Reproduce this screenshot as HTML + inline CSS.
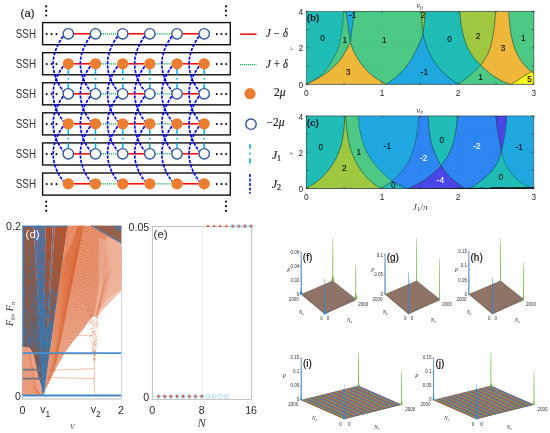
<!DOCTYPE html>
<html lang="en"><head><meta charset="utf-8"><title>Figure</title>
<style>
html,body{margin:0;padding:0;background:#fff;}
body{width:550px;height:433px;overflow:hidden;font-family:"Liberation Sans", sans-serif;}
svg{display:block;font-family:"Liberation Sans", sans-serif;}
</style></head><body>
<svg width="550" height="433" viewBox="0 0 550 433">
<rect width="550" height="433" fill="#fff"/>
<g id="pa">
<text x="20.6" y="16.6" font-size="11.4" fill="#151515" stroke="#151515" stroke-width="0.15">(a)</text>
<rect x="42.6" y="22.60" width="187.7" height="22.1" fill="#fff" stroke="#111" stroke-width="1.4"/>
<rect x="42.6" y="52.68" width="187.7" height="22.1" fill="#fff" stroke="#111" stroke-width="1.4"/>
<rect x="42.6" y="82.76" width="187.7" height="22.1" fill="#fff" stroke="#111" stroke-width="1.4"/>
<rect x="42.6" y="112.84" width="187.7" height="22.1" fill="#fff" stroke="#111" stroke-width="1.4"/>
<rect x="42.6" y="142.92" width="187.7" height="22.1" fill="#fff" stroke="#111" stroke-width="1.4"/>
<rect x="42.6" y="173.00" width="187.7" height="22.1" fill="#fff" stroke="#111" stroke-width="1.4"/>
<text x="15.8" y="37.8" font-size="13.2" fill="#333" textLength="20.2" lengthAdjust="spacingAndGlyphs">SSH</text>
<circle cx="46.7" cy="34.1" r="1.05" fill="#111"/>
<circle cx="51.6" cy="34.1" r="1.05" fill="#111"/>
<circle cx="56.5" cy="34.1" r="1.05" fill="#111"/>
<circle cx="216.8" cy="34.1" r="1.05" fill="#111"/>
<circle cx="221.5" cy="34.1" r="1.05" fill="#111"/>
<circle cx="226.2" cy="34.1" r="1.05" fill="#111"/>
<text x="15.8" y="67.8" font-size="13.2" fill="#333" textLength="20.2" lengthAdjust="spacingAndGlyphs">SSH</text>
<circle cx="46.7" cy="64.1" r="1.05" fill="#111"/>
<circle cx="51.6" cy="64.1" r="1.05" fill="#111"/>
<circle cx="56.5" cy="64.1" r="1.05" fill="#111"/>
<circle cx="216.8" cy="64.1" r="1.05" fill="#111"/>
<circle cx="221.5" cy="64.1" r="1.05" fill="#111"/>
<circle cx="226.2" cy="64.1" r="1.05" fill="#111"/>
<text x="15.8" y="97.8" font-size="13.2" fill="#333" textLength="20.2" lengthAdjust="spacingAndGlyphs">SSH</text>
<circle cx="46.7" cy="94.1" r="1.05" fill="#111"/>
<circle cx="51.6" cy="94.1" r="1.05" fill="#111"/>
<circle cx="56.5" cy="94.1" r="1.05" fill="#111"/>
<circle cx="216.8" cy="94.1" r="1.05" fill="#111"/>
<circle cx="221.5" cy="94.1" r="1.05" fill="#111"/>
<circle cx="226.2" cy="94.1" r="1.05" fill="#111"/>
<text x="15.8" y="127.8" font-size="13.2" fill="#333" textLength="20.2" lengthAdjust="spacingAndGlyphs">SSH</text>
<circle cx="46.7" cy="124.1" r="1.05" fill="#111"/>
<circle cx="51.6" cy="124.1" r="1.05" fill="#111"/>
<circle cx="56.5" cy="124.1" r="1.05" fill="#111"/>
<circle cx="216.8" cy="124.1" r="1.05" fill="#111"/>
<circle cx="221.5" cy="124.1" r="1.05" fill="#111"/>
<circle cx="226.2" cy="124.1" r="1.05" fill="#111"/>
<text x="15.8" y="157.8" font-size="13.2" fill="#333" textLength="20.2" lengthAdjust="spacingAndGlyphs">SSH</text>
<circle cx="46.7" cy="154.1" r="1.05" fill="#111"/>
<circle cx="51.6" cy="154.1" r="1.05" fill="#111"/>
<circle cx="56.5" cy="154.1" r="1.05" fill="#111"/>
<circle cx="216.8" cy="154.1" r="1.05" fill="#111"/>
<circle cx="221.5" cy="154.1" r="1.05" fill="#111"/>
<circle cx="226.2" cy="154.1" r="1.05" fill="#111"/>
<text x="15.8" y="187.8" font-size="13.2" fill="#333" textLength="20.2" lengthAdjust="spacingAndGlyphs">SSH</text>
<circle cx="46.7" cy="184.1" r="1.05" fill="#111"/>
<circle cx="51.6" cy="184.1" r="1.05" fill="#111"/>
<circle cx="56.5" cy="184.1" r="1.05" fill="#111"/>
<circle cx="216.8" cy="184.1" r="1.05" fill="#111"/>
<circle cx="221.5" cy="184.1" r="1.05" fill="#111"/>
<circle cx="226.2" cy="184.1" r="1.05" fill="#111"/>
<circle cx="46.2" cy="6.4" r="1.1" fill="#111"/>
<circle cx="46.2" cy="10.9" r="1.1" fill="#111"/>
<circle cx="46.2" cy="15.5" r="1.1" fill="#111"/>
<circle cx="46.2" cy="201.6" r="1.1" fill="#111"/>
<circle cx="46.2" cy="206.2" r="1.1" fill="#111"/>
<circle cx="46.2" cy="210.9" r="1.1" fill="#111"/>
<circle cx="226" cy="6.4" r="1.1" fill="#111"/>
<circle cx="226" cy="10.9" r="1.1" fill="#111"/>
<circle cx="226" cy="15.5" r="1.1" fill="#111"/>
<circle cx="226" cy="201.6" r="1.1" fill="#111"/>
<circle cx="226" cy="206.2" r="1.1" fill="#111"/>
<circle cx="226" cy="210.9" r="1.1" fill="#111"/>
<line x1="73.8" y1="33.8" x2="90.0" y2="33.8" stroke="#ff0000" stroke-width="1.5"/>
<line x1="101.0" y1="33.8" x2="117.2" y2="33.8" stroke="#00b050" stroke-width="1.3" stroke-dasharray="1.1 0.9"/>
<line x1="128.2" y1="33.8" x2="144.3" y2="33.8" stroke="#ff0000" stroke-width="1.5"/>
<line x1="155.3" y1="33.8" x2="171.5" y2="33.8" stroke="#00b050" stroke-width="1.3" stroke-dasharray="1.1 0.9"/>
<line x1="182.5" y1="33.8" x2="198.7" y2="33.8" stroke="#ff0000" stroke-width="1.5"/>
<line x1="73.8" y1="63.8" x2="90.0" y2="63.8" stroke="#ff0000" stroke-width="1.5"/>
<line x1="101.0" y1="63.8" x2="117.2" y2="63.8" stroke="#00b050" stroke-width="1.3" stroke-dasharray="1.1 0.9"/>
<line x1="128.2" y1="63.8" x2="144.3" y2="63.8" stroke="#ff0000" stroke-width="1.5"/>
<line x1="155.3" y1="63.8" x2="171.5" y2="63.8" stroke="#00b050" stroke-width="1.3" stroke-dasharray="1.1 0.9"/>
<line x1="182.5" y1="63.8" x2="198.7" y2="63.8" stroke="#ff0000" stroke-width="1.5"/>
<line x1="73.8" y1="93.8" x2="90.0" y2="93.8" stroke="#ff0000" stroke-width="1.5"/>
<line x1="101.0" y1="93.8" x2="117.2" y2="93.8" stroke="#00b050" stroke-width="1.3" stroke-dasharray="1.1 0.9"/>
<line x1="128.2" y1="93.8" x2="144.3" y2="93.8" stroke="#ff0000" stroke-width="1.5"/>
<line x1="155.3" y1="93.8" x2="171.5" y2="93.8" stroke="#00b050" stroke-width="1.3" stroke-dasharray="1.1 0.9"/>
<line x1="182.5" y1="93.8" x2="198.7" y2="93.8" stroke="#ff0000" stroke-width="1.5"/>
<line x1="73.8" y1="123.8" x2="90.0" y2="123.8" stroke="#ff0000" stroke-width="1.5"/>
<line x1="101.0" y1="123.8" x2="117.2" y2="123.8" stroke="#00b050" stroke-width="1.3" stroke-dasharray="1.1 0.9"/>
<line x1="128.2" y1="123.8" x2="144.3" y2="123.8" stroke="#ff0000" stroke-width="1.5"/>
<line x1="155.3" y1="123.8" x2="171.5" y2="123.8" stroke="#00b050" stroke-width="1.3" stroke-dasharray="1.1 0.9"/>
<line x1="182.5" y1="123.8" x2="198.7" y2="123.8" stroke="#ff0000" stroke-width="1.5"/>
<line x1="73.8" y1="153.8" x2="90.0" y2="153.8" stroke="#ff0000" stroke-width="1.5"/>
<line x1="101.0" y1="153.8" x2="117.2" y2="153.8" stroke="#00b050" stroke-width="1.3" stroke-dasharray="1.1 0.9"/>
<line x1="128.2" y1="153.8" x2="144.3" y2="153.8" stroke="#ff0000" stroke-width="1.5"/>
<line x1="155.3" y1="153.8" x2="171.5" y2="153.8" stroke="#00b050" stroke-width="1.3" stroke-dasharray="1.1 0.9"/>
<line x1="182.5" y1="153.8" x2="198.7" y2="153.8" stroke="#ff0000" stroke-width="1.5"/>
<line x1="73.8" y1="183.8" x2="90.0" y2="183.8" stroke="#ff0000" stroke-width="1.5"/>
<line x1="101.0" y1="183.8" x2="117.2" y2="183.8" stroke="#00b050" stroke-width="1.3" stroke-dasharray="1.1 0.9"/>
<line x1="128.2" y1="183.8" x2="144.3" y2="183.8" stroke="#ff0000" stroke-width="1.5"/>
<line x1="155.3" y1="183.8" x2="171.5" y2="183.8" stroke="#00b050" stroke-width="1.3" stroke-dasharray="1.1 0.9"/>
<line x1="182.5" y1="183.8" x2="198.7" y2="183.8" stroke="#ff0000" stroke-width="1.5"/>
<path d="M68.3 68.8V74.6M68.3 78.0v1.6M68.3 83.4V88.8" stroke="#00b0f0" stroke-width="1.5" fill="none"/>
<path d="M95.5 68.8V74.6M95.5 78.0v1.6M95.5 83.4V88.8" stroke="#00b0f0" stroke-width="1.5" fill="none"/>
<path d="M122.7 68.8V74.6M122.7 78.0v1.6M122.7 83.4V88.8" stroke="#00b0f0" stroke-width="1.5" fill="none"/>
<path d="M149.8 68.8V74.6M149.8 78.0v1.6M149.8 83.4V88.8" stroke="#00b0f0" stroke-width="1.5" fill="none"/>
<path d="M177.0 68.8V74.6M177.0 78.0v1.6M177.0 83.4V88.8" stroke="#00b0f0" stroke-width="1.5" fill="none"/>
<path d="M204.2 68.8V74.6M204.2 78.0v1.6M204.2 83.4V88.8" stroke="#00b0f0" stroke-width="1.5" fill="none"/>
<path d="M68.3 128.8V134.6M68.3 138.0v1.6M68.3 143.4V148.8" stroke="#00b0f0" stroke-width="1.5" fill="none"/>
<path d="M95.5 128.8V134.6M95.5 138.0v1.6M95.5 143.4V148.8" stroke="#00b0f0" stroke-width="1.5" fill="none"/>
<path d="M122.7 128.8V134.6M122.7 138.0v1.6M122.7 143.4V148.8" stroke="#00b0f0" stroke-width="1.5" fill="none"/>
<path d="M149.8 128.8V134.6M149.8 138.0v1.6M149.8 143.4V148.8" stroke="#00b0f0" stroke-width="1.5" fill="none"/>
<path d="M177.0 128.8V134.6M177.0 138.0v1.6M177.0 143.4V148.8" stroke="#00b0f0" stroke-width="1.5" fill="none"/>
<path d="M204.2 128.8V134.6M204.2 138.0v1.6M204.2 143.4V148.8" stroke="#00b0f0" stroke-width="1.5" fill="none"/>
<path d="M63.3 36.3C49.8 54.3 49.8 73.3 63.3 91.3" stroke="#0000ff" stroke-width="1.65" fill="none" stroke-dasharray="3.2 1.3"/>
<path d="M63.3 66.3C49.8 84.3 49.8 103.3 63.3 121.3" stroke="#0000ff" stroke-width="1.65" fill="none" stroke-dasharray="3.2 1.3"/>
<path d="M63.3 96.3C49.8 114.3 49.8 133.3 63.3 151.3" stroke="#0000ff" stroke-width="1.65" fill="none" stroke-dasharray="3.2 1.3"/>
<path d="M63.3 126.3C49.8 144.3 49.8 163.3 63.3 181.3" stroke="#0000ff" stroke-width="1.65" fill="none" stroke-dasharray="3.2 1.3"/>
<path d="M90.5 36.3C77.0 54.3 77.0 73.3 90.5 91.3" stroke="#0000ff" stroke-width="1.65" fill="none" stroke-dasharray="3.2 1.3"/>
<path d="M90.5 66.3C77.0 84.3 77.0 103.3 90.5 121.3" stroke="#0000ff" stroke-width="1.65" fill="none" stroke-dasharray="3.2 1.3"/>
<path d="M90.5 96.3C77.0 114.3 77.0 133.3 90.5 151.3" stroke="#0000ff" stroke-width="1.65" fill="none" stroke-dasharray="3.2 1.3"/>
<path d="M90.5 126.3C77.0 144.3 77.0 163.3 90.5 181.3" stroke="#0000ff" stroke-width="1.65" fill="none" stroke-dasharray="3.2 1.3"/>
<path d="M117.7 36.3C104.2 54.3 104.2 73.3 117.7 91.3" stroke="#0000ff" stroke-width="1.65" fill="none" stroke-dasharray="3.2 1.3"/>
<path d="M117.7 66.3C104.2 84.3 104.2 103.3 117.7 121.3" stroke="#0000ff" stroke-width="1.65" fill="none" stroke-dasharray="3.2 1.3"/>
<path d="M117.7 96.3C104.2 114.3 104.2 133.3 117.7 151.3" stroke="#0000ff" stroke-width="1.65" fill="none" stroke-dasharray="3.2 1.3"/>
<path d="M117.7 126.3C104.2 144.3 104.2 163.3 117.7 181.3" stroke="#0000ff" stroke-width="1.65" fill="none" stroke-dasharray="3.2 1.3"/>
<path d="M144.8 36.3C131.3 54.3 131.3 73.3 144.8 91.3" stroke="#0000ff" stroke-width="1.65" fill="none" stroke-dasharray="3.2 1.3"/>
<path d="M144.8 66.3C131.3 84.3 131.3 103.3 144.8 121.3" stroke="#0000ff" stroke-width="1.65" fill="none" stroke-dasharray="3.2 1.3"/>
<path d="M144.8 96.3C131.3 114.3 131.3 133.3 144.8 151.3" stroke="#0000ff" stroke-width="1.65" fill="none" stroke-dasharray="3.2 1.3"/>
<path d="M144.8 126.3C131.3 144.3 131.3 163.3 144.8 181.3" stroke="#0000ff" stroke-width="1.65" fill="none" stroke-dasharray="3.2 1.3"/>
<path d="M172.0 36.3C158.5 54.3 158.5 73.3 172.0 91.3" stroke="#0000ff" stroke-width="1.65" fill="none" stroke-dasharray="3.2 1.3"/>
<path d="M172.0 66.3C158.5 84.3 158.5 103.3 172.0 121.3" stroke="#0000ff" stroke-width="1.65" fill="none" stroke-dasharray="3.2 1.3"/>
<path d="M172.0 96.3C158.5 114.3 158.5 133.3 172.0 151.3" stroke="#0000ff" stroke-width="1.65" fill="none" stroke-dasharray="3.2 1.3"/>
<path d="M172.0 126.3C158.5 144.3 158.5 163.3 172.0 181.3" stroke="#0000ff" stroke-width="1.65" fill="none" stroke-dasharray="3.2 1.3"/>
<path d="M199.2 36.3C185.7 54.3 185.7 73.3 199.2 91.3" stroke="#0000ff" stroke-width="1.65" fill="none" stroke-dasharray="3.2 1.3"/>
<path d="M199.2 66.3C185.7 84.3 185.7 103.3 199.2 121.3" stroke="#0000ff" stroke-width="1.65" fill="none" stroke-dasharray="3.2 1.3"/>
<path d="M199.2 96.3C185.7 114.3 185.7 133.3 199.2 151.3" stroke="#0000ff" stroke-width="1.65" fill="none" stroke-dasharray="3.2 1.3"/>
<path d="M199.2 126.3C185.7 144.3 185.7 163.3 199.2 181.3" stroke="#0000ff" stroke-width="1.65" fill="none" stroke-dasharray="3.2 1.3"/>
<circle cx="68.3" cy="33.8" r="5.2" fill="#fff" stroke="#2f5597" stroke-width="1.4"/>
<circle cx="95.5" cy="33.8" r="5.2" fill="#fff" stroke="#2f5597" stroke-width="1.4"/>
<circle cx="122.7" cy="33.8" r="5.2" fill="#fff" stroke="#2f5597" stroke-width="1.4"/>
<circle cx="149.8" cy="33.8" r="5.2" fill="#fff" stroke="#2f5597" stroke-width="1.4"/>
<circle cx="177.0" cy="33.8" r="5.2" fill="#fff" stroke="#2f5597" stroke-width="1.4"/>
<circle cx="204.2" cy="33.8" r="5.2" fill="#fff" stroke="#2f5597" stroke-width="1.4"/>
<circle cx="68.3" cy="63.8" r="5.6" fill="#ed7d31"/>
<circle cx="95.5" cy="63.8" r="5.6" fill="#ed7d31"/>
<circle cx="122.7" cy="63.8" r="5.6" fill="#ed7d31"/>
<circle cx="149.8" cy="63.8" r="5.6" fill="#ed7d31"/>
<circle cx="177.0" cy="63.8" r="5.6" fill="#ed7d31"/>
<circle cx="204.2" cy="63.8" r="5.6" fill="#ed7d31"/>
<circle cx="68.3" cy="93.8" r="5.2" fill="#fff" stroke="#2f5597" stroke-width="1.4"/>
<circle cx="95.5" cy="93.8" r="5.2" fill="#fff" stroke="#2f5597" stroke-width="1.4"/>
<circle cx="122.7" cy="93.8" r="5.2" fill="#fff" stroke="#2f5597" stroke-width="1.4"/>
<circle cx="149.8" cy="93.8" r="5.2" fill="#fff" stroke="#2f5597" stroke-width="1.4"/>
<circle cx="177.0" cy="93.8" r="5.2" fill="#fff" stroke="#2f5597" stroke-width="1.4"/>
<circle cx="204.2" cy="93.8" r="5.2" fill="#fff" stroke="#2f5597" stroke-width="1.4"/>
<circle cx="68.3" cy="123.8" r="5.6" fill="#ed7d31"/>
<circle cx="95.5" cy="123.8" r="5.6" fill="#ed7d31"/>
<circle cx="122.7" cy="123.8" r="5.6" fill="#ed7d31"/>
<circle cx="149.8" cy="123.8" r="5.6" fill="#ed7d31"/>
<circle cx="177.0" cy="123.8" r="5.6" fill="#ed7d31"/>
<circle cx="204.2" cy="123.8" r="5.6" fill="#ed7d31"/>
<circle cx="68.3" cy="153.8" r="5.2" fill="#fff" stroke="#2f5597" stroke-width="1.4"/>
<circle cx="95.5" cy="153.8" r="5.2" fill="#fff" stroke="#2f5597" stroke-width="1.4"/>
<circle cx="122.7" cy="153.8" r="5.2" fill="#fff" stroke="#2f5597" stroke-width="1.4"/>
<circle cx="149.8" cy="153.8" r="5.2" fill="#fff" stroke="#2f5597" stroke-width="1.4"/>
<circle cx="177.0" cy="153.8" r="5.2" fill="#fff" stroke="#2f5597" stroke-width="1.4"/>
<circle cx="204.2" cy="153.8" r="5.2" fill="#fff" stroke="#2f5597" stroke-width="1.4"/>
<circle cx="68.3" cy="183.8" r="5.6" fill="#ed7d31"/>
<circle cx="95.5" cy="183.8" r="5.6" fill="#ed7d31"/>
<circle cx="122.7" cy="183.8" r="5.6" fill="#ed7d31"/>
<circle cx="149.8" cy="183.8" r="5.6" fill="#ed7d31"/>
<circle cx="177.0" cy="183.8" r="5.6" fill="#ed7d31"/>
<circle cx="204.2" cy="183.8" r="5.6" fill="#ed7d31"/>
<line x1="240" y1="34.2" x2="256.5" y2="34.2" stroke="#ff0000" stroke-width="1.5"/>
<line x1="240" y1="64.7" x2="256.5" y2="64.7" stroke="#00b050" stroke-width="1.3" stroke-dasharray="1.1 0.9"/>
<circle cx="250" cy="93.7" r="5.6" fill="#ed7d31"/>
<circle cx="251" cy="124.2" r="5.2" fill="#fff" stroke="#2f5597" stroke-width="1.4"/>
<path d="M250 144.3v4.4M250 152.8v1.6M250 158.2v5.2" stroke="#00b0f0" stroke-width="1.6" fill="none"/>
<line x1="250" y1="173.9" x2="250" y2="193.7" stroke="#0000ff" stroke-width="1.5" stroke-dasharray="3.2 1.3"/>
<text x="266" y="37.2" style='font-family:"Liberation Serif", serif;font-style:italic;font-size:11.5px;fill:#262626;stroke:#262626;stroke-width:0.2px' textLength="22" lengthAdjust="spacingAndGlyphs">J − δ</text>
<text x="266" y="67.8" style='font-family:"Liberation Serif", serif;font-style:italic;font-size:11.5px;fill:#262626;stroke:#262626;stroke-width:0.2px' textLength="22" lengthAdjust="spacingAndGlyphs">J + δ</text>
<text x="274" y="96" style='font-family:"Liberation Serif", serif;font-style:italic;font-size:11.5px;fill:#262626;stroke:#262626;stroke-width:0.2px'><tspan font-style="normal">2</tspan>μ</text>
<text x="266.5" y="126.4" style='font-family:"Liberation Serif", serif;font-style:italic;font-size:11.5px;fill:#262626;stroke:#262626;stroke-width:0.2px'><tspan font-style="normal">−2</tspan>μ</text>
<text x="272" y="158.5" style='font-family:"Liberation Serif", serif;font-style:italic;font-size:11.5px;fill:#262626;stroke:#262626;stroke-width:0.2px'>J<tspan font-style="normal" font-size="8" dy="2">1</tspan></text>
<text x="272" y="188.3" style='font-family:"Liberation Serif", serif;font-style:italic;font-size:11.5px;fill:#262626;stroke:#262626;stroke-width:0.2px'>J<tspan font-style="normal" font-size="8" dy="2">2</tspan></text>
</g>
<g id="pb">
<clipPath id="cb"><rect x="306.2" y="11.2" width="227.7" height="73.2"/></clipPath><g clip-path="url(#cb)">
<rect x="306.2" y="11.2" width="227.7" height="73.2" fill="#1fbdb6"/>
<path d="M306.2 84.4C308.0 83.3 313.9 80.1 316.9 78.0C319.9 75.9 322.1 74.1 324.2 72.0C326.2 69.9 327.8 67.5 329.2 65.5C330.6 63.5 331.2 62.1 332.4 60.0C333.6 57.9 335.1 55.9 336.3 53.0C337.6 50.1 338.9 46.2 339.9 42.4C340.8 38.5 341.4 34.0 342.0 29.9C342.6 25.8 342.9 20.6 343.2 17.5C343.5 14.4 343.6 12.2 343.7 11.2L346.1 11.2C346.5 14.2 347.9 23.8 348.6 29.0C349.3 34.2 350.2 40.2 350.5 42.4L350.5 42.4C349.7 43.8 347.6 48.0 345.9 50.9C344.2 53.8 342.1 57.5 340.2 60.0C338.3 62.5 336.6 64.0 334.5 66.0C332.4 68.0 330.4 70.0 327.8 72.0C325.2 74.0 322.3 75.9 318.7 78.0C315.1 80.1 308.3 83.3 306.2 84.4Z" fill="#4bc985" stroke="#1b3b33" stroke-width="0.45" stroke-opacity="0.85" stroke-linejoin="round"/>
<path d="M346.1 11.2C346.5 14.2 347.9 23.8 348.6 29.0C349.3 34.2 350.2 40.2 350.5 42.4L350.5 42.4C350.8 40.3 351.3 35.2 352.0 30.0C352.7 24.8 354.1 14.3 354.5 11.2Z" fill="#1fa8e0" stroke="#1b3b33" stroke-width="0.45" stroke-opacity="0.85" stroke-linejoin="round"/>
<path d="M306.2 84.4C308.3 83.3 315.1 80.1 318.7 78.0C322.3 75.9 325.2 74.0 327.8 72.0C330.4 70.0 332.4 68.0 334.5 66.0C336.6 64.0 338.3 62.5 340.2 60.0C342.1 57.5 344.2 53.8 345.9 50.9C347.6 48.0 349.7 43.8 350.5 42.4L350.5 42.4C351.2 44.1 352.5 49.0 354.5 52.8C356.5 56.6 359.4 61.5 362.4 65.3C365.4 69.1 368.7 72.5 372.7 75.7C376.7 78.9 384.0 83.0 386.3 84.4Z" fill="#efb83a" stroke="#1b3b33" stroke-width="0.45" stroke-opacity="0.85" stroke-linejoin="round"/>
<path d="M354.5 11.2C354.1 14.3 352.7 24.8 352.0 30.0C351.3 35.2 350.8 40.3 350.5 42.4L350.5 42.4C351.2 44.1 352.5 49.0 354.5 52.8C356.5 56.6 359.4 61.5 362.4 65.3C365.4 69.1 368.7 72.5 372.7 75.7C376.7 78.9 384.0 83.0 386.3 84.4L386.3 84.4C388.0 83.1 393.5 79.4 396.6 76.7C399.7 74.0 402.3 71.5 404.9 68.4C407.5 65.3 410.1 61.5 412.2 58.0C414.3 54.5 415.8 50.9 417.4 47.6C419.0 44.3 420.7 40.5 421.6 38.3C422.5 36.0 422.8 34.8 423.0 34.1L423.0 34.1C422.9 32.7 422.7 29.6 422.4 25.8C422.1 22.0 421.5 13.6 421.3 11.2Z" fill="#4bc985" stroke="#1b3b33" stroke-width="0.45" stroke-opacity="0.85" stroke-linejoin="round"/>
<path d="M421.3 11.2C421.5 13.6 422.1 22.0 422.4 25.8C422.7 29.6 422.9 32.7 423.0 34.1L423.0 34.1C423.2 32.7 423.6 29.6 424.0 25.8C424.4 22.0 425.4 13.6 425.7 11.2Z" fill="#9fc840" stroke="#1b3b33" stroke-width="0.45" stroke-opacity="0.85" stroke-linejoin="round"/>
<path d="M386.3 84.4C388.0 83.1 393.5 79.4 396.6 76.7C399.7 74.0 402.3 71.5 404.9 68.4C407.5 65.3 410.1 61.5 412.2 58.0C414.3 54.5 415.8 50.9 417.4 47.6C419.0 44.3 420.7 40.5 421.6 38.3C422.5 36.0 422.8 34.8 423.0 34.1L423.0 34.1C423.6 36.2 425.0 42.1 426.8 46.6C428.6 51.1 431.1 56.6 434.0 61.1C436.9 65.6 440.4 69.7 444.4 73.6C448.4 77.5 455.9 82.6 458.2 84.4Z" fill="#1fa8e0" stroke="#1b3b33" stroke-width="0.45" stroke-opacity="0.85" stroke-linejoin="round"/>
<path d="M425.7 11.2C425.4 13.6 424.4 22.0 424.0 25.8C423.6 29.6 423.2 32.7 423.0 34.1L423.0 34.1C423.6 36.2 425.0 42.1 426.8 46.6C428.6 51.1 431.1 56.6 434.0 61.1C436.9 65.6 440.4 69.7 444.4 73.6C448.4 77.5 455.9 82.6 458.2 84.4L458.2 84.4C460.1 83.0 465.9 78.9 469.7 75.7C473.5 72.5 478.9 67.0 480.8 65.3L480.8 65.3C479.3 63.6 474.3 58.7 471.8 54.9C469.3 51.1 467.3 47.2 465.6 42.4C463.9 37.5 462.3 31.0 461.4 25.8C460.5 20.6 460.2 13.6 460.0 11.2Z" fill="#1fbdb6" stroke="#1b3b33" stroke-width="0.45" stroke-opacity="0.85" stroke-linejoin="round"/>
<path d="M460.0 11.2C460.2 13.6 460.5 20.6 461.4 25.8C462.3 31.0 463.9 37.5 465.6 42.4C467.3 47.2 469.3 51.1 471.8 54.9C474.3 58.7 479.3 63.6 480.8 65.3L480.8 65.3C482.1 63.2 486.5 57.3 488.5 52.8C490.5 48.3 491.6 43.1 492.6 38.3C493.6 33.4 494.2 28.2 494.7 23.7C495.2 19.2 495.5 13.3 495.7 11.2Z" fill="#9fc840" stroke="#1b3b33" stroke-width="0.45" stroke-opacity="0.85" stroke-linejoin="round"/>
<path d="M458.2 84.4C460.1 83.0 465.9 78.9 469.7 75.7C473.5 72.5 478.9 67.0 480.8 65.3L480.8 65.3C482.6 66.8 488.1 72.0 491.6 74.6C495.1 77.2 498.7 79.3 502.0 80.9C505.3 82.5 509.8 83.8 511.3 84.4Z" fill="#4bc985" stroke="#1b3b33" stroke-width="0.45" stroke-opacity="0.85" stroke-linejoin="round"/>
<path d="M480.8 65.3C482.1 63.2 486.5 57.3 488.5 52.8C490.5 48.3 491.6 43.1 492.6 38.3C493.6 33.4 494.2 28.2 494.7 23.7C495.2 19.2 495.5 13.3 495.7 11.2L508.8 11.2C509.0 13.6 509.3 21.0 509.9 25.8C510.5 30.6 511.1 35.4 512.4 40.3C513.7 45.1 515.5 50.7 517.6 54.9C519.7 59.1 522.5 62.5 524.8 65.3C527.1 68.1 530.4 70.6 531.5 71.7L531.5 71.7C530.4 72.4 526.9 74.4 524.8 75.7C522.6 77.0 520.9 78.3 518.6 79.8C516.4 81.2 512.5 83.6 511.3 84.4L511.3 84.4C509.8 83.8 505.3 82.5 502.0 80.9C498.7 79.3 495.1 77.2 491.6 74.6C488.1 72.0 482.6 66.8 480.8 65.3Z" fill="#efb83a" stroke="#1b3b33" stroke-width="0.45" stroke-opacity="0.85" stroke-linejoin="round"/>
<path d="M508.8 11.2C509.0 13.6 509.3 21.0 509.9 25.8C510.5 30.6 511.1 35.4 512.4 40.3C513.7 45.1 515.5 50.7 517.6 54.9C519.7 59.1 522.5 62.5 524.8 65.3C527.1 68.1 529.9 70.4 531.5 71.7C533.1 73.0 533.8 73.0 534.2 73.2L534.2 73.2L534.2 11.2Z" fill="#4bc985" stroke="#1b3b33" stroke-width="0.45" stroke-opacity="0.85" stroke-linejoin="round"/>
<path d="M511.3 84.4C512.5 83.6 516.4 81.2 518.6 79.8C520.9 78.3 522.6 77.0 524.8 75.7C526.9 74.4 530.4 72.4 531.5 71.7L531.5 71.7L534.2 73.2L534.2 73.2L534.2 84.4Z" fill="#f7f71a" stroke="#1b3b33" stroke-width="0.45" stroke-opacity="0.85" stroke-linejoin="round"/>
<path d="M531.5 71.7L534.2 70.0L534.2 70.0L534.2 73.2Z" fill="#efb83a" stroke="#1b3b33" stroke-width="0.45" stroke-opacity="0.85" stroke-linejoin="round"/>
</g>
<text transform="translate(322.6 40.9) scale(0.9 1)" font-size="9.2" text-anchor="middle" fill="#111" stroke="#111" stroke-width="0.12">0</text>
<text transform="translate(344.9 43.3) scale(0.9 1)" font-size="9.2" text-anchor="middle" fill="#111" stroke="#111" stroke-width="0.12">1</text>
<text transform="translate(352.6 18.1) scale(0.9 1)" font-size="9.2" text-anchor="middle" fill="#111" stroke="#111" stroke-width="0.12">-1</text>
<text transform="translate(384.4 42.6) scale(0.9 1)" font-size="9.2" text-anchor="middle" fill="#111" stroke="#111" stroke-width="0.12">1</text>
<text transform="translate(348.2 74.7) scale(0.9 1)" font-size="9.2" text-anchor="middle" fill="#111" stroke="#111" stroke-width="0.12">3</text>
<text transform="translate(423.0 17.9) scale(0.9 1)" font-size="9.2" text-anchor="middle" fill="#111" stroke="#111" stroke-width="0.12">2</text>
<text transform="translate(449.6 41.6) scale(0.9 1)" font-size="9.2" text-anchor="middle" fill="#111" stroke="#111" stroke-width="0.12">0</text>
<text transform="translate(424.3 74.7) scale(0.9 1)" font-size="9.2" text-anchor="middle" fill="#111" stroke="#111" stroke-width="0.12">-1</text>
<text transform="translate(478.0 39.1) scale(0.9 1)" font-size="9.2" text-anchor="middle" fill="#111" stroke="#111" stroke-width="0.12">2</text>
<text transform="translate(503.0 50.9) scale(0.9 1)" font-size="9.2" text-anchor="middle" fill="#111" stroke="#111" stroke-width="0.12">3</text>
<text transform="translate(523.2 40.7) scale(0.9 1)" font-size="9.2" text-anchor="middle" fill="#111" stroke="#111" stroke-width="0.12">1</text>
<text transform="translate(480.6 79.6) scale(0.9 1)" font-size="9.2" text-anchor="middle" fill="#111" stroke="#111" stroke-width="0.12">1</text>
<text transform="translate(529.6 81.7) scale(0.9 1)" font-size="9.2" text-anchor="middle" fill="#111" stroke="#111" stroke-width="0.12">5</text>
<line x1="344.1" y1="11.2" x2="344.1" y2="84.4" stroke="#000" stroke-opacity="0.05" stroke-width="0.5"/>
<line x1="382.1" y1="11.2" x2="382.1" y2="84.4" stroke="#000" stroke-opacity="0.05" stroke-width="0.5"/>
<line x1="420.0" y1="11.2" x2="420.0" y2="84.4" stroke="#000" stroke-opacity="0.05" stroke-width="0.5"/>
<line x1="458.0" y1="11.2" x2="458.0" y2="84.4" stroke="#000" stroke-opacity="0.05" stroke-width="0.5"/>
<line x1="495.9" y1="11.2" x2="495.9" y2="84.4" stroke="#000" stroke-opacity="0.05" stroke-width="0.5"/>
<line x1="306.2" y1="66.1" x2="533.9" y2="66.1" stroke="#000" stroke-opacity="0.05" stroke-width="0.5"/>
<line x1="306.2" y1="47.8" x2="533.9" y2="47.8" stroke="#000" stroke-opacity="0.05" stroke-width="0.5"/>
<line x1="306.2" y1="29.5" x2="533.9" y2="29.5" stroke="#000" stroke-opacity="0.05" stroke-width="0.5"/>
<rect x="306.2" y="11.2" width="227.7" height="73.2" fill="none" stroke="#333" stroke-width="0.5"/>
<path d="M306.2 84.4v-2M306.2 11.2v2" stroke="#222" stroke-width="0.5"/>
<path d="M344.1 84.4v-2M344.1 11.2v2" stroke="#222" stroke-width="0.5"/>
<path d="M382.1 84.4v-2M382.1 11.2v2" stroke="#222" stroke-width="0.5"/>
<path d="M420.0 84.4v-2M420.0 11.2v2" stroke="#222" stroke-width="0.5"/>
<path d="M458.0 84.4v-2M458.0 11.2v2" stroke="#222" stroke-width="0.5"/>
<path d="M495.9 84.4v-2M495.9 11.2v2" stroke="#222" stroke-width="0.5"/>
<path d="M533.9 84.4v-2M533.9 11.2v2" stroke="#222" stroke-width="0.5"/>
<path d="M306.2 84.4h2M533.9 84.4h-2" stroke="#222" stroke-width="0.5"/>
<path d="M306.2 66.1h2M533.9 66.1h-2" stroke="#222" stroke-width="0.5"/>
<path d="M306.2 47.8h2M533.9 47.8h-2" stroke="#222" stroke-width="0.5"/>
<path d="M306.2 29.5h2M533.9 29.5h-2" stroke="#222" stroke-width="0.5"/>
<path d="M306.2 11.2h2M533.9 11.2h-2" stroke="#222" stroke-width="0.5"/>
<text x="306.2" y="96.2" font-size="8.3" text-anchor="middle" fill="#262626">0</text>
<text x="382.1" y="96.2" font-size="8.3" text-anchor="middle" fill="#262626">1</text>
<text x="458.0" y="96.2" font-size="8.3" text-anchor="middle" fill="#262626">2</text>
<text x="533.9" y="96.2" font-size="8.3" text-anchor="middle" fill="#262626">3</text>
<text x="303.2" y="88.0" font-size="8.3" text-anchor="end" fill="#262626">0</text>
<text x="303.2" y="51.4" font-size="8.3" text-anchor="end" fill="#262626">2</text>
<text x="303.2" y="14.8" font-size="8.3" text-anchor="end" fill="#262626">4</text>
<text x="306.8" y="20.8" font-size="9.9" font-weight="bold" fill="#0e1d24">(b)</text>
<text x="419.6" y="8.2" font-family='"Liberation Serif", serif' font-style="italic" font-size="8" fill="#333" text-anchor="middle">ν<tspan font-size="5.5" dy="1.5" font-style="normal">0</tspan></text>
<text transform="translate(293.4 48.8) rotate(-90)" font-family='"Liberation Serif", serif' font-style="italic" font-size="6.5" fill="#555" text-anchor="middle">v</text>
</g>
<g id="pc">
<clipPath id="cc"><rect x="306.2" y="115.9" width="227.7" height="73.29999999999998"/></clipPath><g clip-path="url(#cc)">
<rect x="306.2" y="115.9" width="227.7" height="72.69999999999999" fill="#1fa8e0"/>
<path d="M306.2 188.6C307.9 187.5 313.5 184.2 316.6 181.8C319.7 179.5 322.3 177.3 324.9 174.5C327.5 171.7 330.1 168.3 332.2 165.2C334.3 162.1 335.9 159.1 337.4 155.8C338.9 152.5 340.2 148.9 341.2 145.4C342.2 141.9 342.6 138.5 343.2 135.0C343.8 131.5 344.2 127.8 344.5 124.6C344.8 121.4 344.8 117.4 344.9 115.9L344.9 115.9L306.2 115.9L306.2 115.9L306.2 188.6Z" fill="#1fbdb6" stroke="#1b3b33" stroke-width="0.45" stroke-opacity="0.85" stroke-linejoin="round"/>
<path d="M306.2 188.6C307.9 187.5 313.5 184.2 316.6 181.8C319.7 179.5 322.3 177.3 324.9 174.5C327.5 171.7 330.1 168.3 332.2 165.2C334.3 162.1 335.9 159.1 337.4 155.8C338.9 152.5 340.2 148.9 341.2 145.4C342.2 141.9 342.6 138.5 343.2 135.0C343.8 131.5 344.2 127.8 344.5 124.6C344.8 121.4 344.8 117.4 344.9 115.9L344.9 115.9L345.7 115.9L345.7 115.9C345.9 117.7 346.2 122.8 346.6 126.7C347.0 130.6 347.4 135.0 348.2 139.2C349.0 143.4 350.0 147.5 351.5 151.7C353.0 155.8 355.1 160.3 357.2 164.1C359.3 167.9 361.8 171.4 364.4 174.5C367.0 177.6 369.9 180.5 372.7 182.8C375.5 185.2 379.7 187.6 381.1 188.6Z" fill="#9fc840" stroke="#1b3b33" stroke-width="0.45" stroke-opacity="0.85" stroke-linejoin="round"/>
<path d="M345.7 115.9C345.9 117.7 346.2 122.8 346.6 126.7C347.0 130.6 347.4 135.0 348.2 139.2C349.0 143.4 350.0 147.5 351.5 151.7C353.0 155.8 355.1 160.3 357.2 164.1C359.3 167.9 361.8 171.4 364.4 174.5C367.0 177.6 369.9 180.5 372.7 182.8C375.5 185.2 379.7 187.6 381.1 188.6L381.1 188.6C382.1 187.9 385.5 185.8 387.3 184.5C389.1 183.2 391.3 181.6 392.1 181.0L392.1 181.0C390.6 179.8 386.2 176.5 383.1 173.5C380.1 170.5 376.6 166.7 373.8 163.1C371.0 159.5 368.5 155.7 366.5 151.7C364.5 147.7 363.1 143.4 361.9 139.2C360.7 135.0 359.8 130.6 359.2 126.7C358.6 122.8 358.4 117.7 358.2 115.9Z" fill="#4bc985" stroke="#1b3b33" stroke-width="0.45" stroke-opacity="0.85" stroke-linejoin="round"/>
<path d="M381.1 188.6C382.1 187.9 385.5 185.8 387.3 184.5C389.1 183.2 391.3 181.6 392.1 181.0L392.1 181.0C393.6 181.8 398.1 184.7 400.8 186.0C403.5 187.3 406.9 188.2 408.1 188.6Z" fill="#1fbdb6" stroke="#1b3b33" stroke-width="0.45" stroke-opacity="0.85" stroke-linejoin="round"/>
<path d="M392.1 181.0C393.6 179.6 398.1 175.6 400.8 172.4C403.5 169.2 406.0 165.8 408.1 162.0C410.2 158.2 411.9 153.8 413.3 149.6C414.7 145.4 415.6 141.3 416.4 137.1C417.2 132.9 417.6 128.1 418.0 124.6C418.4 121.1 418.6 117.4 418.7 115.9L428.2 115.9C428.4 118.1 428.6 124.2 429.1 128.8C429.7 133.4 430.3 138.8 431.5 143.3C432.7 147.8 434.5 152.1 436.1 155.8C437.7 159.6 440.4 164.1 441.3 165.8L441.3 165.8C439.8 167.2 435.3 171.8 432.0 174.5C428.7 177.2 425.6 179.5 421.6 181.8C417.6 184.2 410.4 187.5 408.1 188.6L408.1 188.6C406.9 188.2 403.5 187.3 400.8 186.0C398.1 184.7 393.6 181.8 392.1 181.0Z" fill="#2e86f2" stroke="#1b3b33" stroke-width="0.45" stroke-opacity="0.85" stroke-linejoin="round"/>
<path d="M428.2 115.9C428.4 118.1 428.6 124.2 429.1 128.8C429.7 133.4 430.3 138.8 431.5 143.3C432.7 147.8 434.5 152.1 436.1 155.8C437.7 159.6 440.4 164.1 441.3 165.8L441.3 165.8C442.5 164.0 446.5 158.9 448.6 154.8C450.7 150.7 452.5 146.0 453.8 141.3C455.1 136.6 455.9 130.9 456.5 126.7C457.1 122.5 457.2 117.7 457.3 115.9Z" fill="#1fbdb6" stroke="#1b3b33" stroke-width="0.45" stroke-opacity="0.85" stroke-linejoin="round"/>
<path d="M441.3 165.8C439.8 167.2 435.3 171.8 432.0 174.5C428.7 177.2 425.6 179.5 421.6 181.8C417.6 184.2 410.4 187.5 408.1 188.6L465.2 188.6C463.8 187.6 459.7 185.0 456.9 182.8C454.1 180.6 451.2 178.4 448.6 175.6C446.0 172.8 442.5 167.4 441.3 165.8Z" fill="#4a45e6" stroke="#1b3b33" stroke-width="0.45" stroke-opacity="0.85" stroke-linejoin="round"/>
<path d="M457.3 115.9C457.2 117.7 457.1 122.5 456.5 126.7C455.9 130.9 455.1 136.6 453.8 141.3C452.5 146.0 450.7 150.7 448.6 154.8C446.5 158.9 442.5 164.0 441.3 165.8L441.3 165.8C442.5 167.4 446.0 172.8 448.6 175.6C451.2 178.4 454.1 180.6 456.9 182.8C459.7 185.0 463.8 187.6 465.2 188.6L469.7 188.6C471.6 187.3 477.7 183.5 481.2 180.8C484.7 178.1 487.7 175.5 490.5 172.4C493.3 169.3 496.0 165.4 497.8 162.0C499.6 158.6 500.9 153.4 501.5 151.7L501.5 151.7C501.2 150.0 500.2 145.1 499.5 141.3C498.8 137.5 498.0 133.0 497.4 128.8C496.8 124.6 496.3 118.1 496.1 115.9Z" fill="#2e86f2" stroke="#1b3b33" stroke-width="0.45" stroke-opacity="0.85" stroke-linejoin="round"/>
<path d="M496.1 115.9C496.3 118.1 496.8 124.6 497.4 128.8C498.0 133.0 498.8 137.5 499.5 141.3C500.2 145.1 501.2 150.0 501.5 151.7L501.5 151.7C501.9 150.0 502.9 145.1 503.6 141.3C504.3 137.5 505.2 133.0 505.7 128.8C506.2 124.6 506.5 118.1 506.7 115.9Z" fill="#4a45e6" stroke="#1b3b33" stroke-width="0.45" stroke-opacity="0.85" stroke-linejoin="round"/>
<path d="M501.5 151.7C500.9 153.4 499.6 158.6 497.8 162.0C496.0 165.4 493.3 169.3 490.5 172.4C487.7 175.5 484.7 178.1 481.2 180.8C477.7 183.5 471.6 187.3 469.7 188.6L534.2 188.6C533.2 188.3 530.5 187.9 527.9 186.6C525.3 185.3 521.5 183.2 518.6 180.8C515.7 178.4 512.6 175.5 510.3 172.4C507.9 169.3 506.0 165.4 504.5 162.0C503.0 158.6 502.0 153.4 501.5 151.7Z" fill="#1fbdb6" stroke="#1b3b33" stroke-width="0.45" stroke-opacity="0.85" stroke-linejoin="round"/>
<path d="M408 189.0L408.0 188.60L408.9 188.59L409.8 188.59L410.7 188.57L411.6 188.56L412.5 188.58L413.4 188.58L414.3 188.52L415.2 188.55L416.1 188.55L417.0 188.47L417.9 188.51L418.8 188.46L419.7 188.50L420.6 188.47L421.5 188.53L422.4 188.45L423.3 188.40L424.2 188.45L425.1 188.40L426.0 188.40L426.9 188.51L427.8 188.37L428.7 188.39L429.6 188.45L430.5 188.50L431.4 188.30L432.3 188.39L433.2 188.31L434.1 188.26L435.0 188.29L435.9 188.22L436.8 188.37L437.7 188.24L438.6 188.34L439.5 188.17L440.4 188.18L441.3 188.43L442.2 188.42L443.1 188.38L444.0 188.10L444.9 188.29L445.8 188.21L446.7 188.33L447.6 188.24L448.5 188.28L449.4 188.29L450.3 188.18L451.2 188.17L452.1 188.01L453.0 188.11L453.9 187.98L454.8 188.00L455.7 187.92L456.6 188.07L457.5 188.32L458.4 187.95L459.3 187.89L460.2 187.91L461.1 188.08L462.0 187.99L462.9 188.26L463.8 187.90L464.7 188.04L465.6 188.20L466.5 188.33L467.4 187.84L468.3 187.75L469.2 188.30L470.1 187.84L471.0 188.08L471.9 188.25L472.8 188.15L473.7 187.82L474.6 187.74L475.5 188.30L476.4 187.90L477.3 188.29L478.2 187.80L479.1 188.08L480.0 187.66L480.9 187.57L481.8 187.92L482.7 187.54L483.6 188.06L484.5 188.24L485.4 187.82L486.3 188.26L487.2 188.13L488.1 187.95L489.0 187.77L489.9 188.14L490.8 188.24L491.7 187.52L492.6 187.99L493.5 187.42L494.4 187.46L495.3 187.91L496.2 187.83L497.1 187.77L498.0 187.65L498.9 187.68L499.8 187.71L500.7 187.64L501.6 187.32L502.5 187.73L503.4 187.80L504.3 187.50L505.2 187.98L506.1 187.91L507.0 187.21L507.9 187.67L508.8 187.63L509.7 188.19L510.6 187.75L511.5 187.57L512.4 188.16L513.3 187.51L514.2 187.49L515.1 188.11L516.0 187.47L516.9 187.65L517.8 187.40L518.7 187.76L519.6 187.35L520.5 187.30L521.4 188.12L522.3 188.08L523.2 187.34L524.1 186.99L525.0 187.83L525.9 187.58L526.8 187.40L527.7 187.73L528.6 187.67L529.5 187.73L530.4 187.65L531.3 187.35L532.2 187.72L533.1 187.62L534.0 187.10L534.2 189.0Z" fill="#000"/>
<line x1="462" y1="188.45" x2="533.9" y2="188.45" stroke="#000" stroke-width="1.0"/>
<line x1="490" y1="188.2" x2="533.9" y2="188.2" stroke="#000" stroke-width="1.5"/>
</g>
<text transform="translate(320.8 150.0) scale(0.9 1)" font-size="9.2" text-anchor="middle" fill="#111" stroke="#111" stroke-width="0.12">0</text>
<text transform="translate(344.3 170.8) scale(0.9 1)" font-size="9.2" text-anchor="middle" fill="#111" stroke="#111" stroke-width="0.12">2</text>
<text transform="translate(358.8 155.0) scale(0.9 1)" font-size="9.2" text-anchor="middle" fill="#111" stroke="#111" stroke-width="0.12">1</text>
<text transform="translate(387.3 149.4) scale(0.9 1)" font-size="9.2" text-anchor="middle" fill="#111" stroke="#111" stroke-width="0.12">-1</text>
<text transform="translate(393.3 187.9) scale(0.9 1)" font-size="9.2" text-anchor="middle" fill="#111" stroke="#111" stroke-width="0.12">0</text>
<text transform="translate(423.6 161.4) scale(0.9 1)" font-size="9.2" text-anchor="middle" fill="#fff" stroke="#fff" stroke-width="0.12">-2</text>
<text transform="translate(441.9 142.7) scale(0.9 1)" font-size="9.2" text-anchor="middle" fill="#111" stroke="#111" stroke-width="0.12">0</text>
<text transform="translate(440.3 182.6) scale(0.9 1)" font-size="9.2" text-anchor="middle" fill="#fff" stroke="#fff" stroke-width="0.12">-4</text>
<text transform="translate(477.0 149.4) scale(0.9 1)" font-size="9.2" text-anchor="middle" fill="#fff" stroke="#fff" stroke-width="0.12">-2</text>
<text transform="translate(519.2 149.8) scale(0.9 1)" font-size="9.2" text-anchor="middle" fill="#111" stroke="#111" stroke-width="0.12">-1</text>
<text transform="translate(500.9 179.5) scale(0.9 1)" font-size="9.2" text-anchor="middle" fill="#111" stroke="#111" stroke-width="0.12">0</text>
<line x1="344.1" y1="115.9" x2="344.1" y2="188.6" stroke="#000" stroke-opacity="0.05" stroke-width="0.5"/>
<line x1="382.1" y1="115.9" x2="382.1" y2="188.6" stroke="#000" stroke-opacity="0.05" stroke-width="0.5"/>
<line x1="420.0" y1="115.9" x2="420.0" y2="188.6" stroke="#000" stroke-opacity="0.05" stroke-width="0.5"/>
<line x1="458.0" y1="115.9" x2="458.0" y2="188.6" stroke="#000" stroke-opacity="0.05" stroke-width="0.5"/>
<line x1="495.9" y1="115.9" x2="495.9" y2="188.6" stroke="#000" stroke-opacity="0.05" stroke-width="0.5"/>
<line x1="306.2" y1="170.4" x2="533.9" y2="170.4" stroke="#000" stroke-opacity="0.05" stroke-width="0.5"/>
<line x1="306.2" y1="152.2" x2="533.9" y2="152.2" stroke="#000" stroke-opacity="0.05" stroke-width="0.5"/>
<line x1="306.2" y1="134.1" x2="533.9" y2="134.1" stroke="#000" stroke-opacity="0.05" stroke-width="0.5"/>
<rect x="306.2" y="115.9" width="227.7" height="72.69999999999999" fill="none" stroke="#333" stroke-width="0.5"/>
<path d="M306.2 188.6v-2M306.2 115.9v2" stroke="#222" stroke-width="0.5"/>
<path d="M344.1 188.6v-2M344.1 115.9v2" stroke="#222" stroke-width="0.5"/>
<path d="M382.1 188.6v-2M382.1 115.9v2" stroke="#222" stroke-width="0.5"/>
<path d="M420.0 188.6v-2M420.0 115.9v2" stroke="#222" stroke-width="0.5"/>
<path d="M458.0 188.6v-2M458.0 115.9v2" stroke="#222" stroke-width="0.5"/>
<path d="M495.9 188.6v-2M495.9 115.9v2" stroke="#222" stroke-width="0.5"/>
<path d="M533.9 188.6v-2M533.9 115.9v2" stroke="#222" stroke-width="0.5"/>
<path d="M306.2 188.6h2M533.9 188.6h-2" stroke="#222" stroke-width="0.5"/>
<path d="M306.2 170.4h2M533.9 170.4h-2" stroke="#222" stroke-width="0.5"/>
<path d="M306.2 152.2h2M533.9 152.2h-2" stroke="#222" stroke-width="0.5"/>
<path d="M306.2 134.1h2M533.9 134.1h-2" stroke="#222" stroke-width="0.5"/>
<path d="M306.2 115.9h2M533.9 115.9h-2" stroke="#222" stroke-width="0.5"/>
<text x="306.2" y="200.4" font-size="8.3" text-anchor="middle" fill="#262626">0</text>
<text x="382.1" y="200.4" font-size="8.3" text-anchor="middle" fill="#262626">1</text>
<text x="458.0" y="200.4" font-size="8.3" text-anchor="middle" fill="#262626">2</text>
<text x="533.9" y="200.4" font-size="8.3" text-anchor="middle" fill="#262626">3</text>
<text x="303.2" y="192.2" font-size="8.3" text-anchor="end" fill="#262626">0</text>
<text x="303.2" y="155.8" font-size="8.3" text-anchor="end" fill="#262626">2</text>
<text x="303.2" y="119.5" font-size="8.3" text-anchor="end" fill="#262626">4</text>
<text x="306.8" y="125.5" font-size="9.9" font-weight="bold" fill="#0e1d24">(c)</text>
<text x="419.6" y="112.8" font-family='"Liberation Serif", serif' font-style="italic" font-size="8" fill="#333" text-anchor="middle">ν<tspan font-size="5.5" dy="1.5">π</tspan></text>
<text transform="translate(293.4 153.2) rotate(-90)" font-family='"Liberation Serif", serif' font-style="italic" font-size="6.5" fill="#555" text-anchor="middle">v</text>
<text x="420.2" y="209.7" font-family='"Liberation Serif", serif' font-style="italic" font-size="9" fill="#444" text-anchor="middle" textLength="15.6" lengthAdjust="spacingAndGlyphs">J<tspan font-size="6" dy="1.5" font-style="normal">1</tspan><tspan dy="-1.5" font-style="normal">/</tspan>π</text>
</g>
<g id="pd">
<clipPath id="cd"><rect x="22.4" y="225.5" width="99.1" height="173.5"/></clipPath>
<g clip-path="url(#cd)">
<path d="M44.1 392.5L55.0 370.0L64.5 353.0L73.3 341.0L82.5 330.0L88.4 321.6L92.0 316.5L97.3 317.0L101.0 311.4L121.5 290.0L121.5 225.5L67.6 225.5Z" fill="#e98e67"/>
<path d="M106 236L121.5 243L121.5 290L101 311.4L97.3 317L96 320L103.5 282Z" fill="#f3bfa8"/>
<path d="M99 238L105.5 240L102.5 284L96 318L94 318L98.5 284Z" fill="#fff" fill-opacity="0.33"/>
<linearGradient id="gw" gradientUnits="userSpaceOnUse" x1="0" y1="270" x2="0" y2="360"><stop offset="0" stop-color="#fff" stop-opacity="0"/><stop offset="1" stop-color="#fff" stop-opacity="0.32"/></linearGradient>
<path d="M44.1 392.5L55.0 370.0L64.5 353.0L73.3 341.0L82.5 330.0L88.4 321.6L92.0 316.5L97.3 317.0L101.0 311.4L121.5 290.0L121.5 225.5L67.6 225.5Z" fill="url(#gw)"/>
<path d="M44.7 391.2Q64.8 341.5 68.4 225.5M46.0 388.6Q65.6 339.7 69.1 225.5M47.2 386.0Q66.4 337.9 69.8 225.5M48.5 383.4Q67.2 336.0 70.6 225.5M49.8 380.8Q68.1 334.2 71.3 225.5M51.0 378.2Q68.9 332.4 72.0 225.5M52.3 375.6Q69.7 330.6 72.8 225.5M53.5 373.0Q70.5 328.8 73.5 225.5M54.8 370.4Q71.3 327.0 74.2 225.5M55.9 368.4Q72.1 325.5 74.9 225.5M57.0 366.4Q72.9 324.1 75.7 225.5M58.1 364.4Q73.7 322.8 76.4 225.5M59.2 362.5Q74.4 321.4 77.1 225.5M60.3 360.5Q75.2 320.0 77.9 225.5M61.4 358.6Q76.0 318.6 78.6 225.5M62.5 356.6Q76.8 317.3 79.3 225.5M63.6 354.6Q77.6 315.9 80.1 225.5M64.7 352.8Q78.4 314.6 80.8 225.5M65.7 351.4Q79.1 313.6 81.5 225.5M66.7 350.0Q79.9 312.6 82.2 225.5M67.7 348.6Q80.7 311.7 83.0 225.5M68.7 347.2Q81.5 310.7 83.7 225.5M69.7 345.8Q82.2 309.7 84.4 225.5M70.8 344.5Q83.0 308.8 85.2 225.5M71.8 343.1Q83.8 307.8 85.9 225.5M72.8 341.7Q84.6 306.8 86.6 225.5M73.8 340.4Q85.3 305.9 87.4 225.5M74.9 339.1Q86.1 305.0 88.1 225.5M76.0 337.8Q86.9 304.1 88.8 225.5M77.0 336.6Q87.7 303.2 89.6 225.5M78.1 335.3Q88.5 302.4 90.3 225.5M79.1 334.0Q89.2 301.5 91.0 225.5M80.2 332.8Q90.0 300.6 91.8 225.5M81.3 331.5Q90.8 299.7 92.5 225.5M82.3 330.2Q91.6 298.8 93.2 225.5M83.1 329.2Q92.3 298.1 93.9 225.5M83.7 328.2Q93.0 297.4 94.7 225.5M84.4 327.3Q93.8 296.7 95.4 225.5M85.1 326.3Q94.5 296.0 96.1 225.5M85.8 325.3Q95.2 295.4 96.9 225.5M86.5 324.3Q95.9 294.7 97.6 225.5M87.2 323.4Q96.7 294.0 98.3 225.5M87.8 322.4Q97.4 293.3 99.1 225.5M88.5 321.5Q98.1 292.7 99.8 225.5M89.0 320.9Q98.8 292.3 100.5 225.5M89.6 320.3Q99.5 291.9 101.2 225.5M90.1 319.7Q100.2 291.5 102.0 225.5M90.6 319.1Q100.9 291.1 102.7 225.5M91.1 318.6Q101.6 290.6 103.4 225.5M91.7 318.0Q102.3 290.2 104.2 225.5M92.2 317.4Q103.0 289.8 104.9 225.5M92.7 316.8Q103.7 289.4 105.6 225.5" stroke="#d95319" stroke-width="0.4" fill="none" stroke-opacity="0.8" stroke-dasharray="0.7 0.55"/>
<path d="M45.4 389.9Q65.2 340.6 68.7 225.5M46.6 387.3Q66.0 338.8 69.5 225.5M47.9 384.7Q66.8 336.9 70.2 225.5M49.1 382.1Q67.7 335.1 70.9 225.5M50.4 379.5Q68.5 333.3 71.7 225.5M51.6 376.9Q69.3 331.5 72.4 225.5M52.9 374.3Q70.1 329.7 73.1 225.5M54.2 371.7Q70.9 327.9 73.8 225.5M55.4 369.3Q71.7 326.2 74.6 225.5M56.5 367.4Q72.5 324.8 75.3 225.5M57.6 365.4Q73.3 323.4 76.0 225.5M58.7 363.5Q74.1 322.1 76.8 225.5M59.8 361.5Q74.8 320.7 77.5 225.5M60.8 359.5Q75.6 319.3 78.2 225.5M61.9 357.6Q76.4 318.0 79.0 225.5M63.0 355.6Q77.2 316.6 79.7 225.5M64.1 353.7Q78.0 315.2 80.4 225.5M65.2 352.1Q78.8 314.1 81.2 225.5M66.2 350.7Q79.5 313.1 81.9 225.5M67.2 349.3Q80.3 312.2 82.6 225.5M68.2 347.9Q81.1 311.2 83.3 225.5M69.2 346.5Q81.9 310.2 84.1 225.5M70.3 345.2Q82.6 309.3 84.8 225.5M71.3 343.8Q83.4 308.3 85.5 225.5M72.3 342.4Q84.2 307.3 86.3 225.5M73.3 341.0Q84.9 306.4 87.0 225.5M74.4 339.7Q85.7 305.5 87.7 225.5M75.4 338.5Q86.5 304.6 88.5 225.5M76.5 337.2Q87.3 303.7 89.2 225.5M77.5 335.9Q88.1 302.8 89.9 225.5M78.6 334.7Q88.8 301.9 90.7 225.5M79.7 333.4Q89.6 301.0 91.4 225.5M80.7 332.1Q90.4 300.1 92.1 225.5M81.8 330.8Q91.2 299.2 92.8 225.5M82.7 329.7Q91.9 298.4 93.6 225.5M83.4 328.7Q92.7 297.7 94.3 225.5M84.1 327.7Q93.4 297.1 95.0 225.5M84.8 326.8Q94.1 296.4 95.8 225.5M85.5 325.8Q94.8 295.7 96.5 225.5M86.1 324.8Q95.6 295.0 97.2 225.5M86.8 323.9Q96.3 294.4 98.0 225.5M87.5 322.9Q97.0 293.7 98.7 225.5M88.2 321.9Q97.7 293.0 99.4 225.5M88.8 321.2Q98.4 292.5 100.2 225.5M89.3 320.6Q99.1 292.1 100.9 225.5M89.8 320.0Q99.8 291.7 101.6 225.5M90.3 319.4Q100.5 291.3 102.3 225.5M90.9 318.9Q101.2 290.8 103.1 225.5M91.4 318.3Q101.9 290.4 103.8 225.5M91.9 317.7Q102.6 290.0 104.5 225.5M92.5 317.1Q103.3 289.6 105.3 225.5M93.0 316.5Q104.0 289.2 106.0 225.5" stroke="#fff" stroke-width="0.45" fill="none" stroke-opacity="0.55" stroke-dasharray="0.7 0.8"/>
<path d="M62.4 262.0Q72.3 245.6 77.7 225.5M62.1 263.9Q72.6 246.6 78.2 225.5M61.8 265.8Q72.8 247.7 78.7 225.5M61.5 267.7Q73.1 248.7 79.3 225.5M61.3 269.6Q73.3 249.8 79.8 225.5M61.0 271.5Q73.5 250.8 80.3 225.5M60.7 273.4Q73.8 251.8 80.8 225.5M60.4 275.3Q74.0 252.9 81.4 225.5M60.2 277.2Q74.3 253.9 81.9 225.5M59.9 279.1Q74.5 255.0 82.4 225.5M59.6 281.0Q74.8 256.0 82.9 225.5M59.4 282.9Q74.9 257.2 83.3 225.9M59.1 284.8Q74.5 259.4 82.8 228.2M58.8 286.7Q74.1 261.5 82.4 230.6M58.5 288.6Q73.7 263.6 81.9 233.0M58.3 290.5Q73.3 265.7 81.4 235.4M58.0 292.4Q72.9 267.8 80.9 237.7M57.7 294.3Q72.5 269.9 80.5 240.1M57.4 296.2Q72.1 272.0 80.0 242.5M57.2 298.1Q71.7 274.1 79.5 244.9M56.9 300.0Q71.3 276.3 79.0 247.2M56.6 301.9Q70.9 278.4 78.6 249.6M56.3 303.8Q70.5 280.5 78.1 252.0M56.1 305.7Q70.1 282.6 77.6 254.4M55.8 307.6Q69.7 284.7 77.2 256.7M55.5 309.5Q69.3 286.8 76.7 259.1M55.3 311.4Q68.9 288.9 76.2 261.5M55.0 313.3Q68.5 291.1 75.7 263.9M54.7 315.2Q68.1 293.2 75.3 266.2M54.4 317.1Q67.7 295.3 74.8 268.6M54.2 319.0Q67.3 297.4 74.3 271.0M53.9 320.9Q66.9 299.5 73.9 273.4M53.6 322.8Q66.5 301.6 73.4 275.7M53.3 324.7Q66.1 303.7 72.9 278.1M53.1 326.6Q65.7 305.9 72.4 280.5M52.8 328.5Q65.3 308.0 72.0 282.9M52.5 330.4Q64.9 310.1 71.5 285.2M52.3 332.3Q64.4 312.2 71.0 287.6M52.0 334.2Q64.0 314.3 70.5 290.0M51.7 336.1Q63.6 316.4 70.1 292.4M51.4 338.0Q63.2 318.5 69.6 294.7M51.2 339.9Q62.8 320.7 69.1 297.1M50.9 341.8Q62.4 322.8 68.7 299.5M50.6 343.7Q62.0 324.9 68.2 301.9M50.3 345.6Q61.6 327.0 67.7 304.2M50.1 347.5Q61.2 329.1 67.2 306.6M49.8 349.4Q60.8 331.2 66.8 309.0M49.5 351.3Q60.4 333.3 66.3 311.4M49.2 353.2Q60.0 335.4 65.8 313.7M49.0 355.1Q59.6 337.6 65.3 316.1M48.7 357.0Q59.2 339.7 64.9 318.5M48.4 358.9Q58.8 341.8 64.4 320.9M48.2 360.8Q58.4 343.9 63.9 323.2M47.9 362.7Q58.0 346.0 63.5 325.6M47.6 364.6Q57.6 348.1 63.0 328.0M47.3 366.5Q57.2 350.2 62.5 330.4M47.1 368.4Q56.8 352.4 62.0 332.7M46.8 370.3Q56.4 354.5 61.6 335.1M46.5 372.2Q56.0 356.6 61.1 337.5M46.2 374.1Q55.6 358.7 60.6 339.9M46.0 376.0Q55.2 360.8 60.1 342.2M45.7 377.9Q54.8 362.9 59.7 344.6M45.4 379.8Q54.4 365.0 59.2 347.0M45.2 381.7Q54.0 367.2 58.7 349.4M44.9 383.6Q53.6 369.3 58.3 351.7M44.6 385.5Q53.2 371.4 57.8 354.1M44.3 387.4Q52.8 373.5 57.3 356.5M44.1 389.3Q52.4 375.6 56.8 358.9" stroke="#d95319" stroke-width="0.45" fill="none" stroke-opacity="0.85" stroke-dasharray="0.8 0.45"/>
<path d="M106.0 238.0Q110.7 230.0 121.5 228.0M105.9 240.2Q110.6 231.6 121.5 229.5M105.8 242.4Q110.5 233.3 121.5 231.0M105.7 244.6Q110.4 234.9 121.5 232.5M105.6 246.8Q110.4 236.6 121.5 234.0M105.5 249.0Q110.3 238.2 121.5 235.6M105.4 251.2Q110.2 239.9 121.5 237.1M105.3 253.4Q110.2 241.5 121.5 238.6M105.2 255.6Q110.1 243.2 121.5 240.1M105.1 257.8Q110.0 244.8 121.5 241.6M105.0 260.0Q110.0 246.5 121.5 243.1M104.9 262.1Q109.9 248.1 121.5 244.6M104.8 264.3Q109.8 249.8 121.5 246.1M104.7 266.5Q109.8 251.4 121.5 247.7M104.6 268.7Q109.7 253.1 121.5 249.2M104.5 270.9Q109.6 254.7 121.5 250.7M104.4 273.1Q109.6 256.4 121.5 252.2M104.3 275.3Q109.5 258.0 121.5 253.7M104.2 277.5Q109.4 259.7 121.5 255.2M104.1 279.7Q109.4 261.3 121.5 256.7M104.0 281.9Q109.3 263.0 121.5 258.2M103.8 283.9Q109.1 264.6 121.5 259.8M103.4 285.6Q108.8 266.1 121.5 261.3M103.0 287.3Q108.6 267.7 121.5 262.8M102.6 289.0Q108.3 269.2 121.5 264.3M102.2 290.7Q108.0 270.8 121.5 265.8M101.9 292.4Q107.7 272.3 121.5 267.3M101.5 294.1Q107.5 273.9 121.5 268.8M101.1 295.8Q107.2 275.4 121.5 270.3M100.7 297.5Q106.9 277.0 121.5 271.9M100.3 299.2Q106.7 278.5 121.5 273.4M99.9 300.9Q106.4 280.1 121.5 274.9M99.5 302.6Q106.1 281.6 121.5 276.4M99.1 304.3Q105.8 283.2 121.5 277.9M98.7 306.0Q105.6 284.7 121.5 279.4M98.3 307.8Q105.3 286.3 121.5 280.9M98.0 309.5Q105.0 287.8 121.5 282.4M97.6 311.2Q104.7 289.4 121.5 284.0M97.2 312.9Q104.5 290.9 121.5 285.5M96.8 314.6Q104.2 292.5 121.5 287.0M96.4 316.3Q103.9 294.0 121.5 288.5M96.0 318.0Q103.7 295.6 121.5 290.0" stroke="#d95319" stroke-width="0.4" fill="none" stroke-opacity="0.8" stroke-dasharray="0.7 0.55"/>
<path d="M94.9 301.7h0.01M93.2 345.6h0.01M97.7 313.8h0.01M90.2 314.8h0.01M95.9 327.0h0.01M91.5 306.3h0.01M97.6 320.7h0.01M97.3 327.2h0.01M91.8 310.5h0.01M96.5 340.3h0.01M91.6 328.0h0.01M94.3 307.5h0.01M97.9 311.8h0.01M93.1 352.0h0.01M97.5 317.3h0.01M96.0 339.8h0.01M90.1 321.4h0.01M97.3 318.1h0.01M92.2 316.8h0.01M93.3 325.8h0.01M98.1 325.4h0.01M87.4 309.7h0.01M95.0 358.5h0.01M94.2 361.2h0.01M95.0 358.9h0.01M97.0 313.8h0.01M94.8 351.9h0.01M92.4 332.2h0.01M91.2 321.1h0.01M95.2 304.2h0.01M97.5 317.8h0.01M99.9 302.8h0.01M96.5 343.0h0.01M95.3 355.6h0.01M90.6 335.8h0.01M92.6 346.2h0.01M95.8 318.6h0.01M93.4 332.5h0.01M94.5 358.2h0.01M91.4 321.2h0.01M94.1 353.4h0.01M93.6 348.5h0.01M94.4 312.2h0.01M93.0 350.6h0.01M95.9 349.1h0.01M95.5 350.0h0.01M95.9 300.5h0.01M92.8 353.5h0.01M91.3 316.8h0.01M93.5 332.7h0.01M96.5 329.3h0.01M87.1 300.1h0.01M88.8 307.9h0.01M100.8 304.2h0.01M92.9 353.0h0.01M92.6 331.1h0.01M92.4 319.5h0.01M94.7 340.1h0.01M90.9 322.4h0.01M90.0 320.4h0.01M95.7 334.4h0.01M89.8 323.6h0.01M92.3 311.1h0.01M96.0 337.5h0.01M97.0 323.6h0.01M93.7 338.6h0.01M94.0 323.1h0.01M93.7 343.6h0.01M93.9 343.0h0.01M94.4 315.2h0.01M91.8 343.1h0.01M93.4 326.3h0.01M95.5 354.5h0.01M98.0 323.2h0.01M93.2 349.0h0.01M90.8 328.8h0.01M94.8 350.4h0.01M95.0 355.0h0.01M95.5 341.4h0.01M91.2 335.0h0.01M90.6 336.4h0.01M97.6 308.9h0.01M87.9 302.7h0.01M99.2 306.2h0.01M87.8 311.1h0.01M92.9 352.2h0.01M94.8 352.3h0.01M95.8 351.8h0.01M96.2 335.9h0.01M97.9 302.2h0.01M95.8 331.7h0.01M97.4 306.6h0.01M93.3 357.9h0.01M94.7 320.1h0.01M93.3 351.3h0.01M90.8 311.1h0.01M95.8 338.2h0.01M92.7 324.4h0.01M92.6 324.6h0.01M90.1 325.9h0.01M98.0 331.0h0.01M96.4 325.6h0.01M96.5 310.0h0.01M95.0 346.9h0.01M94.0 332.1h0.01M96.6 339.9h0.01M88.6 309.3h0.01M96.1 346.4h0.01M93.6 332.1h0.01M92.5 344.6h0.01M90.5 316.6h0.01M92.8 336.3h0.01M96.3 314.4h0.01M93.9 359.1h0.01M93.7 343.7h0.01M94.5 352.9h0.01M90.7 316.6h0.01M93.6 301.4h0.01M90.8 323.7h0.01M92.2 322.3h0.01M92.6 348.0h0.01M94.2 361.5h0.01M93.9 337.1h0.01M95.3 351.7h0.01M94.0 334.5h0.01M96.0 344.7h0.01M96.3 324.8h0.01M94.2 359.5h0.01M90.8 314.2h0.01M95.1 344.5h0.01M94.9 359.4h0.01M90.3 315.0h0.01M90.3 316.0h0.01M96.1 343.7h0.01M93.6 355.8h0.01M93.6 353.6h0.01M96.2 326.2h0.01M88.2 305.3h0.01M93.5 351.7h0.01M94.9 322.1h0.01M91.3 341.9h0.01M93.3 320.8h0.01M91.6 330.1h0.01M97.3 336.3h0.01M94.5 324.2h0.01M90.9 307.4h0.01M91.9 341.3h0.01M95.4 355.0h0.01M100.1 306.0h0.01M96.8 323.2h0.01M93.2 347.0h0.01M95.0 341.9h0.01M93.3 350.0h0.01M96.3 346.8h0.01M94.4 341.7h0.01M93.9 307.0h0.01M96.3 321.8h0.01M94.5 342.1h0.01M95.8 311.3h0.01M92.1 339.1h0.01M94.6 355.2h0.01M99.8 307.6h0.01M91.7 308.8h0.01M94.7 344.7h0.01M95.2 334.4h0.01M92.4 328.4h0.01M88.4 310.9h0.01M95.5 344.4h0.01M95.9 333.7h0.01M91.6 322.3h0.01" stroke="#d95319" stroke-width="0.6" stroke-linecap="round" fill="none" stroke-opacity="0.75"/>
<path d="M22.4 346.7L29.8 347.6L33.5 354.0L36.2 365.0L38.0 375.0L43.6 392.6L43.6 396.0L22.4 396.0Z" fill="#eda283"/>
<path d="M22.4 349.0Q32 350.0 30.0 359.0M22.4 352.0Q32 353.0 30.9 363.0M22.4 355.0Q32 356.0 31.8 367.0M22.4 358.0Q32 359.0 32.7 371.0M22.4 361.0Q32 362.0 33.6 375.0M22.4 364.0Q32 365.0 34.5 379.0M22.4 367.0Q32 368.0 35.4 383.0M22.4 370.0Q32 371.0 36.3 387.0M22.4 373.0Q32 374.0 37.2 391.0M22.4 376.0Q32 377.0 38.1 395.0M22.4 379.0Q32 380.0 39.0 395.0M22.4 382.0Q32 383.0 39.9 395.0M22.4 385.0Q32 386.0 40.8 395.0M22.4 388.0Q32 389.0 41.7 395.0M22.4 391.0Q32 392.0 42.6 395.0M22.4 394.0Q32 395.0 43.0 395.0" stroke="#d95319" stroke-width="0.4" fill="none" stroke-opacity="0.8" stroke-dasharray="0.8 0.5"/>
<path d="M22.4 225.5L33.5 225.5L43.6 392.6L38 375L36.2 365L33.5 354L29.8 347.6L22.4 346.7Z" fill="#8f5b49"/>
<path d="M43.6 392.6L33.5 225.5L45.5 225.5Z" fill="#6f6a82" />
<path d="M43.6 392.6L45.5 225.5L52.8 225.5Z" fill="#aa5230" />
<path d="M43.6 392.6L52.8 225.5L54.9 225.5Z" fill="#7b6a7c" />
<path d="M43.6 392.6L54.9 225.5L67.6 225.5Z" fill="#b05530" />
<linearGradient id="gb" gradientUnits="userSpaceOnUse" x1="0" y1="240" x2="0" y2="350"><stop offset="0" stop-color="#7a5448" stop-opacity="0"/><stop offset="1" stop-color="#7a5448" stop-opacity="0.75"/></linearGradient>
<path d="M22.4 225.5L67.6 225.5L43.6 392.6L38 375L36.2 365L33.5 354L29.8 347.6L22.4 346.7Z" fill="url(#gb)"/>
<path d="M37.6 288.0h0.01M50.5 307.8h0.01M40.2 283.3h0.01M40.8 313.8h0.01M56.2 241.8h0.01M39.9 344.1h0.01M43.4 293.5h0.01M41.4 347.6h0.01M45.2 290.5h0.01M39.2 318.2h0.01M48.1 353.0h0.01M43.3 380.3h0.01M44.3 320.6h0.01M43.7 337.5h0.01M42.9 304.5h0.01M41.4 225.9h0.01M41.2 305.7h0.01M35.8 257.0h0.01M41.2 307.1h0.01M43.9 317.8h0.01M41.3 247.6h0.01M36.7 233.8h0.01M44.6 238.2h0.01M42.4 278.2h0.01M41.1 247.4h0.01M43.5 376.7h0.01M44.3 281.5h0.01M43.4 366.0h0.01M33.5 304.6h0.01M30.7 238.2h0.01M41.7 306.6h0.01M39.8 294.3h0.01M40.7 301.2h0.01M42.4 255.0h0.01M41.2 285.3h0.01M34.8 322.8h0.01M36.9 259.6h0.01M37.1 300.5h0.01M36.9 253.4h0.01M30.4 230.0h0.01M33.1 305.5h0.01M42.7 298.6h0.01M38.5 233.8h0.01M36.3 229.8h0.01M36.2 240.9h0.01M40.2 327.0h0.01M37.1 234.0h0.01M43.9 354.0h0.01M37.1 274.5h0.01M42.4 358.4h0.01M45.0 240.8h0.01M35.2 322.1h0.01M25.8 240.3h0.01M44.3 234.3h0.01M40.1 258.2h0.01M43.9 356.6h0.01M40.9 231.1h0.01M44.3 280.0h0.01M42.5 254.0h0.01M43.8 361.8h0.01M38.9 284.7h0.01M42.0 352.6h0.01M41.2 253.2h0.01M42.3 341.4h0.01M35.3 250.6h0.01M42.5 301.7h0.01M58.9 241.3h0.01M43.7 330.3h0.01M42.9 298.9h0.01M37.4 279.9h0.01M38.2 290.6h0.01M35.8 318.3h0.01M36.6 331.4h0.01M41.0 250.4h0.01M65.9 227.4h0.01M39.6 261.4h0.01M43.4 352.9h0.01M37.3 312.8h0.01M35.5 238.4h0.01M36.1 229.4h0.01M41.5 261.8h0.01M43.7 330.2h0.01M40.5 281.9h0.01M41.0 243.6h0.01M38.6 301.2h0.01M37.5 282.0h0.01M41.3 315.6h0.01M40.8 331.3h0.01M39.6 282.7h0.01M37.0 295.8h0.01M42.4 252.5h0.01M43.2 368.2h0.01M43.1 377.4h0.01M43.7 380.1h0.01M40.8 304.5h0.01M43.4 388.2h0.01M42.5 343.3h0.01M48.3 329.8h0.01M39.2 270.5h0.01M41.8 346.5h0.01M39.0 242.4h0.01M55.9 238.1h0.01M44.1 339.7h0.01M42.4 368.4h0.01M41.0 276.4h0.01M43.7 313.9h0.01M44.0 272.0h0.01M42.1 357.1h0.01M39.7 312.1h0.01M56.5 233.7h0.01M43.2 301.5h0.01M37.6 227.7h0.01M35.1 233.9h0.01M54.1 276.3h0.01M37.9 293.7h0.01M42.4 295.6h0.01M42.8 374.3h0.01M43.1 247.6h0.01M41.8 308.5h0.01M28.7 271.1h0.01M43.9 330.4h0.01M44.2 301.7h0.01M42.5 358.3h0.01M37.2 310.1h0.01M42.4 337.0h0.01M40.8 292.1h0.01M43.9 356.5h0.01M40.3 250.8h0.01M43.5 292.7h0.01M42.7 377.4h0.01M41.7 319.2h0.01M44.2 271.1h0.01M38.5 242.2h0.01M44.3 309.5h0.01M51.2 330.5h0.01M43.5 255.0h0.01M44.5 277.1h0.01M43.2 379.4h0.01M36.4 271.5h0.01M45.7 258.1h0.01M42.9 346.7h0.01M41.7 304.3h0.01M64.7 233.2h0.01M36.8 249.0h0.01M43.5 387.4h0.01M54.9 248.7h0.01M56.8 254.2h0.01M44.0 368.2h0.01M41.4 287.9h0.01M43.3 386.6h0.01M39.1 249.2h0.01M43.7 378.7h0.01M44.6 265.6h0.01M40.3 304.6h0.01M42.5 229.0h0.01M42.5 353.0h0.01M41.8 313.3h0.01M42.9 377.6h0.01M43.1 382.6h0.01M29.7 268.9h0.01M43.6 385.1h0.01M59.7 244.2h0.01M43.2 355.0h0.01M39.2 311.2h0.01M39.7 313.6h0.01M41.9 323.4h0.01M39.9 286.4h0.01M44.1 323.5h0.01M42.5 366.1h0.01M43.2 384.8h0.01M40.5 307.2h0.01M44.2 330.7h0.01M41.5 299.4h0.01M43.1 368.2h0.01M38.3 297.5h0.01M43.1 294.9h0.01M38.4 235.2h0.01M43.3 385.5h0.01M41.3 315.0h0.01M42.7 367.0h0.01M39.8 274.5h0.01M43.9 286.3h0.01M38.8 320.8h0.01M38.2 286.0h0.01M37.4 238.8h0.01M44.5 230.3h0.01M43.5 312.7h0.01M42.7 362.1h0.01M49.8 336.8h0.01M44.0 287.2h0.01M55.1 272.3h0.01M35.3 323.2h0.01M54.4 282.8h0.01M39.1 255.5h0.01M42.3 309.0h0.01M40.4 333.1h0.01M43.2 385.2h0.01M44.6 297.5h0.01M44.1 236.3h0.01M43.5 294.3h0.01M41.5 279.6h0.01M34.7 239.9h0.01M43.3 378.0h0.01M43.6 239.4h0.01M42.5 365.3h0.01M43.4 385.7h0.01M44.2 258.5h0.01M41.3 247.2h0.01M44.1 283.4h0.01M42.4 365.4h0.01M37.6 235.3h0.01M37.5 257.1h0.01M41.9 359.7h0.01M42.8 374.5h0.01M44.7 255.9h0.01M43.5 288.2h0.01M38.5 234.8h0.01M37.9 254.5h0.01M40.8 338.7h0.01M41.0 261.4h0.01M37.9 265.5h0.01M40.8 334.9h0.01M42.6 348.0h0.01M41.6 323.0h0.01M43.8 234.6h0.01M40.0 305.4h0.01M42.7 372.1h0.01M42.4 358.8h0.01M43.4 387.9h0.01M43.2 342.4h0.01M44.7 320.7h0.01M43.0 364.3h0.01M42.9 366.3h0.01M40.3 320.6h0.01M40.4 240.8h0.01M44.0 274.9h0.01M43.6 313.8h0.01M40.9 347.5h0.01M41.6 336.2h0.01M39.8 303.6h0.01M41.9 339.3h0.01M38.0 243.4h0.01M42.6 343.7h0.01M41.0 257.5h0.01M44.1 242.9h0.01M37.1 258.4h0.01M44.5 241.9h0.01M42.8 367.2h0.01M37.7 236.3h0.01M43.6 379.1h0.01M44.4 296.3h0.01M40.4 255.9h0.01M62.4 258.0h0.01M43.8 354.5h0.01M42.6 241.6h0.01M44.8 262.3h0.01M38.1 278.8h0.01M42.2 334.3h0.01M42.9 286.2h0.01M41.1 307.7h0.01M42.8 356.7h0.01M39.5 321.0h0.01M37.3 253.2h0.01M43.9 349.2h0.01M42.6 363.8h0.01M42.5 232.6h0.01M43.4 385.4h0.01M44.5 345.9h0.01M40.8 334.6h0.01M44.0 247.8h0.01M28.5 248.0h0.01M42.5 353.6h0.01M43.4 387.6h0.01M40.9 339.8h0.01M37.3 339.4h0.01M44.4 310.0h0.01M38.7 242.1h0.01M43.2 356.9h0.01M43.1 278.8h0.01M42.0 356.0h0.01M39.5 293.3h0.01M42.3 318.9h0.01M29.3 272.8h0.01M46.6 280.8h0.01M41.5 268.8h0.01M42.2 333.5h0.01M38.1 295.1h0.01M41.6 355.1h0.01M43.3 376.6h0.01M57.3 297.0h0.01M45.2 252.9h0.01M39.8 245.4h0.01M39.7 265.9h0.01M33.7 227.4h0.01M43.8 341.1h0.01M37.5 233.3h0.01M40.1 302.6h0.01M35.7 247.1h0.01M42.9 382.8h0.01M40.2 239.1h0.01M43.0 350.9h0.01M40.0 239.0h0.01M41.9 335.8h0.01M41.9 341.5h0.01M38.3 301.4h0.01M38.7 275.3h0.01M40.5 302.7h0.01M44.1 331.6h0.01M40.4 303.3h0.01M48.5 235.0h0.01M38.4 325.2h0.01M44.9 241.5h0.01M41.1 267.1h0.01M37.2 281.0h0.01M42.0 345.0h0.01M41.4 343.8h0.01M48.4 262.7h0.01M40.3 330.2h0.01M42.2 350.5h0.01M39.7 307.6h0.01M42.7 289.9h0.01M45.2 374.7h0.01M41.0 341.8h0.01M41.5 352.2h0.01M40.8 322.5h0.01M42.8 365.0h0.01M57.6 249.2h0.01M40.8 294.4h0.01M42.7 376.9h0.01M43.2 380.3h0.01M43.2 384.7h0.01M43.1 378.4h0.01M45.9 275.0h0.01M41.8 316.9h0.01M44.4 274.1h0.01M41.1 348.3h0.01M32.9 266.3h0.01M43.6 383.5h0.01M42.7 316.5h0.01M37.1 234.7h0.01M38.1 272.5h0.01M43.4 376.0h0.01M38.8 242.9h0.01M41.6 281.8h0.01M47.2 266.4h0.01M37.8 229.5h0.01M36.3 253.2h0.01M40.0 277.1h0.01M40.7 280.0h0.01M43.4 352.5h0.01M36.5 304.2h0.01M42.6 363.8h0.01M40.8 309.6h0.01M37.1 284.5h0.01M41.7 314.4h0.01M42.8 299.2h0.01M36.5 255.9h0.01M46.0 268.0h0.01M43.7 362.3h0.01M39.4 242.9h0.01M44.1 346.9h0.01M42.4 335.9h0.01M35.3 238.7h0.01M37.4 239.5h0.01M39.5 333.5h0.01M44.2 342.2h0.01M43.4 346.8h0.01M39.6 339.4h0.01M40.0 313.0h0.01M50.9 321.2h0.01M42.4 298.1h0.01M43.2 247.8h0.01M42.4 365.7h0.01M39.5 252.4h0.01M42.5 289.1h0.01M43.0 277.4h0.01M41.4 352.2h0.01M43.3 376.9h0.01M40.6 291.5h0.01M39.4 260.8h0.01M44.1 323.5h0.01M42.8 331.5h0.01M41.9 323.6h0.01M43.5 310.8h0.01M38.3 256.8h0.01M39.2 297.7h0.01M46.7 268.3h0.01M37.8 319.5h0.01M39.9 258.1h0.01M42.6 317.7h0.01M41.5 358.1h0.01M38.1 297.2h0.01M42.1 354.3h0.01M42.0 327.5h0.01M42.6 365.7h0.01M38.2 236.0h0.01M38.8 313.0h0.01M27.3 231.7h0.01M42.4 364.4h0.01M40.7 341.4h0.01M39.7 348.0h0.01M56.4 272.1h0.01M41.9 359.0h0.01M38.1 295.4h0.01M43.7 375.7h0.01M44.1 339.4h0.01M37.2 269.0h0.01M36.2 254.9h0.01M43.7 346.9h0.01M43.6 349.4h0.01M38.2 232.4h0.01M43.9 295.5h0.01M43.1 346.2h0.01M42.9 283.6h0.01M42.4 358.4h0.01M51.1 325.7h0.01M39.3 225.5h0.01M40.0 257.3h0.01M43.4 382.4h0.01M42.4 367.6h0.01M43.9 360.4h0.01M41.6 349.4h0.01M48.3 332.0h0.01M41.0 319.2h0.01M42.1 274.9h0.01M40.5 287.2h0.01M41.1 330.4h0.01M43.6 385.3h0.01M52.2 270.9h0.01M42.1 359.6h0.01M41.9 343.0h0.01M42.6 321.6h0.01M41.3 348.1h0.01M42.6 318.6h0.01M39.4 320.0h0.01M42.9 354.8h0.01M37.6 276.2h0.01M44.1 311.2h0.01M43.4 356.7h0.01M38.5 288.3h0.01M43.4 365.4h0.01M34.5 239.1h0.01M39.4 317.7h0.01M42.1 294.3h0.01M39.6 276.8h0.01M42.5 371.8h0.01M42.6 365.6h0.01M42.8 349.1h0.01M41.6 327.7h0.01M43.3 387.3h0.01M55.4 257.5h0.01M54.4 258.2h0.01M39.7 253.0h0.01M42.7 372.1h0.01M41.9 353.6h0.01M40.4 233.0h0.01M38.2 274.9h0.01M40.6 298.0h0.01M42.5 369.8h0.01M38.4 264.1h0.01M44.5 370.2h0.01M41.8 359.6h0.01M35.5 253.6h0.01M44.0 243.5h0.01M43.0 365.1h0.01M43.1 368.3h0.01M33.6 294.9h0.01M37.1 266.2h0.01M43.5 383.8h0.01M46.4 371.1h0.01M54.7 269.1h0.01M42.9 370.6h0.01M39.2 323.7h0.01M38.3 293.8h0.01M42.6 376.9h0.01M43.9 359.1h0.01M40.0 302.2h0.01M44.6 361.3h0.01M37.7 235.6h0.01M34.5 236.6h0.01M44.9 271.4h0.01M43.5 328.5h0.01M41.5 342.1h0.01M37.1 250.9h0.01M42.7 346.2h0.01M39.8 314.6h0.01M37.9 267.3h0.01M41.7 335.0h0.01M43.7 382.3h0.01M42.7 311.3h0.01M41.1 257.3h0.01M44.0 301.1h0.01M41.7 355.2h0.01M44.0 340.2h0.01M66.4 225.9h0.01M41.7 286.2h0.01M41.5 290.4h0.01M43.6 386.2h0.01M41.6 275.0h0.01M41.1 346.8h0.01M43.2 383.2h0.01M37.7 301.2h0.01M43.7 362.1h0.01M40.2 252.0h0.01M40.2 306.4h0.01M41.7 345.8h0.01M43.9 256.1h0.01M40.8 310.3h0.01M42.8 377.1h0.01M38.5 226.3h0.01M53.0 242.6h0.01M42.0 254.3h0.01M44.4 283.0h0.01M43.0 354.8h0.01M42.0 276.0h0.01M43.1 321.2h0.01M44.9 258.8h0.01M45.3 231.4h0.01M40.7 238.9h0.01M34.3 236.8h0.01M43.8 364.0h0.01M36.0 250.4h0.01M59.9 237.5h0.01M40.0 265.8h0.01M44.2 315.5h0.01M43.8 281.1h0.01M56.3 265.2h0.01M43.4 277.0h0.01M37.9 286.3h0.01M42.7 368.0h0.01M58.7 254.3h0.01M41.3 246.8h0.01M41.0 310.4h0.01M44.1 256.8h0.01M44.0 317.5h0.01M49.3 258.4h0.01M41.9 361.1h0.01M43.6 386.7h0.01M38.7 237.9h0.01M44.7 227.2h0.01M44.3 233.3h0.01M43.1 279.7h0.01M43.7 297.5h0.01M42.3 365.5h0.01M42.2 337.6h0.01M40.1 317.9h0.01M42.6 374.3h0.01M43.5 384.8h0.01M39.5 280.8h0.01M43.8 361.4h0.01M38.0 275.1h0.01M35.4 297.9h0.01M41.8 310.7h0.01M38.7 260.8h0.01M42.4 364.9h0.01M43.8 228.3h0.01M43.2 271.6h0.01M51.7 238.1h0.01M36.0 239.9h0.01M41.7 323.6h0.01M42.4 270.1h0.01M39.7 234.8h0.01M42.5 308.0h0.01M39.2 267.2h0.01M31.5 261.6h0.01M39.6 260.7h0.01M44.5 297.8h0.01M40.6 307.9h0.01M53.6 260.2h0.01M41.8 323.9h0.01M39.7 325.5h0.01M42.5 363.1h0.01M43.2 381.8h0.01M38.9 229.5h0.01M46.7 286.6h0.01M40.8 267.0h0.01M40.2 273.3h0.01M34.9 239.3h0.01M44.3 295.6h0.01M39.8 331.8h0.01M41.6 258.7h0.01M38.7 229.1h0.01M41.7 333.4h0.01M41.7 323.8h0.01M44.4 329.1h0.01M38.5 307.4h0.01M42.1 359.9h0.01M39.8 271.9h0.01M38.7 282.8h0.01M39.0 307.8h0.01M44.3 321.8h0.01M55.8 281.8h0.01M43.3 373.6h0.01M43.5 385.0h0.01M43.7 332.0h0.01M46.0 275.1h0.01M43.7 321.7h0.01M43.0 363.9h0.01M48.5 338.9h0.01M41.3 246.3h0.01M47.9 270.7h0.01M38.7 301.2h0.01M42.9 368.3h0.01M42.3 346.0h0.01M36.7 273.2h0.01M37.1 267.2h0.01M38.5 239.5h0.01M42.9 311.9h0.01M36.6 277.5h0.01M43.2 363.7h0.01M39.7 275.0h0.01M43.6 323.7h0.01M42.8 377.4h0.01M41.9 352.0h0.01M43.4 352.8h0.01M39.3 308.4h0.01M41.2 331.9h0.01M34.5 232.8h0.01M43.6 388.1h0.01M43.7 380.4h0.01M43.4 359.2h0.01M42.6 374.7h0.01M37.4 276.5h0.01M40.6 321.7h0.01M40.1 240.9h0.01M39.7 321.9h0.01M59.3 267.1h0.01M43.5 328.6h0.01M37.5 225.9h0.01M43.2 328.0h0.01M38.6 274.7h0.01M41.2 343.7h0.01M39.9 283.5h0.01M42.6 322.1h0.01M43.7 356.2h0.01M42.8 378.9h0.01M43.9 239.5h0.01M42.5 343.6h0.01M45.3 244.4h0.01M43.7 259.0h0.01M41.0 331.5h0.01M43.7 345.0h0.01M43.4 290.9h0.01M40.1 286.7h0.01M52.9 258.2h0.01M51.8 277.5h0.01M40.8 256.5h0.01M40.4 282.4h0.01M41.0 309.0h0.01M42.7 255.8h0.01M42.3 314.5h0.01M46.0 273.6h0.01M43.1 372.3h0.01M43.4 388.3h0.01M44.9 260.2h0.01M42.8 356.8h0.01M43.6 353.1h0.01M44.6 272.5h0.01M38.0 319.2h0.01M43.9 331.7h0.01M40.5 330.2h0.01M44.0 311.1h0.01M43.1 372.6h0.01M38.5 255.1h0.01M43.5 340.9h0.01M43.1 232.0h0.01M43.5 340.1h0.01M42.2 325.6h0.01M44.6 243.1h0.01M43.9 280.4h0.01M42.1 337.3h0.01M37.5 308.3h0.01M40.4 251.3h0.01M35.3 237.3h0.01M43.8 288.4h0.01M38.7 249.1h0.01M42.4 360.7h0.01M42.9 362.5h0.01M43.0 329.8h0.01M44.9 233.9h0.01M42.2 364.9h0.01M37.8 269.4h0.01M43.4 371.0h0.01M44.3 338.7h0.01M42.2 328.0h0.01M41.0 327.8h0.01M41.2 253.8h0.01M39.6 305.0h0.01M39.7 308.4h0.01M40.5 299.7h0.01M44.0 351.6h0.01M44.6 261.1h0.01M26.8 239.0h0.01M43.3 382.1h0.01M45.2 241.5h0.01M42.5 337.7h0.01M38.4 276.2h0.01M35.5 250.0h0.01M43.7 232.1h0.01M42.6 358.4h0.01M40.6 314.1h0.01M43.6 309.1h0.01M41.7 282.5h0.01M41.3 247.1h0.01M40.8 242.2h0.01M43.6 288.8h0.01M42.8 271.0h0.01M42.2 322.7h0.01M41.7 346.2h0.01M41.9 331.5h0.01M43.2 371.6h0.01M40.1 318.2h0.01M44.6 334.5h0.01M43.7 299.1h0.01M43.6 386.1h0.01M52.6 307.8h0.01M38.6 262.8h0.01M38.5 263.7h0.01M43.1 312.4h0.01M43.1 377.6h0.01M43.1 336.9h0.01M51.6 290.6h0.01M42.8 332.5h0.01M44.2 236.5h0.01M27.4 256.4h0.01M41.4 271.3h0.01M41.8 355.5h0.01M43.2 363.7h0.01M42.7 279.9h0.01M42.3 286.2h0.01M40.5 329.1h0.01M42.5 306.9h0.01M43.2 330.0h0.01M42.4 297.6h0.01M40.8 281.1h0.01M41.7 342.6h0.01M46.3 313.8h0.01M43.7 298.7h0.01M36.0 234.1h0.01M43.2 382.7h0.01M57.9 273.1h0.01M43.5 348.9h0.01M39.8 284.2h0.01M42.4 279.2h0.01M41.3 277.1h0.01M42.5 355.1h0.01M43.0 316.1h0.01M26.2 243.0h0.01M41.9 292.9h0.01M43.5 329.3h0.01M45.8 273.3h0.01M36.5 262.9h0.01M39.2 289.2h0.01M37.0 249.8h0.01M43.7 372.5h0.01M40.2 312.3h0.01M36.6 235.0h0.01M40.2 238.7h0.01M43.0 320.3h0.01M41.9 267.8h0.01M40.3 336.5h0.01M51.2 308.5h0.01M45.4 332.8h0.01M42.9 322.1h0.01M43.3 354.7h0.01M42.0 263.6h0.01M41.3 316.6h0.01M35.6 225.8h0.01M37.2 265.4h0.01M37.5 271.7h0.01M42.9 316.9h0.01M40.4 264.8h0.01M41.1 343.3h0.01M43.4 241.9h0.01M32.0 296.3h0.01M42.4 356.1h0.01M40.2 336.0h0.01M43.7 347.1h0.01M43.2 369.7h0.01M41.7 244.1h0.01M35.7 291.6h0.01M40.9 291.0h0.01M43.2 264.1h0.01M42.4 285.6h0.01M42.6 298.3h0.01M42.6 361.2h0.01M44.3 299.3h0.01M39.5 318.0h0.01M42.8 365.4h0.01M42.3 252.8h0.01M40.7 269.3h0.01M34.1 306.4h0.01M40.1 286.5h0.01M31.4 228.1h0.01M41.5 350.2h0.01M44.4 254.9h0.01M42.6 309.6h0.01M53.3 314.0h0.01M33.5 265.9h0.01M40.9 321.4h0.01M47.8 267.4h0.01M40.5 341.6h0.01M41.3 348.1h0.01M43.5 386.6h0.01M40.3 277.9h0.01M43.6 329.4h0.01M33.9 254.2h0.01M40.4 245.0h0.01M41.4 303.2h0.01M40.7 296.8h0.01M43.6 366.9h0.01M43.0 362.6h0.01M38.8 260.0h0.01M37.8 284.5h0.01M38.9 226.6h0.01M42.8 243.9h0.01M43.5 369.6h0.01M39.2 237.6h0.01M37.0 230.1h0.01M42.0 352.7h0.01M38.4 281.3h0.01M36.3 227.4h0.01M42.7 267.0h0.01M51.6 292.5h0.01M53.1 268.4h0.01M43.2 373.2h0.01M42.8 370.3h0.01M59.8 251.0h0.01M39.1 256.9h0.01M40.7 339.0h0.01M39.4 318.3h0.01M42.2 231.5h0.01M43.6 384.9h0.01M42.1 341.4h0.01M42.9 363.4h0.01M43.5 343.2h0.01M42.7 310.3h0.01M40.2 269.7h0.01M44.9 242.4h0.01M41.0 316.8h0.01M39.8 299.4h0.01M43.0 380.2h0.01M41.7 333.0h0.01M40.7 317.0h0.01M34.1 234.0h0.01M44.6 293.7h0.01M38.2 283.6h0.01M55.9 286.7h0.01M40.2 309.2h0.01M41.0 334.2h0.01M43.5 381.4h0.01M43.7 379.1h0.01M44.2 290.0h0.01M37.7 323.7h0.01M39.1 312.8h0.01M43.8 358.3h0.01M42.3 285.2h0.01M43.0 360.3h0.01M38.4 266.6h0.01M30.4 284.4h0.01M43.0 377.6h0.01M50.1 325.9h0.01M41.6 325.5h0.01M40.0 296.4h0.01M62.3 238.1h0.01M46.8 270.8h0.01M42.9 246.6h0.01M44.4 263.6h0.01M42.1 367.3h0.01M43.2 384.2h0.01M42.9 386.3h0.01M41.0 238.3h0.01M39.8 321.0h0.01M44.0 343.8h0.01M40.3 327.6h0.01M42.8 374.6h0.01M39.9 294.1h0.01M39.7 302.3h0.01M42.2 244.8h0.01M46.5 336.1h0.01M42.1 361.9h0.01M42.1 232.4h0.01M41.3 270.1h0.01M42.8 328.3h0.01M39.7 287.9h0.01M41.7 345.6h0.01M42.6 237.7h0.01M54.6 283.6h0.01M50.8 296.3h0.01M43.6 308.3h0.01M42.5 359.8h0.01M43.1 357.4h0.01M36.3 260.9h0.01M43.6 362.9h0.01M57.2 294.9h0.01M40.0 275.3h0.01M41.6 297.4h0.01M41.7 352.7h0.01M52.0 312.3h0.01M41.1 254.2h0.01M43.2 281.3h0.01M42.8 279.8h0.01M40.6 308.8h0.01M43.9 318.3h0.01M38.7 282.8h0.01M58.5 272.9h0.01M39.5 241.1h0.01M40.9 341.3h0.01M38.4 289.2h0.01M34.7 245.4h0.01M58.9 238.5h0.01M41.2 282.3h0.01M38.4 291.1h0.01M38.2 296.5h0.01M57.1 279.6h0.01M50.1 227.3h0.01M38.9 263.0h0.01M43.4 387.0h0.01M42.9 254.9h0.01M42.4 342.3h0.01M43.3 377.9h0.01M43.3 381.3h0.01M42.1 355.2h0.01M40.2 290.7h0.01M37.6 282.7h0.01M38.3 268.1h0.01M44.2 309.6h0.01M43.1 381.7h0.01M43.2 375.6h0.01M53.0 235.1h0.01M41.6 337.2h0.01M39.9 270.5h0.01M41.2 325.4h0.01M44.5 262.2h0.01M41.7 255.5h0.01M56.4 263.3h0.01M29.0 249.7h0.01M41.5 358.3h0.01M40.4 271.3h0.01M42.1 249.5h0.01M38.4 270.1h0.01M36.9 229.0h0.01M41.4 333.3h0.01M40.4 272.1h0.01M37.5 233.1h0.01M42.0 243.6h0.01M49.7 305.1h0.01M42.1 287.4h0.01M41.3 264.6h0.01M39.6 283.3h0.01M49.2 248.9h0.01M29.6 270.1h0.01M43.7 351.6h0.01M42.7 371.2h0.01M43.6 379.3h0.01M32.6 339.2h0.01M31.9 338.4h0.01M24.2 342.1h0.01M41.9 323.8h0.01M40.7 335.7h0.01M30.9 307.9h0.01M37.9 306.8h0.01M35.3 303.1h0.01M50.9 329.3h0.01M33.8 341.4h0.01M57.4 288.4h0.01M38.8 249.0h0.01M31.6 300.6h0.01M34.4 337.6h0.01M26.0 342.0h0.01M24.2 330.4h0.01M45.5 337.3h0.01M40.8 319.2h0.01M41.4 271.5h0.01M55.9 295.8h0.01M28.0 335.3h0.01M36.9 299.4h0.01M32.4 261.4h0.01M45.2 316.8h0.01M55.5 303.8h0.01M40.0 297.9h0.01M53.7 252.1h0.01M28.5 341.4h0.01M28.4 254.3h0.01M43.6 327.1h0.01M50.2 340.7h0.01M43.9 328.9h0.01M24.9 329.7h0.01M41.7 339.0h0.01M36.3 319.3h0.01M50.7 337.1h0.01M48.8 338.2h0.01M26.9 309.4h0.01M47.2 299.4h0.01M40.8 286.5h0.01M30.6 259.8h0.01M42.8 327.3h0.01M25.7 331.2h0.01M42.1 333.5h0.01M40.6 329.9h0.01M41.9 336.6h0.01M36.8 325.8h0.01M28.6 330.7h0.01M44.0 281.7h0.01M41.8 316.0h0.01M41.7 339.2h0.01M24.7 274.8h0.01M30.8 312.2h0.01M24.5 236.1h0.01M29.3 288.2h0.01M27.8 316.4h0.01M32.0 328.7h0.01M48.7 282.2h0.01M30.3 317.4h0.01M39.2 297.6h0.01M37.4 307.7h0.01M49.7 327.6h0.01M43.6 306.1h0.01M40.9 324.8h0.01M36.4 315.7h0.01M33.0 254.9h0.01M44.8 310.9h0.01M39.8 322.5h0.01M36.4 329.4h0.01M38.6 336.3h0.01M37.4 341.2h0.01M41.7 329.4h0.01M41.5 277.1h0.01M25.2 316.9h0.01M35.6 340.6h0.01M34.2 248.0h0.01M34.5 335.5h0.01M34.1 337.9h0.01M24.4 293.5h0.01M31.5 345.8h0.01M43.2 312.8h0.01M50.8 303.5h0.01M39.7 321.3h0.01M40.1 304.7h0.01M45.8 334.7h0.01M39.3 274.8h0.01M41.1 307.1h0.01M47.7 342.6h0.01M55.5 295.2h0.01M43.7 285.9h0.01M27.6 311.3h0.01M42.0 237.2h0.01M31.2 332.1h0.01M32.0 345.8h0.01M39.3 248.1h0.01M40.9 297.0h0.01M38.9 294.6h0.01M49.9 327.0h0.01M24.0 317.0h0.01M37.5 332.2h0.01M43.3 335.3h0.01M23.9 303.8h0.01M41.2 343.0h0.01M45.9 327.1h0.01M28.5 345.2h0.01M38.3 323.8h0.01M44.5 302.8h0.01M51.3 337.2h0.01M32.1 340.2h0.01M25.8 289.5h0.01M38.6 338.5h0.01M46.3 334.2h0.01M26.2 339.4h0.01M39.1 252.7h0.01M52.1 331.9h0.01M29.2 306.9h0.01M33.2 339.1h0.01M27.0 343.3h0.01M47.9 295.6h0.01M34.0 287.2h0.01M34.2 314.9h0.01M52.0 287.6h0.01M49.9 328.7h0.01M53.8 317.5h0.01M43.9 254.8h0.01M39.3 308.4h0.01M52.7 301.1h0.01M39.4 317.2h0.01M40.6 302.3h0.01M27.3 273.3h0.01M40.3 297.0h0.01M33.2 275.2h0.01M40.6 265.8h0.01M29.9 322.0h0.01M28.9 313.9h0.01M43.8 294.1h0.01M28.0 274.1h0.01M34.3 333.0h0.01M40.2 308.1h0.01M26.1 326.9h0.01M45.6 297.4h0.01M39.6 259.7h0.01M26.0 345.0h0.01M31.1 324.8h0.01M34.5 299.2h0.01M33.7 272.1h0.01M36.0 257.6h0.01M41.3 333.8h0.01M26.4 341.5h0.01M42.4 287.8h0.01M28.2 328.6h0.01M25.3 233.8h0.01M38.8 289.3h0.01M34.9 345.7h0.01M54.2 290.6h0.01M29.1 341.0h0.01M43.9 297.8h0.01M30.2 332.3h0.01M28.8 331.0h0.01M37.9 341.7h0.01M45.0 339.5h0.01M35.4 339.8h0.01M40.4 293.3h0.01M37.8 325.3h0.01M28.5 307.2h0.01M28.2 325.4h0.01M36.0 323.4h0.01M49.7 260.2h0.01M24.6 334.9h0.01M47.5 328.3h0.01M41.8 257.2h0.01M34.6 330.7h0.01M51.2 338.0h0.01M40.6 273.4h0.01M48.2 344.9h0.01M53.3 325.0h0.01M36.7 338.1h0.01M48.5 331.6h0.01M35.4 246.2h0.01M41.0 279.4h0.01M34.7 285.8h0.01M34.1 333.6h0.01M35.7 263.6h0.01M29.7 275.2h0.01M42.6 332.0h0.01M34.6 285.8h0.01M25.3 297.4h0.01M30.3 298.1h0.01M53.9 320.3h0.01M25.1 278.8h0.01M39.3 276.7h0.01M43.4 342.2h0.01M47.2 311.3h0.01M41.4 330.7h0.01M49.5 331.1h0.01M24.2 266.5h0.01M31.5 268.7h0.01M42.1 245.4h0.01M43.7 273.3h0.01M54.3 308.0h0.01M31.5 322.8h0.01M43.8 266.7h0.01M57.8 287.6h0.01M40.7 330.3h0.01M38.2 297.3h0.01M30.6 336.0h0.01M36.8 337.9h0.01M33.1 326.1h0.01M44.1 328.1h0.01M33.7 316.5h0.01M38.4 284.6h0.01M40.9 331.4h0.01M34.7 336.0h0.01M25.5 341.6h0.01M45.0 256.1h0.01M44.4 241.6h0.01M38.2 247.8h0.01M27.1 331.5h0.01M26.1 283.7h0.01M42.6 317.4h0.01M33.4 327.3h0.01M24.6 336.0h0.01M32.2 333.9h0.01M40.5 247.7h0.01M56.6 296.4h0.01M54.6 279.6h0.01M45.2 340.5h0.01M34.8 312.0h0.01M36.1 342.2h0.01M39.7 337.8h0.01M29.8 319.0h0.01M42.9 298.3h0.01M45.8 238.4h0.01M43.2 308.7h0.01M30.8 343.5h0.01M48.9 327.9h0.01M45.3 312.9h0.01M53.5 296.3h0.01M24.1 311.1h0.01M34.5 343.9h0.01M37.0 287.1h0.01M32.9 337.1h0.01M42.3 309.4h0.01M33.4 277.8h0.01M39.3 294.7h0.01M52.2 309.2h0.01M27.1 329.7h0.01M47.1 344.2h0.01M38.6 283.5h0.01M42.3 299.6h0.01M43.3 287.3h0.01M25.6 299.6h0.01M42.1 315.6h0.01M30.4 295.3h0.01M31.8 322.9h0.01M28.5 330.6h0.01M31.5 264.1h0.01M46.1 318.1h0.01M37.5 318.0h0.01M32.3 330.6h0.01M48.6 345.9h0.01M25.4 333.4h0.01M33.1 313.6h0.01M31.5 338.4h0.01M55.5 275.0h0.01M36.2 262.5h0.01M49.8 341.4h0.01M28.0 294.6h0.01M51.9 299.9h0.01M36.8 330.8h0.01M41.8 341.8h0.01M27.8 331.0h0.01M39.4 284.8h0.01M38.4 231.4h0.01M41.9 275.1h0.01M45.4 319.6h0.01M49.1 317.1h0.01M46.3 245.5h0.01M31.7 267.4h0.01M47.3 312.2h0.01M25.9 342.5h0.01M42.7 286.6h0.01M39.1 281.2h0.01M41.5 239.6h0.01M41.3 336.3h0.01M36.8 293.0h0.01M30.6 288.1h0.01M38.8 302.2h0.01M50.7 318.3h0.01M48.2 314.7h0.01M32.8 325.0h0.01M27.9 272.6h0.01M36.2 309.4h0.01M42.6 343.4h0.01M44.1 324.4h0.01M27.6 322.4h0.01M43.4 294.6h0.01M45.5 316.6h0.01M34.5 316.3h0.01M38.0 289.2h0.01M37.1 308.7h0.01M33.4 295.9h0.01M29.9 300.6h0.01M37.3 267.6h0.01M32.8 306.1h0.01M59.5 277.2h0.01M29.4 266.5h0.01M28.6 303.8h0.01M38.5 254.1h0.01M53.0 324.9h0.01M44.1 301.7h0.01M31.0 275.6h0.01M48.4 331.8h0.01M26.2 313.4h0.01M40.6 321.2h0.01M39.0 298.6h0.01M57.1 282.2h0.01M29.4 313.3h0.01M41.2 240.7h0.01M27.1 311.6h0.01M48.3 313.5h0.01M43.0 344.4h0.01M50.5 322.4h0.01M48.3 343.7h0.01M41.4 331.5h0.01M50.1 318.7h0.01M46.5 340.4h0.01M36.5 262.0h0.01M40.2 285.8h0.01M34.9 323.7h0.01M40.9 309.5h0.01M38.2 331.0h0.01M52.3 300.4h0.01M35.1 333.4h0.01M53.2 288.6h0.01M32.7 343.8h0.01M28.2 288.1h0.01M42.0 305.2h0.01M27.7 345.9h0.01M28.0 288.6h0.01M40.0 345.5h0.01M40.2 284.3h0.01M50.0 334.6h0.01M51.1 330.3h0.01M33.7 256.4h0.01M44.2 336.5h0.01M37.7 237.9h0.01M24.5 298.1h0.01M36.9 289.3h0.01M44.4 281.1h0.01M39.2 313.3h0.01M31.6 342.8h0.01M45.7 324.4h0.01M39.8 300.4h0.01M33.3 329.6h0.01M41.4 332.1h0.01M33.0 345.7h0.01M30.2 339.2h0.01M38.8 287.4h0.01M64.8 240.9h0.01M31.1 342.5h0.01M44.5 343.4h0.01M42.8 303.4h0.01M51.1 294.6h0.01M44.9 271.1h0.01M25.9 321.8h0.01M39.3 307.9h0.01M39.4 281.9h0.01M35.5 307.9h0.01M49.5 345.9h0.01M40.8 296.6h0.01M40.5 248.8h0.01M24.7 310.9h0.01M37.0 261.3h0.01M37.5 275.9h0.01M32.3 272.3h0.01M30.2 315.4h0.01M34.8 248.3h0.01M33.1 313.6h0.01M32.0 329.7h0.01M50.8 327.6h0.01M43.3 317.5h0.01M29.1 338.2h0.01M43.6 260.2h0.01M41.2 343.4h0.01M29.2 333.5h0.01M30.9 318.5h0.01M36.3 281.7h0.01M25.0 342.4h0.01M39.5 315.3h0.01M39.1 305.6h0.01M30.8 336.1h0.01M31.9 343.9h0.01M24.0 309.8h0.01M51.8 322.5h0.01M43.6 291.1h0.01M38.2 260.2h0.01M38.2 304.3h0.01M46.0 305.0h0.01M50.5 329.7h0.01M46.1 333.8h0.01M37.9 328.1h0.01M41.4 298.1h0.01M47.0 344.3h0.01M43.1 283.1h0.01M55.0 307.4h0.01M29.7 339.8h0.01M43.3 262.6h0.01M39.1 284.4h0.01M40.8 286.7h0.01M32.7 264.3h0.01M53.6 304.8h0.01M33.9 299.2h0.01M45.7 309.7h0.01M49.8 340.7h0.01M48.5 314.8h0.01M37.7 316.0h0.01M41.0 335.4h0.01M39.3 331.4h0.01M44.2 310.2h0.01M31.7 305.9h0.01M38.6 326.9h0.01M39.2 316.9h0.01M28.7 297.1h0.01M42.7 236.2h0.01M32.2 308.4h0.01M43.3 336.4h0.01M41.6 316.4h0.01M49.7 301.3h0.01M28.6 287.1h0.01M45.6 342.6h0.01M56.5 246.1h0.01M36.3 326.9h0.01M52.8 300.1h0.01M38.9 286.9h0.01M37.6 345.2h0.01M28.4 317.4h0.01M33.5 332.2h0.01M41.0 315.6h0.01M37.7 335.8h0.01M45.3 343.2h0.01M41.1 272.6h0.01M47.5 251.3h0.01M39.0 290.9h0.01M42.0 266.8h0.01M45.4 342.5h0.01M36.1 297.7h0.01M46.1 301.5h0.01M42.0 341.1h0.01M48.2 344.6h0.01M38.7 315.2h0.01M24.5 297.6h0.01M44.0 316.8h0.01M35.2 293.8h0.01M31.3 284.7h0.01M38.1 275.3h0.01M41.7 287.7h0.01M26.4 308.1h0.01M43.0 336.7h0.01M37.6 340.7h0.01M26.4 337.9h0.01M37.0 318.0h0.01M43.4 337.2h0.01M56.0 295.9h0.01M37.1 268.2h0.01M26.0 294.9h0.01M43.9 340.6h0.01M36.2 313.0h0.01M35.4 272.1h0.01M34.8 290.1h0.01M39.4 338.4h0.01M46.4 300.0h0.01M48.8 321.8h0.01M36.0 310.5h0.01M38.7 255.5h0.01M30.1 345.6h0.01M36.1 237.1h0.01M42.4 241.6h0.01M49.7 297.4h0.01M37.6 333.3h0.01M28.5 344.4h0.01M37.5 339.8h0.01M37.1 329.0h0.01M27.8 338.9h0.01M41.0 267.7h0.01M44.3 280.7h0.01M25.3 316.7h0.01M42.7 275.1h0.01M50.2 341.2h0.01M35.9 332.4h0.01M35.7 300.2h0.01M33.7 312.9h0.01M30.9 316.2h0.01M39.2 319.7h0.01M26.3 313.0h0.01M51.6 309.9h0.01M34.4 305.6h0.01M41.2 300.1h0.01M41.1 318.0h0.01M41.5 299.5h0.01M41.8 317.1h0.01M43.2 329.7h0.01M39.0 340.4h0.01M42.7 333.0h0.01M27.6 319.4h0.01M40.5 340.9h0.01M43.3 326.4h0.01M46.2 333.8h0.01M27.2 310.1h0.01M40.7 292.0h0.01M44.3 341.8h0.01M43.1 293.0h0.01M46.8 319.5h0.01M45.8 304.5h0.01M27.2 316.8h0.01M40.3 299.4h0.01M31.5 336.4h0.01M30.0 325.0h0.01M40.7 324.2h0.01M28.2 335.7h0.01M32.1 345.3h0.01M32.4 327.3h0.01M31.9 328.4h0.01M27.5 329.6h0.01M34.6 341.0h0.01M37.2 331.0h0.01M37.2 306.9h0.01M35.1 341.4h0.01M51.0 290.7h0.01M48.8 331.8h0.01M53.3 315.8h0.01M52.4 296.3h0.01M37.0 345.1h0.01M40.9 249.0h0.01M30.5 343.4h0.01M57.4 280.2h0.01M35.2 279.3h0.01M38.7 329.6h0.01M50.8 302.8h0.01M35.5 314.5h0.01M41.6 341.7h0.01M47.2 338.1h0.01M47.9 339.2h0.01M39.2 275.9h0.01M26.2 343.0h0.01M34.9 339.0h0.01M44.9 252.7h0.01M42.0 332.8h0.01M31.9 302.2h0.01M25.6 307.2h0.01M28.4 252.6h0.01M47.2 313.6h0.01M43.6 283.9h0.01M31.2 325.4h0.01M26.4 259.9h0.01M50.1 332.9h0.01M39.6 282.1h0.01M38.0 322.2h0.01M43.8 281.3h0.01M31.0 267.8h0.01M25.2 341.2h0.01M28.1 249.6h0.01M40.5 313.6h0.01M31.8 273.3h0.01M32.8 343.5h0.01M32.1 279.5h0.01M54.7 308.4h0.01M33.4 339.5h0.01M36.0 300.7h0.01M39.2 294.9h0.01M42.5 316.5h0.01M46.1 313.2h0.01M30.1 269.0h0.01M36.3 342.7h0.01M41.9 259.9h0.01M40.0 285.2h0.01M27.9 327.5h0.01M54.1 270.4h0.01M31.9 337.3h0.01M35.9 323.3h0.01M37.0 277.6h0.01M27.5 344.1h0.01M41.7 272.6h0.01M53.9 311.2h0.01M34.5 228.4h0.01M38.4 267.3h0.01M34.2 258.5h0.01M36.2 340.6h0.01M39.8 333.4h0.01M39.5 324.6h0.01M26.5 327.9h0.01M43.2 265.9h0.01M48.8 235.5h0.01M39.6 339.2h0.01M25.6 291.0h0.01M42.2 278.9h0.01M33.7 266.5h0.01M35.6 246.2h0.01M39.2 245.6h0.01M43.2 228.8h0.01M49.8 344.3h0.01M25.1 323.7h0.01M47.8 338.5h0.01M51.2 328.1h0.01M29.6 337.8h0.01M43.7 318.8h0.01M41.0 301.9h0.01M34.5 298.3h0.01M33.7 334.4h0.01M44.3 243.1h0.01M46.7 334.9h0.01M25.5 304.7h0.01M35.1 330.8h0.01M36.0 322.4h0.01M43.8 326.6h0.01M40.8 295.3h0.01M30.4 313.7h0.01M32.0 326.5h0.01M42.8 328.5h0.01M50.1 301.1h0.01M40.2 338.3h0.01M39.5 322.1h0.01M24.7 345.4h0.01M48.7 334.4h0.01M26.5 342.8h0.01M28.0 330.4h0.01M40.9 295.5h0.01M40.4 278.4h0.01M27.4 318.3h0.01M42.1 328.7h0.01M25.7 318.0h0.01M38.0 340.0h0.01M30.9 322.6h0.01M32.8 306.0h0.01M43.6 266.1h0.01M33.1 339.8h0.01M45.4 335.1h0.01M41.9 337.2h0.01M30.2 320.6h0.01M44.1 326.4h0.01M40.5 337.5h0.01M42.1 239.4h0.01M57.4 295.2h0.01M45.2 325.7h0.01M34.4 271.3h0.01M38.0 311.0h0.01M43.4 285.1h0.01M38.0 304.7h0.01M43.0 311.3h0.01M37.5 290.2h0.01M43.1 278.5h0.01M40.7 284.4h0.01M46.4 333.2h0.01M25.4 306.1h0.01M42.0 286.2h0.01M30.7 328.8h0.01M36.1 248.8h0.01M46.1 305.0h0.01M36.0 333.9h0.01M26.1 341.1h0.01M35.6 258.9h0.01M37.9 337.3h0.01M39.2 246.6h0.01M42.4 279.9h0.01M43.6 266.3h0.01M40.3 333.7h0.01M27.9 324.2h0.01M41.9 304.4h0.01M36.9 312.4h0.01M29.6 335.8h0.01M24.0 291.7h0.01M25.4 277.5h0.01M32.1 342.3h0.01M26.7 315.8h0.01M42.4 335.1h0.01M40.4 344.4h0.01M50.2 334.7h0.01M38.1 344.8h0.01M42.4 339.4h0.01M41.5 345.4h0.01M26.2 338.1h0.01M29.4 297.5h0.01M28.3 324.6h0.01M41.9 306.7h0.01M43.8 282.9h0.01M25.1 342.2h0.01M26.5 325.7h0.01M51.6 322.9h0.01M36.4 247.2h0.01M57.3 292.3h0.01M41.5 296.9h0.01M50.7 341.0h0.01M28.6 341.3h0.01M34.5 294.6h0.01M31.6 285.6h0.01M30.7 323.5h0.01M38.1 334.5h0.01M28.4 277.6h0.01M44.4 324.6h0.01M42.0 300.0h0.01M55.0 301.3h0.01M55.1 297.5h0.01M39.1 340.6h0.01M50.3 339.9h0.01M26.1 275.4h0.01M34.9 309.0h0.01M25.2 239.1h0.01M38.5 285.4h0.01M25.4 311.3h0.01M36.5 333.8h0.01M26.3 312.2h0.01M38.9 327.6h0.01M33.3 293.3h0.01M38.9 305.3h0.01M48.1 302.4h0.01M29.3 338.3h0.01M24.3 280.1h0.01M41.2 317.9h0.01M24.2 334.8h0.01M51.4 320.1h0.01M26.6 283.1h0.01M41.7 256.7h0.01M28.0 333.9h0.01M34.3 284.2h0.01M31.0 303.8h0.01M26.0 334.2h0.01M39.3 330.5h0.01M36.4 266.3h0.01M38.2 317.7h0.01M25.5 341.7h0.01M42.8 299.2h0.01M53.7 320.5h0.01M42.2 266.0h0.01M47.6 345.2h0.01M39.2 345.0h0.01M42.7 331.1h0.01M42.9 291.4h0.01M38.6 283.4h0.01M36.3 331.8h0.01M24.0 319.7h0.01M41.9 341.8h0.01M26.2 337.5h0.01M24.1 334.9h0.01M47.5 342.5h0.01M46.6 334.0h0.01M28.8 339.1h0.01M53.4 293.3h0.01M41.3 285.0h0.01M55.3 306.5h0.01M28.5 291.8h0.01M33.3 336.7h0.01M52.6 315.5h0.01M46.4 321.6h0.01M44.7 314.0h0.01M27.5 323.6h0.01M24.4 293.9h0.01M35.1 328.6h0.01M25.9 300.9h0.01M48.3 299.8h0.01M42.3 337.8h0.01M31.7 301.0h0.01M42.1 265.6h0.01M38.1 294.7h0.01M44.3 315.3h0.01M38.4 326.8h0.01M35.8 293.3h0.01M24.2 295.6h0.01M38.6 322.4h0.01M38.8 344.8h0.01M41.5 338.0h0.01M34.4 327.6h0.01M45.7 331.5h0.01M44.6 343.7h0.01M34.0 298.1h0.01M36.9 290.6h0.01M46.9 330.3h0.01M35.7 250.9h0.01M28.8 329.6h0.01M48.2 326.7h0.01M40.5 328.7h0.01M30.6 332.5h0.01M39.3 343.3h0.01M40.4 294.3h0.01M49.0 271.9h0.01M25.4 323.2h0.01M42.9 326.9h0.01M36.8 320.7h0.01M33.7 298.7h0.01M52.3 271.5h0.01M35.9 315.8h0.01M51.1 332.9h0.01M49.3 265.3h0.01M26.3 334.7h0.01M37.2 331.0h0.01M49.1 335.1h0.01M30.4 327.7h0.01M44.0 282.2h0.01M40.1 275.8h0.01M54.1 318.9h0.01M48.7 331.4h0.01M30.6 335.1h0.01M30.1 343.9h0.01M26.1 341.4h0.01M54.8 300.6h0.01M41.5 322.5h0.01M41.0 316.4h0.01M36.7 329.2h0.01M47.7 341.0h0.01M24.0 342.7h0.01M50.3 334.5h0.01M28.7 320.2h0.01M41.5 311.1h0.01M45.7 331.1h0.01M34.3 331.3h0.01M46.8 294.1h0.01M36.2 314.1h0.01M47.1 276.6h0.01M32.1 310.7h0.01M35.9 333.2h0.01M29.4 344.3h0.01M38.7 314.2h0.01M39.0 264.3h0.01M45.2 311.1h0.01M24.3 314.4h0.01M38.6 341.1h0.01M28.8 342.1h0.01M28.7 340.5h0.01M39.8 285.1h0.01M56.6 295.0h0.01M43.7 314.5h0.01M24.2 286.5h0.01M38.9 291.9h0.01M31.4 276.4h0.01M52.4 329.8h0.01M30.5 278.2h0.01M52.7 308.7h0.01M50.0 339.9h0.01M44.2 270.2h0.01M32.1 305.3h0.01M43.4 326.4h0.01M36.4 249.9h0.01M55.8 304.5h0.01M25.3 333.2h0.01M33.8 290.1h0.01M36.6 274.3h0.01M36.7 312.3h0.01M36.6 323.4h0.01M32.4 336.3h0.01M60.2 262.8h0.01M51.4 336.4h0.01M44.0 311.6h0.01M37.3 300.2h0.01M40.9 344.0h0.01M24.5 328.7h0.01M40.9 344.6h0.01M54.5 311.5h0.01M37.9 290.3h0.01M53.3 321.3h0.01M43.1 342.6h0.01M42.9 290.0h0.01M47.4 288.9h0.01M30.8 262.9h0.01M35.0 344.1h0.01M26.0 317.3h0.01M50.1 331.0h0.01M44.1 307.6h0.01M42.4 341.1h0.01M37.8 326.5h0.01M28.7 341.5h0.01M44.1 315.1h0.01M26.0 291.6h0.01M52.8 312.9h0.01M47.5 311.0h0.01M37.9 282.2h0.01M25.7 330.7h0.01M31.9 305.7h0.01M37.8 290.3h0.01M24.4 330.0h0.01M36.9 342.8h0.01M47.2 309.8h0.01M24.4 311.8h0.01M32.4 303.9h0.01M52.4 324.0h0.01M40.0 314.3h0.01M43.4 345.6h0.01M32.0 287.3h0.01M34.9 304.3h0.01M34.2 340.1h0.01M41.4 314.7h0.01M49.4 306.6h0.01M31.3 338.6h0.01M39.6 330.8h0.01M30.2 338.8h0.01M31.3 341.5h0.01M39.1 302.3h0.01M26.3 339.0h0.01M48.4 334.3h0.01M47.9 345.7h0.01M47.0 262.1h0.01M42.6 259.9h0.01M26.9 277.7h0.01M42.8 264.4h0.01M32.4 339.6h0.01M25.5 335.0h0.01M39.9 289.0h0.01M36.6 261.1h0.01M50.4 275.9h0.01M27.0 275.9h0.01M31.2 291.1h0.01M36.4 263.7h0.01M30.6 322.6h0.01M33.7 318.0h0.01M28.2 332.1h0.01M47.1 343.1h0.01M31.9 305.7h0.01M38.1 305.7h0.01M27.6 331.3h0.01M28.2 291.0h0.01M51.7 336.3h0.01M34.5 282.7h0.01M43.4 306.9h0.01M51.3 330.0h0.01M25.3 332.0h0.01M40.8 306.9h0.01M41.4 241.6h0.01M43.1 312.8h0.01M30.9 340.7h0.01M42.6 316.7h0.01M50.1 345.2h0.01M44.9 254.1h0.01M43.8 268.0h0.01M50.2 344.5h0.01M37.1 275.3h0.01M28.8 341.3h0.01M42.7 280.6h0.01M51.0 289.3h0.01M31.6 300.7h0.01M39.7 326.6h0.01M45.5 333.6h0.01M38.8 298.5h0.01M39.8 259.4h0.01M42.8 238.3h0.01M32.6 280.1h0.01M50.0 327.2h0.01M45.1 345.4h0.01M43.8 319.0h0.01M35.9 308.2h0.01M36.4 247.2h0.01M42.0 342.1h0.01M36.6 332.9h0.01M35.4 343.4h0.01M27.2 316.5h0.01M33.3 333.2h0.01M32.3 330.8h0.01M30.2 340.3h0.01M45.8 295.4h0.01M50.4 327.7h0.01M54.4 305.2h0.01M35.3 261.0h0.01M24.3 296.9h0.01M40.0 239.1h0.01M44.0 296.5h0.01M41.7 325.6h0.01M29.1 339.0h0.01M37.3 329.1h0.01M25.8 332.4h0.01M32.9 333.6h0.01M46.4 342.4h0.01M33.1 325.2h0.01M28.3 334.9h0.01M25.1 334.7h0.01M31.5 296.1h0.01M36.6 331.1h0.01M39.0 268.6h0.01M27.8 259.9h0.01M43.7 233.3h0.01M38.4 313.8h0.01M34.3 324.4h0.01M27.4 288.3h0.01M39.2 276.8h0.01M38.8 375.1h0.01M47.0 360.5h0.01M44.7 379.0h0.01M43.9 381.4h0.01M45.8 324.0h0.01M45.0 355.8h0.01M37.7 360.4h0.01M50.9 324.6h0.01M42.8 356.2h0.01M42.2 340.3h0.01M46.4 359.7h0.01M44.1 315.6h0.01M49.9 331.1h0.01M57.0 292.4h0.01M44.0 387.9h0.01M42.3 352.9h0.01M38.5 374.4h0.01M50.8 301.0h0.01M42.6 315.0h0.01M53.5 298.4h0.01M43.7 375.0h0.01M53.2 294.1h0.01M42.2 362.6h0.01M44.8 307.0h0.01M40.8 317.1h0.01M44.2 384.9h0.01M44.2 338.9h0.01M49.5 301.6h0.01M50.4 324.9h0.01M46.9 304.4h0.01M47.2 342.8h0.01M44.1 321.1h0.01M44.9 369.5h0.01M46.4 345.2h0.01M54.5 314.8h0.01M48.5 298.3h0.01M34.7 294.6h0.01M44.2 366.9h0.01M51.0 326.5h0.01M45.3 292.6h0.01M44.1 386.5h0.01M48.8 340.3h0.01M43.0 382.8h0.01M54.3 299.0h0.01M49.8 342.6h0.01M40.5 355.8h0.01M50.5 292.3h0.01M44.6 335.2h0.01M42.4 359.0h0.01M39.1 371.0h0.01M45.8 292.0h0.01M54.5 306.9h0.01M48.8 353.7h0.01M52.3 319.2h0.01M44.1 387.5h0.01M39.6 366.2h0.01M40.9 379.5h0.01M41.6 325.2h0.01M56.1 302.3h0.01M48.3 351.6h0.01M45.3 327.2h0.01M46.3 372.6h0.01M46.5 366.4h0.01M45.0 374.5h0.01M44.5 380.7h0.01M40.7 290.6h0.01M42.7 323.6h0.01M44.3 385.9h0.01M43.0 343.9h0.01M36.1 300.4h0.01M43.0 308.7h0.01M42.0 375.2h0.01M47.5 338.9h0.01M43.9 387.2h0.01M47.0 317.0h0.01M42.5 323.2h0.01M44.2 365.7h0.01M49.0 324.9h0.01M50.0 302.1h0.01M46.3 371.2h0.01M43.1 343.3h0.01M47.6 364.4h0.01M44.3 323.1h0.01M44.8 307.5h0.01M44.2 366.2h0.01M41.9 309.1h0.01M50.4 307.2h0.01M42.2 301.7h0.01M50.5 328.8h0.01M43.0 378.7h0.01M40.8 370.4h0.01M45.4 314.4h0.01M46.0 349.8h0.01M40.7 363.2h0.01M41.0 300.6h0.01M49.7 304.8h0.01M44.6 382.7h0.01M44.1 366.6h0.01M53.7 315.4h0.01M49.1 354.0h0.01M37.2 348.3h0.01M53.9 308.5h0.01M47.1 305.3h0.01M44.7 334.5h0.01M44.3 386.1h0.01M56.2 302.0h0.01M41.6 345.5h0.01M42.5 375.3h0.01M43.1 335.5h0.01M43.6 340.9h0.01M42.5 386.9h0.01M45.9 327.3h0.01M43.4 372.3h0.01M40.3 360.3h0.01M44.3 364.9h0.01M45.3 377.5h0.01M48.0 328.6h0.01M47.7 359.9h0.01M48.4 305.5h0.01M40.4 372.1h0.01M43.7 388.7h0.01M35.7 354.9h0.01M46.6 334.9h0.01M55.1 312.1h0.01M44.9 346.2h0.01M46.1 371.8h0.01M36.5 317.9h0.01M42.9 320.4h0.01M52.3 331.9h0.01M46.6 297.7h0.01M45.3 297.1h0.01M43.8 373.3h0.01M42.0 376.4h0.01M38.2 355.3h0.01M40.6 341.0h0.01M43.6 360.6h0.01M47.3 346.3h0.01M40.3 341.1h0.01M50.9 333.2h0.01M44.8 355.3h0.01M44.1 379.0h0.01M50.2 315.0h0.01M41.2 372.5h0.01M42.0 313.9h0.01M42.9 385.8h0.01M38.5 366.4h0.01M53.2 293.6h0.01M47.3 309.5h0.01M40.4 352.9h0.01M36.2 351.0h0.01M36.3 301.1h0.01M46.0 356.7h0.01M44.9 337.4h0.01M43.0 386.4h0.01M46.2 373.4h0.01M46.5 367.5h0.01M48.5 332.0h0.01M41.6 381.0h0.01M48.0 344.6h0.01M44.2 368.7h0.01M44.2 386.1h0.01M44.0 389.2h0.01M50.5 343.3h0.01M36.3 350.3h0.01M45.0 352.3h0.01M51.6 316.7h0.01M47.8 359.7h0.01M46.8 336.4h0.01M46.9 349.3h0.01M37.9 361.2h0.01M40.0 366.9h0.01M39.5 319.5h0.01M37.3 364.6h0.01M42.9 383.6h0.01M50.4 309.4h0.01M44.0 385.2h0.01M44.7 329.7h0.01M40.5 354.8h0.01M50.0 316.9h0.01M50.7 301.1h0.01M46.5 366.9h0.01M48.7 329.6h0.01M48.1 333.1h0.01M45.7 328.9h0.01M41.6 369.6h0.01M43.5 385.1h0.01M44.5 312.9h0.01M51.9 307.6h0.01M38.8 325.0h0.01M50.6 330.0h0.01M36.3 329.1h0.01M47.2 330.4h0.01M40.5 360.4h0.01M47.4 315.5h0.01M48.5 357.7h0.01M41.2 340.1h0.01M39.3 335.4h0.01M48.1 341.9h0.01M44.4 308.2h0.01M35.3 349.6h0.01M45.8 324.7h0.01M44.8 368.3h0.01M46.7 291.2h0.01M45.6 346.0h0.01M46.2 321.5h0.01M43.5 386.9h0.01M42.3 376.6h0.01M49.5 334.5h0.01M51.6 332.7h0.01M51.1 327.0h0.01M41.1 381.4h0.01M42.6 321.9h0.01M50.6 341.2h0.01M44.1 352.8h0.01M44.8 315.2h0.01M55.9 290.6h0.01M52.6 293.4h0.01M49.1 299.5h0.01M43.9 372.5h0.01M41.8 381.1h0.01M44.8 384.2h0.01M43.2 387.6h0.01M51.0 339.7h0.01M45.9 354.3h0.01M42.9 293.8h0.01M42.8 311.0h0.01M39.7 354.1h0.01M48.2 360.3h0.01M40.0 338.9h0.01M48.1 359.2h0.01M53.7 319.3h0.01M43.5 382.1h0.01M47.8 321.7h0.01M40.2 353.8h0.01M44.0 383.1h0.01M49.2 353.3h0.01M46.8 313.3h0.01M49.9 328.8h0.01M42.9 389.4h0.01M42.1 299.8h0.01M47.3 347.2h0.01M43.8 384.9h0.01M48.6 328.8h0.01M37.7 329.2h0.01M47.1 307.7h0.01M46.2 351.5h0.01M38.0 364.2h0.01M40.5 312.5h0.01M49.9 335.4h0.01M44.1 359.4h0.01M46.5 297.7h0.01M39.1 356.4h0.01M45.6 334.1h0.01M46.2 317.9h0.01M50.0 343.0h0.01M43.4 373.4h0.01M43.9 381.4h0.01M45.0 358.1h0.01M43.6 382.9h0.01M50.4 328.1h0.01M44.5 339.2h0.01M44.5 374.1h0.01M49.2 296.0h0.01M41.2 348.1h0.01M42.7 388.6h0.01M50.3 334.6h0.01M45.8 335.3h0.01M44.3 377.9h0.01M46.6 358.4h0.01M50.8 308.5h0.01M40.4 293.4h0.01M46.3 365.1h0.01M42.1 382.6h0.01M40.7 340.1h0.01M51.2 298.0h0.01M33.7 291.4h0.01M41.8 363.6h0.01M44.5 334.6h0.01M47.6 317.4h0.01M44.5 382.2h0.01M45.1 297.0h0.01M49.8 324.3h0.01M45.1 382.3h0.01M42.1 294.8h0.01M44.3 383.7h0.01M42.0 374.3h0.01M51.9 293.3h0.01M41.8 290.7h0.01M41.3 313.9h0.01M50.3 321.9h0.01M51.0 324.9h0.01M44.9 333.4h0.01M47.7 333.7h0.01M42.1 380.9h0.01M51.5 315.0h0.01M44.0 389.3h0.01M48.3 301.4h0.01M44.6 294.6h0.01M42.9 311.7h0.01M42.0 298.9h0.01M43.8 388.6h0.01M40.7 358.9h0.01M51.9 322.7h0.01M43.4 381.8h0.01M48.4 299.5h0.01M46.4 356.9h0.01M46.6 370.5h0.01M55.5 301.7h0.01M47.3 336.9h0.01M47.0 345.3h0.01M50.3 333.6h0.01M42.8 325.5h0.01M44.1 314.9h0.01M53.3 323.8h0.01M44.1 336.8h0.01M47.9 332.7h0.01M44.8 325.0h0.01M45.8 357.2h0.01M46.2 359.9h0.01M42.7 329.1h0.01M35.2 347.7h0.01M47.2 359.9h0.01M38.8 362.9h0.01M42.1 360.8h0.01M56.3 298.8h0.01M39.4 330.6h0.01M48.3 333.0h0.01M42.0 384.8h0.01M40.2 371.4h0.01M38.7 302.8h0.01M46.4 358.6h0.01M40.6 366.1h0.01M43.7 354.1h0.01M46.5 327.9h0.01M41.9 380.6h0.01M39.9 313.9h0.01M33.7 350.6h0.01M48.0 343.8h0.01M38.9 334.9h0.01M49.8 326.8h0.01M46.4 356.4h0.01M52.5 328.4h0.01M50.6 290.1h0.01M39.5 321.3h0.01M47.7 341.3h0.01M53.7 309.3h0.01M39.1 348.4h0.01M48.9 323.7h0.01M38.0 367.6h0.01M46.5 315.8h0.01M43.7 378.7h0.01M47.3 332.1h0.01M42.8 328.7h0.01M39.5 309.8h0.01M42.9 387.4h0.01M47.1 344.8h0.01M41.4 305.8h0.01M49.1 298.7h0.01M51.8 304.9h0.01M41.0 383.0h0.01M44.5 378.0h0.01M49.6 305.7h0.01M43.7 326.2h0.01M52.9 324.4h0.01M46.1 329.5h0.01M54.6 303.6h0.01M43.3 321.7h0.01M52.7 316.0h0.01M45.8 303.9h0.01M40.3 351.7h0.01M48.5 355.4h0.01M54.4 304.9h0.01M49.9 342.5h0.01M38.3 307.2h0.01M41.9 380.3h0.01M41.5 378.3h0.01M45.2 376.2h0.01M54.3 307.7h0.01M48.9 344.4h0.01M49.2 311.9h0.01M42.1 337.6h0.01M53.5 322.9h0.01M54.0 316.1h0.01M44.3 331.2h0.01M45.6 355.8h0.01M44.0 331.2h0.01M38.7 356.8h0.01M53.6 317.1h0.01M47.7 321.6h0.01M42.6 385.0h0.01M51.2 295.6h0.01M46.8 355.4h0.01M43.7 387.9h0.01M46.1 358.6h0.01M57.0 293.4h0.01M42.2 303.5h0.01M53.7 304.5h0.01M43.7 384.0h0.01M37.3 297.0h0.01M42.6 304.1h0.01M54.8 309.6h0.01M41.3 340.0h0.01M43.3 389.0h0.01M35.7 298.1h0.01M48.8 325.6h0.01M44.1 367.3h0.01M44.0 385.5h0.01M43.3 380.4h0.01M41.8 324.8h0.01M39.2 364.7h0.01M45.5 328.6h0.01M48.8 322.3h0.01M40.0 328.6h0.01M39.1 325.4h0.01M40.8 344.6h0.01M46.8 316.2h0.01M40.7 296.4h0.01M44.4 329.5h0.01M45.7 345.3h0.01M39.0 353.7h0.01M40.5 346.1h0.01M42.0 382.6h0.01M55.8 303.6h0.01M39.9 339.1h0.01M40.2 306.6h0.01M43.1 345.8h0.01M49.7 345.8h0.01M41.9 372.8h0.01M46.0 349.5h0.01M44.4 379.6h0.01M44.0 389.5h0.01M43.0 355.8h0.01M45.5 373.2h0.01M50.1 327.5h0.01M43.8 379.1h0.01M40.3 326.0h0.01M41.0 358.6h0.01M38.6 311.5h0.01M45.3 373.4h0.01M43.2 310.4h0.01M48.0 325.1h0.01M39.8 297.7h0.01M47.4 362.4h0.01M48.5 293.4h0.01M41.9 354.2h0.01M38.9 372.5h0.01M41.0 357.5h0.01M45.5 356.6h0.01M43.8 389.2h0.01M40.1 321.8h0.01M46.2 368.1h0.01M44.6 343.0h0.01M43.8 346.5h0.01M44.5 380.0h0.01M36.5 311.8h0.01M48.0 309.3h0.01M46.9 353.1h0.01M43.4 352.2h0.01M51.0 321.7h0.01M38.6 367.3h0.01M43.3 386.2h0.01M42.0 315.3h0.01M45.0 358.4h0.01M41.9 381.3h0.01M49.5 336.2h0.01M49.5 319.8h0.01M42.9 388.0h0.01M47.3 362.1h0.01M48.0 346.1h0.01M52.4 316.3h0.01M35.7 320.3h0.01M44.2 383.0h0.01M42.9 388.5h0.01M50.3 342.5h0.01M48.6 332.1h0.01M47.2 362.7h0.01M42.5 387.4h0.01M49.8 317.3h0.01M45.5 361.4h0.01M44.5 378.6h0.01M42.2 360.4h0.01M48.8 325.4h0.01M49.1 330.4h0.01M48.2 303.9h0.01M51.0 318.4h0.01M37.0 363.3h0.01M47.1 354.5h0.01M43.5 389.6h0.01M41.0 359.5h0.01M42.0 304.0h0.01M44.6 381.2h0.01M47.5 312.1h0.01M41.8 319.2h0.01M44.2 352.2h0.01M39.0 376.6h0.01M51.0 291.4h0.01M41.5 352.8h0.01M46.7 364.4h0.01M42.3 387.4h0.01M39.8 300.0h0.01M49.0 311.7h0.01M44.2 387.6h0.01M41.7 384.0h0.01M49.1 298.6h0.01M45.1 378.1h0.01M44.6 377.6h0.01M50.8 339.3h0.01M45.0 352.0h0.01M42.2 349.8h0.01M56.6 299.0h0.01M40.3 353.7h0.01M39.3 338.1h0.01M51.9 331.7h0.01M46.5 303.7h0.01M51.6 309.3h0.01M49.1 299.2h0.01M41.6 357.8h0.01M46.9 363.2h0.01M51.4 300.0h0.01M46.7 361.6h0.01M45.9 371.9h0.01M52.5 311.6h0.01M44.2 330.2h0.01M40.4 356.2h0.01M44.5 369.2h0.01M38.3 371.7h0.01M44.2 384.8h0.01M47.6 293.0h0.01M42.2 325.6h0.01M55.9 305.0h0.01M38.1 346.2h0.01M53.7 290.6h0.01M43.2 372.4h0.01M41.1 364.5h0.01M55.4 310.3h0.01M51.9 327.4h0.01M46.6 366.8h0.01M45.4 338.9h0.01M43.8 295.1h0.01M42.8 366.6h0.01M45.2 341.3h0.01M53.6 320.9h0.01M41.5 383.7h0.01M43.8 387.4h0.01M41.1 347.3h0.01M45.8 330.1h0.01M45.8 336.4h0.01M46.5 362.1h0.01M42.6 381.7h0.01M51.8 302.5h0.01M39.3 355.9h0.01M49.5 342.7h0.01M34.9 312.3h0.01M44.2 363.4h0.01M43.7 386.3h0.01M54.7 310.5h0.01M44.4 387.1h0.01M47.7 347.9h0.01M42.0 306.0h0.01M42.2 341.8h0.01M43.2 369.8h0.01M50.9 336.8h0.01M45.4 333.4h0.01M42.5 354.6h0.01M39.7 370.2h0.01M41.8 346.0h0.01M36.1 361.3h0.01M48.6 325.5h0.01M42.1 341.6h0.01M45.4 379.0h0.01M50.0 293.0h0.01M52.5 325.2h0.01M52.5 326.1h0.01M39.3 359.9h0.01M42.5 385.7h0.01M48.1 353.4h0.01M42.8 388.9h0.01M47.4 327.8h0.01M55.2 310.5h0.01M42.1 387.4h0.01M46.9 330.3h0.01M39.6 362.5h0.01M43.3 376.0h0.01M49.9 334.7h0.01M47.9 313.3h0.01M54.6 304.3h0.01M40.8 307.4h0.01M42.5 363.5h0.01M42.9 388.1h0.01M42.9 356.4h0.01M47.9 303.7h0.01M57.4 294.7h0.01M33.9 347.0h0.01M48.6 334.5h0.01M39.4 362.9h0.01M51.2 336.5h0.01M42.4 371.8h0.01M42.8 301.8h0.01M39.1 365.1h0.01M34.3 310.6h0.01M52.2 328.4h0.01M43.0 346.5h0.01M57.7 292.2h0.01M47.1 331.2h0.01M49.6 314.5h0.01M43.6 382.9h0.01M52.2 327.0h0.01M48.1 296.6h0.01M43.0 379.3h0.01M52.0 323.6h0.01M46.3 354.6h0.01M43.2 334.0h0.01M48.9 347.5h0.01M45.5 328.3h0.01M41.9 378.4h0.01M46.8 306.6h0.01M43.5 380.9h0.01M43.9 319.4h0.01M51.0 336.0h0.01M50.2 306.6h0.01M44.2 387.5h0.01M50.5 344.0h0.01M38.7 323.1h0.01M44.8 323.3h0.01M42.2 381.8h0.01M44.9 301.3h0.01M51.0 335.5h0.01M44.4 318.3h0.01M41.8 314.7h0.01M51.9 292.0h0.01M44.8 318.9h0.01M39.2 358.1h0.01M37.7 305.0h0.01M44.0 379.9h0.01M37.5 333.1h0.01M40.8 345.7h0.01M46.2 373.5h0.01M44.6 327.9h0.01M54.5 306.7h0.01M47.0 306.1h0.01M43.2 301.7h0.01M43.4 383.2h0.01M40.8 301.2h0.01M49.0 296.8h0.01M40.5 359.8h0.01M42.0 298.0h0.01M44.0 388.1h0.01M40.7 340.8h0.01M34.2 314.8h0.01M38.4 323.5h0.01M46.4 351.3h0.01M45.0 316.0h0.01M44.1 311.2h0.01M41.9 384.0h0.01M55.8 300.7h0.01M45.8 370.0h0.01M48.7 296.0h0.01M49.5 304.0h0.01M43.5 384.9h0.01M43.3 386.2h0.01M38.2 347.7h0.01M32.4 303.2h0.01M43.8 293.1h0.01M43.9 383.0h0.01M36.3 350.3h0.01M52.0 308.3h0.01M38.5 371.7h0.01M43.8 385.7h0.01M54.2 317.4h0.01M46.2 351.7h0.01M40.3 351.0h0.01M44.8 376.7h0.01M46.9 303.0h0.01M46.9 350.4h0.01M45.4 377.7h0.01M39.2 320.4h0.01M40.5 324.5h0.01M42.4 381.8h0.01M44.9 328.8h0.01M45.8 316.1h0.01M35.6 301.9h0.01M44.4 386.3h0.01M45.1 312.9h0.01M43.4 343.6h0.01M36.5 352.7h0.01M44.6 383.0h0.01M42.8 321.9h0.01M44.8 383.3h0.01M38.8 303.5h0.01M48.1 327.5h0.01M44.8 364.1h0.01M47.0 356.7h0.01M39.4 374.9h0.01M38.2 338.9h0.01M50.0 333.8h0.01M37.8 291.2h0.01M37.6 320.9h0.01M43.5 328.1h0.01M35.2 310.5h0.01M42.9 321.6h0.01M41.1 336.9h0.01M44.1 386.8h0.01M48.4 325.1h0.01M54.5 304.7h0.01M45.5 374.0h0.01M45.8 305.5h0.01M47.5 316.3h0.01M52.0 327.9h0.01M50.5 330.5h0.01M43.5 369.2h0.01M50.1 296.5h0.01M57.7 291.9h0.01M34.4 290.2h0.01M50.1 316.0h0.01M37.7 372.3h0.01M47.9 329.6h0.01M53.9 319.7h0.01M44.4 325.9h0.01M45.5 376.9h0.01M41.2 373.5h0.01M42.5 376.8h0.01M45.4 312.4h0.01M44.8 370.9h0.01M43.7 367.6h0.01M50.0 336.3h0.01M43.5 298.8h0.01M46.8 363.1h0.01M45.0 354.7h0.01M48.9 307.0h0.01M41.9 381.6h0.01M47.8 358.9h0.01M40.1 348.5h0.01M36.5 364.8h0.01M44.2 378.2h0.01M49.0 292.6h0.01M49.2 315.6h0.01M38.9 298.4h0.01M41.2 379.1h0.01M41.9 326.3h0.01M43.7 353.9h0.01M47.6 351.5h0.01M49.4 309.3h0.01M42.3 372.5h0.01M42.7 326.9h0.01M48.5 323.5h0.01M45.0 381.3h0.01M53.3 312.2h0.01M41.8 361.8h0.01M39.7 351.7h0.01M45.8 374.8h0.01M44.6 359.2h0.01M38.7 348.6h0.01M47.7 310.8h0.01M51.5 309.1h0.01M41.3 351.7h0.01M40.3 361.4h0.01M39.2 367.9h0.01M48.6 301.6h0.01M55.1 306.6h0.01M53.0 326.6h0.01M52.1 291.9h0.01M51.2 292.8h0.01M46.1 357.7h0.01M43.4 365.9h0.01M44.8 342.6h0.01M43.9 291.5h0.01M34.0 304.4h0.01M43.4 324.8h0.01M44.5 370.2h0.01M36.2 346.8h0.01M42.6 388.0h0.01M52.0 314.9h0.01M53.3 320.3h0.01M54.5 294.7h0.01M47.1 367.4h0.01M40.3 359.7h0.01M43.6 341.6h0.01M43.9 386.9h0.01M49.5 338.7h0.01M44.0 385.0h0.01M39.4 362.1h0.01M44.0 336.9h0.01M50.4 324.4h0.01M45.5 368.5h0.01M45.9 361.7h0.01M37.4 305.7h0.01M43.6 388.0h0.01M52.3 330.6h0.01M39.0 353.7h0.01M38.2 364.7h0.01M44.2 339.3h0.01M47.2 366.1h0.01M49.1 341.2h0.01M39.3 344.7h0.01M50.1 325.7h0.01M33.5 307.7h0.01M45.2 343.1h0.01M48.5 348.0h0.01M39.5 369.1h0.01M48.4 327.9h0.01M52.2 330.1h0.01M51.0 325.5h0.01M45.3 348.6h0.01M42.6 373.8h0.01M42.5 384.0h0.01M42.5 336.8h0.01M43.9 387.5h0.01M45.0 363.9h0.01M44.0 355.5h0.01M37.5 350.3h0.01M46.4 347.8h0.01M49.7 342.8h0.01M42.4 370.2h0.01M49.3 315.4h0.01M43.7 380.4h0.01M53.9 307.1h0.01M37.5 355.0h0.01M50.3 297.0h0.01M47.0 365.5h0.01M44.5 384.1h0.01M43.8 378.4h0.01M44.3 378.5h0.01M40.0 338.5h0.01M51.5 335.4h0.01M44.3 367.6h0.01M47.1 356.7h0.01M50.2 316.8h0.01M48.3 321.3h0.01M51.8 292.8h0.01M44.0 375.4h0.01M46.0 352.4h0.01M36.8 329.9h0.01M49.6 322.1h0.01M44.4 329.8h0.01M41.6 370.8h0.01M45.9 376.6h0.01M47.5 301.7h0.01M43.0 332.3h0.01M42.2 364.3h0.01M44.7 324.5h0.01M46.2 345.0h0.01M46.6 315.8h0.01M45.9 367.1h0.01M46.6 321.7h0.01M49.4 347.4h0.01M44.1 382.6h0.01M43.9 317.6h0.01M32.6 301.9h0.01M42.9 354.2h0.01M36.5 311.8h0.01M49.6 305.4h0.01M41.8 353.8h0.01M43.5 373.8h0.01M33.2 298.4h0.01M44.2 387.2h0.01M38.8 335.8h0.01M46.6 357.1h0.01M42.7 312.7h0.01M41.1 369.2h0.01M41.7 368.7h0.01M50.0 313.3h0.01M53.2 294.0h0.01M41.5 382.0h0.01M36.8 330.8h0.01M45.1 371.4h0.01M44.7 382.2h0.01M52.7 291.2h0.01M43.9 373.1h0.01M42.1 311.2h0.01M39.2 356.8h0.01M55.9 294.3h0.01M48.6 331.3h0.01M47.6 301.6h0.01M52.2 326.9h0.01M54.3 304.8h0.01M52.9 305.4h0.01M39.8 331.3h0.01M41.7 367.0h0.01M44.4 384.1h0.01M46.7 361.4h0.01M39.1 343.9h0.01M36.5 296.8h0.01M52.4 315.7h0.01M43.2 359.9h0.01M49.8 328.9h0.01M51.7 326.1h0.01M38.9 351.9h0.01M39.7 370.2h0.01M44.8 353.9h0.01M48.2 302.0h0.01M44.2 367.4h0.01M43.4 300.5h0.01M51.1 322.8h0.01M56.0 290.0h0.01M44.8 375.4h0.01M39.4 376.6h0.01M49.9 341.1h0.01M45.2 378.4h0.01M42.5 342.1h0.01M48.3 302.8h0.01" stroke="#2f7fc4" stroke-width="0.85" stroke-linecap="round" fill="none" stroke-opacity="0.9"/>
<path d="M52.5 330L44.4 392.6L41.4 392.6L46 330Z" fill="#2f7fc4" fill-opacity="0.4"/>
<rect x="22.4" y="225.5" width="45.2" height="1.4" fill="#2f7fc4" fill-opacity="0.85"/>
<rect x="22.4" y="225.5" width="1.5" height="121.5" fill="#2f7fc4"/>
<path d="M91.2 225.5L121.5 225.5L121.5 243Z" fill="#96604c"/>
<path d="M91.2 225.5L121.5 243" stroke="#2f7fc4" stroke-width="1.6" stroke-dasharray="0.9 0.7" fill="none"/>
<path d="M112 225.5L121.5 232.5L121.5 225.5Z" fill="#2f7fc4" fill-opacity="0.6"/>
<path d="M93.9 322.0h0.01M95.5 324.0h0.01M95.0 326.0h0.01M93.7 328.0h0.01M94.7 330.0h0.01M94.0 332.0h0.01M93.1 334.0h0.01M93.5 336.0h0.01M95.4 338.0h0.01M94.4 340.0h0.01M94.8 342.0h0.01M93.7 344.0h0.01M94.6 346.0h0.01M93.2 348.0h0.01M94.0 350.0h0.01M93.1 351.0h0.01M95.4 352.0h0.01M95.4 353.0h0.01M94.3 354.0h0.01M94.3 355.0h0.01M94.6 356.0h0.01M94.4 357.0h0.01M94.2 358.0h0.01M94.7 359.0h0.01M94.0 360.0h0.01M94.4 361.0h0.01M94.2 362.0h0.01M94.3 363.0h0.01M94.4 364.0h0.01M94.3 365.0h0.01M94.1 366.0h0.01M94.3 367.0h0.01M94.6 368.0h0.01M94.4 369.0h0.01M94.5 370.0h0.01M94.7 371.0h0.01M94.5 372.0h0.01M94.5 373.0h0.01M94.5 374.0h0.01M94.7 375.0h0.01M94.4 376.0h0.01M94.0 377.0h0.01M94.3 378.0h0.01M94.0 379.0h0.01M94.4 380.0h0.01M94.6 381.0h0.01M94.5 382.0h0.01M94.0 383.0h0.01M93.9 384.0h0.01M94.6 385.0h0.01M94.6 386.0h0.01M94.1 387.0h0.01M94.4 388.0h0.01M94.7 389.0h0.01M94.6 390.0h0.01M93.9 391.0h0.01M94.3 392.0h0.01M94.7 393.0h0.01M94.2 394.0h0.01M94.2 395.0h0.01M94.5 396.0h0.01" stroke="#d95319" stroke-width="0.6" stroke-linecap="round" fill="none" stroke-opacity="0.8"/>
<path d="M45 370.6L94 368.7M45 377.5L94 378.6M77 335.6L93 335.2M45 353.9L94 354.2" stroke="#d95319" stroke-width="0.45" fill="none" stroke-opacity="0.85"/>
<path d="M22.4 369.6H40.5M22.4 378.6H41.5" stroke="#6d7585" stroke-width="1.7" fill="none"/>
<line x1="22.4" y1="353.2" x2="121.5" y2="353.2" stroke="#4a8fcf" stroke-width="1.7"/>
<line x1="22.4" y1="395.5" x2="121.5" y2="395.5" stroke="#3f88cb" stroke-width="2.0"/>
<line x1="94" y1="395.5" x2="121.5" y2="395.5" stroke="#777" stroke-width="0.6" stroke-dasharray="0.8 0.8"/>
<rect x="42.3" y="390.8" width="2.4" height="2.4" fill="none" stroke="#2f7fc4" stroke-width="0.6"/>
</g>
<path d="M22.4 225.5V399.0H121.5" fill="none" stroke="#8a8a8a" stroke-width="0.6"/>
<path d="M121.5 225.5V399.0" fill="none" stroke="#b5b5b5" stroke-width="0.6"/>
<text x="25.6" y="238.4" font-size="11.4" fill="#fff">(d)</text>
<text x="20.8" y="230.4" font-size="10.6" fill="#2a2a2a" text-anchor="end">0.2</text>
<text x="20.8" y="400.4" font-size="10.6" fill="#2a2a2a" text-anchor="end">0</text>
<text x="22.4" y="413.6" font-size="10.6" fill="#2a2a2a" text-anchor="middle">0</text>
<text x="121.0" y="413.6" font-size="10.6" fill="#2a2a2a" text-anchor="middle">2</text>
<text x="40.2" y="413.4" font-size="10.6" fill="#2a2a2a">v<tspan font-size="8.4" dy="3.4">1</tspan></text>
<text x="90.8" y="413.4" font-size="10.6" fill="#2a2a2a">v<tspan font-size="8.4" dy="3.4">2</tspan></text>
<text x="72.3" y="429.3" font-family='"Liberation Serif", serif' font-style="italic" font-size="9.5" fill="#555" text-anchor="middle">v</text>
<text transform="translate(12.9 313.8) rotate(-90)" font-family='"Liberation Serif", serif' font-style="italic" font-size="10" fill="#333" text-anchor="middle">F<tspan font-size="7" dy="2" font-style="normal">0</tspan><tspan dy="-2" font-style="normal">, </tspan>F<tspan font-size="7" dy="2">π</tspan></text>
</g>
<g id="pe">
<line x1="202" y1="226.3" x2="202" y2="399.3" stroke="#e3e3e3" stroke-width="0.6"/>
<line x1="152.3" y1="396.4" x2="251.6" y2="396.4" stroke="#ececec" stroke-width="0.5"/>
<rect x="152.3" y="226.3" width="99.29999999999998" height="173.0" fill="none" stroke="#a8a8a8" stroke-width="0.7"/>
<circle cx="158.5" cy="396.4" r="1.9" fill="#d3e8f8" stroke="#8cc5ee" stroke-width="0.7"/>
<circle cx="158.5" cy="396.4" r="1.05" fill="#ea2f08"/>
<circle cx="164.7" cy="396.4" r="1.9" fill="#d3e8f8" stroke="#8cc5ee" stroke-width="0.7"/>
<circle cx="164.7" cy="396.4" r="1.05" fill="#ea2f08"/>
<circle cx="170.8" cy="396.4" r="1.9" fill="#d3e8f8" stroke="#8cc5ee" stroke-width="0.7"/>
<circle cx="170.8" cy="396.4" r="1.05" fill="#ea2f08"/>
<circle cx="177.0" cy="396.4" r="1.9" fill="#d3e8f8" stroke="#8cc5ee" stroke-width="0.7"/>
<circle cx="177.0" cy="396.4" r="1.05" fill="#ea2f08"/>
<circle cx="183.2" cy="396.4" r="1.9" fill="#d3e8f8" stroke="#8cc5ee" stroke-width="0.7"/>
<circle cx="183.2" cy="396.4" r="1.05" fill="#ea2f08"/>
<circle cx="189.4" cy="396.4" r="1.9" fill="#d3e8f8" stroke="#8cc5ee" stroke-width="0.7"/>
<circle cx="189.4" cy="396.4" r="1.05" fill="#ea2f08"/>
<circle cx="195.5" cy="396.4" r="1.9" fill="#d3e8f8" stroke="#8cc5ee" stroke-width="0.7"/>
<circle cx="195.5" cy="396.4" r="1.05" fill="#ea2f08"/>
<circle cx="201.7" cy="396.4" r="1.9" fill="#d3e8f8" stroke="#8cc5ee" stroke-width="0.7"/>
<circle cx="201.7" cy="396.4" r="1.05" fill="#ea2f08"/>
<circle cx="207.9" cy="396.4" r="1.9" fill="#fff" stroke="#8cc5ee" stroke-width="0.7"/>
<circle cx="207.9" cy="226.3" r="1.05" fill="#ea2f08"/>
<circle cx="214.1" cy="396.4" r="1.9" fill="#fff" stroke="#8cc5ee" stroke-width="0.7"/>
<circle cx="214.1" cy="226.3" r="1.05" fill="#ea2f08"/>
<circle cx="220.2" cy="396.4" r="1.9" fill="#fff" stroke="#8cc5ee" stroke-width="0.7"/>
<circle cx="220.2" cy="226.3" r="1.05" fill="#ea2f08"/>
<circle cx="226.4" cy="396.4" r="1.9" fill="#fff" stroke="#8cc5ee" stroke-width="0.7"/>
<circle cx="226.4" cy="226.3" r="1.05" fill="#ea2f08"/>
<circle cx="232.6" cy="226.3" r="1.9" fill="#d3e8f8" stroke="#8cc5ee" stroke-width="0.7"/>
<circle cx="232.6" cy="226.3" r="1.05" fill="#ea2f08"/>
<circle cx="238.8" cy="226.3" r="1.9" fill="#d3e8f8" stroke="#8cc5ee" stroke-width="0.7"/>
<circle cx="238.8" cy="226.3" r="1.05" fill="#ea2f08"/>
<circle cx="244.9" cy="226.3" r="1.9" fill="#d3e8f8" stroke="#8cc5ee" stroke-width="0.7"/>
<circle cx="244.9" cy="226.3" r="1.05" fill="#ea2f08"/>
<circle cx="251.1" cy="226.3" r="1.9" fill="#d3e8f8" stroke="#8cc5ee" stroke-width="0.7"/>
<circle cx="251.1" cy="226.3" r="1.05" fill="#ea2f08"/>
<text x="153.6" y="238.3" font-size="11.5" fill="#222">(e)</text>
<text x="149.2" y="230.6" font-size="10.6" fill="#2a2a2a" text-anchor="end">0.05</text>
<text x="149.2" y="400.5" font-size="10.6" fill="#2a2a2a" text-anchor="end">0</text>
<text x="152.3" y="413.5" font-size="10.6" fill="#2a2a2a" text-anchor="middle">0</text>
<text x="201.7" y="413.5" font-size="10.6" fill="#2a2a2a" text-anchor="middle">8</text>
<text x="251.1" y="413.5" font-size="10.6" fill="#2a2a2a" text-anchor="middle">16</text>
<text x="201.6" y="426.8" font-family='"Liberation Serif", serif' font-style="italic" font-size="12.5" fill="#444" text-anchor="middle">N</text>
</g>
<g id="pf">
<path d="M301.2 294.3L332.8 280.7L355.8 298.8L324.8 313.9Z" fill="#8f7462"/>
<path d="M301.20 294.30L302.19 293.87L325.79 313.47L324.80 313.90Z" fill="#a3694a"/>
<path d="M302.13 293.90L303.12 293.47L326.72 313.07L325.73 313.50Z" fill="#7c8088"/>
<path d="M303.06 293.50L304.05 293.07L327.65 312.67L326.66 313.10Z" fill="#a3694a"/>
<path d="M303.99 293.10L304.98 292.67L328.58 312.27L327.59 312.70Z" fill="#7c8088"/>
<path d="M304.92 292.70L305.91 292.27L329.51 311.87L328.52 312.30Z" fill="#a3694a"/>
<path d="M305.85 292.30L306.84 291.87L330.44 311.47L329.45 311.90Z" fill="#7c8088"/>
<path d="M306.78 291.90L307.77 291.47L331.37 311.07L330.38 311.50Z" fill="#a3694a"/>
<path d="M307.71 291.50L308.70 291.07L332.30 310.67L331.31 311.10Z" fill="#7c8088"/>
<path d="M308.64 291.10L309.63 290.67L333.23 310.27L332.24 310.70Z" fill="#a3694a"/>
<path d="M309.56 290.70L310.56 290.27L334.16 309.87L333.16 310.30Z" fill="#7c8088"/>
<path d="M310.49 290.30L311.49 289.87L335.09 309.47L334.09 309.90Z" fill="#a3694a"/>
<path d="M311.42 289.90L312.42 289.47L336.02 309.07L335.02 309.50Z" fill="#7c8088"/>
<path d="M312.35 289.50L313.35 289.07L336.95 308.67L335.95 309.10Z" fill="#a3694a"/>
<path d="M313.28 289.10L314.27 288.67L337.87 308.27L336.88 308.70Z" fill="#7c8088"/>
<path d="M314.21 288.70L315.20 288.27L338.80 307.87L337.81 308.30Z" fill="#a3694a"/>
<path d="M315.14 288.30L316.13 287.87L339.73 307.47L338.74 307.90Z" fill="#7c8088"/>
<path d="M316.07 287.90L317.06 287.47L340.66 307.07L339.67 307.50Z" fill="#a3694a"/>
<path d="M317.00 287.50L317.99 287.07L341.59 306.67L340.60 307.10Z" fill="#7c8088"/>
<path d="M317.93 287.10L318.92 286.67L342.52 306.27L341.53 306.70Z" fill="#a3694a"/>
<path d="M318.86 286.70L319.85 286.27L343.45 305.87L342.46 306.30Z" fill="#7c8088"/>
<path d="M319.79 286.30L320.78 285.87L344.38 305.47L343.39 305.90Z" fill="#a3694a"/>
<path d="M320.72 285.90L321.71 285.47L345.31 305.07L344.32 305.50Z" fill="#7c8088"/>
<path d="M321.65 285.50L322.64 285.07L346.24 304.67L345.25 305.10Z" fill="#a3694a"/>
<path d="M322.58 285.10L323.57 284.67L347.17 304.27L346.18 304.70Z" fill="#7c8088"/>
<path d="M323.51 284.70L324.50 284.27L348.10 303.87L347.11 304.30Z" fill="#a3694a"/>
<path d="M324.44 284.30L325.43 283.87L349.03 303.47L348.04 303.90Z" fill="#7c8088"/>
<path d="M325.36 283.90L326.36 283.47L349.96 303.07L348.96 303.50Z" fill="#a3694a"/>
<path d="M326.29 283.50L327.29 283.07L350.89 302.67L349.89 303.10Z" fill="#7c8088"/>
<path d="M327.22 283.10L328.22 282.67L351.82 302.27L350.82 302.70Z" fill="#a3694a"/>
<path d="M328.15 282.70L329.15 282.27L352.75 301.87L351.75 302.30Z" fill="#7c8088"/>
<path d="M329.08 282.30L330.07 281.87L353.67 301.47L352.68 301.90Z" fill="#a3694a"/>
<path d="M330.01 281.90L331.00 281.47L354.60 301.07L353.61 301.50Z" fill="#7c8088"/>
<path d="M330.94 281.50L331.93 281.07L355.53 300.67L354.54 301.10Z" fill="#a3694a"/>
<path d="M331.87 281.10L332.86 280.67L356.46 300.27L355.47 300.70Z" fill="#7c8088"/>
<path d="M301.2 251.9V294.3L324.8 313.9L355.8 298.8" fill="none" stroke="#444" stroke-width="0.4"/>
<path d="M301.2 251.9h-1.3" stroke="#444" stroke-width="0.4"/>
<text x="299.2" y="253.5" font-size="4.5" text-anchor="end" fill="#333">0.06</text>
<path d="M301.2 265.9h-1.3" stroke="#444" stroke-width="0.4"/>
<text x="299.2" y="267.5" font-size="4.5" text-anchor="end" fill="#333">0.04</text>
<path d="M301.2 280.1h-1.3" stroke="#444" stroke-width="0.4"/>
<text x="299.2" y="281.7" font-size="4.5" text-anchor="end" fill="#333">0.02</text>
<path d="M301.2 294.2h-1.3" stroke="#444" stroke-width="0.4"/>
<text x="299.2" y="295.8" font-size="4.5" text-anchor="end" fill="#333">0</text>
<linearGradient id="gf332" gradientUnits="userSpaceOnUse" x1="0" y1="280.7" x2="0" y2="238"><stop offset="0" stop-color="#6fb43c" stop-opacity="1"/><stop offset="0.7" stop-color="#6fb43c" stop-opacity="0.9"/><stop offset="1" stop-color="#6fb43c" stop-opacity="0.5"/></linearGradient>
<path d="M330.90 281.10Q332.30 279.20 332.38 273.70L332.42 238L333.18 238L333.22 273.70Q333.30 279.20 334.70 281.10Z" fill="url(#gf332)"/>
<linearGradient id="gf355" gradientUnits="userSpaceOnUse" x1="0" y1="298.8" x2="0" y2="263.7"><stop offset="0" stop-color="#6fb43c" stop-opacity="1"/><stop offset="0.7" stop-color="#6fb43c" stop-opacity="0.9"/><stop offset="1" stop-color="#6fb43c" stop-opacity="0.5"/></linearGradient>
<path d="M353.90 299.20Q355.30 297.30 355.38 291.80L355.42 263.7L356.18 263.7L356.22 291.80Q356.30 297.30 357.70 299.20Z" fill="url(#gf355)"/>
<linearGradient id="gf301" gradientUnits="userSpaceOnUse" x1="0" y1="294.3" x2="0" y2="251.9"><stop offset="0" stop-color="#2f86d6" stop-opacity="1"/><stop offset="0.7" stop-color="#2f86d6" stop-opacity="0.9"/><stop offset="1" stop-color="#2f86d6" stop-opacity="0.5"/></linearGradient>
<path d="M299.30 294.70Q300.70 292.80 300.78 287.30L300.82 251.9L301.58 251.9L301.62 287.30Q301.70 292.80 303.10 294.70Z" fill="url(#gf301)"/>
<linearGradient id="gf324" gradientUnits="userSpaceOnUse" x1="0" y1="313.9" x2="0" y2="278.4"><stop offset="0" stop-color="#2f86d6" stop-opacity="1"/><stop offset="0.7" stop-color="#2f86d6" stop-opacity="0.9"/><stop offset="1" stop-color="#2f86d6" stop-opacity="0.5"/></linearGradient>
<path d="M322.90 314.30Q324.30 312.40 324.38 306.90L324.42 278.4L325.18 278.4L325.22 306.90Q325.30 312.40 326.70 314.30Z" fill="url(#gf324)"/>
<text x="293.8" y="300.8" font-size="4.5" text-anchor="middle" fill="#333">2000</text>
<text x="363.2" y="305.6" font-size="4.5" text-anchor="middle" fill="#333">2000</text>
<text x="321.5" y="320.4" font-size="4.5" text-anchor="middle" fill="#333">0</text>
<text x="328.1" y="320.4" font-size="4.5" text-anchor="middle" fill="#333">0</text>
<text x="301.4" y="314.3" font-family='"Liberation Serif", serif' font-style="italic" font-size="5.2" text-anchor="middle" fill="#444">N<tspan font-size="3.6" dy="1">y</tspan></text>
<text x="349.6" y="321.5" font-family='"Liberation Serif", serif' font-style="italic" font-size="5.2" text-anchor="middle" fill="#444">N<tspan font-size="3.6" dy="1">x</tspan></text>
<text transform="translate(288.8 271.5) rotate(0)" font-family='"Liberation Serif", serif' font-style="italic" font-size="5.6" text-anchor="middle" fill="#444">P</text>
<text x="302.8" y="261.2" font-size="10" fill="#111" stroke="#111" stroke-width="0.2">(f)</text>
</g>
<g id="pg">
<path d="M385.04999999999995 294.3L416.65 280.7L439.65 298.8L408.65 313.9Z" fill="#8f7462"/>
<path d="M385.05 294.30L386.04 293.87L409.64 313.47L408.65 313.90Z" fill="#a3694a"/>
<path d="M385.98 293.90L386.97 293.47L410.57 313.07L409.58 313.50Z" fill="#7c8088"/>
<path d="M386.91 293.50L387.90 293.07L411.50 312.67L410.51 313.10Z" fill="#a3694a"/>
<path d="M387.84 293.10L388.83 292.67L412.43 312.27L411.44 312.70Z" fill="#7c8088"/>
<path d="M388.77 292.70L389.76 292.27L413.36 311.87L412.37 312.30Z" fill="#a3694a"/>
<path d="M389.70 292.30L390.69 291.87L414.29 311.47L413.30 311.90Z" fill="#7c8088"/>
<path d="M390.63 291.90L391.62 291.47L415.22 311.07L414.23 311.50Z" fill="#a3694a"/>
<path d="M391.56 291.50L392.55 291.07L416.15 310.67L415.16 311.10Z" fill="#7c8088"/>
<path d="M392.49 291.10L393.48 290.67L417.08 310.27L416.09 310.70Z" fill="#a3694a"/>
<path d="M393.41 290.70L394.41 290.27L418.01 309.87L417.01 310.30Z" fill="#7c8088"/>
<path d="M394.34 290.30L395.34 289.87L418.94 309.47L417.94 309.90Z" fill="#a3694a"/>
<path d="M395.27 289.90L396.27 289.47L419.87 309.07L418.87 309.50Z" fill="#7c8088"/>
<path d="M396.20 289.50L397.20 289.07L420.80 308.67L419.80 309.10Z" fill="#a3694a"/>
<path d="M397.13 289.10L398.12 288.67L421.72 308.27L420.73 308.70Z" fill="#7c8088"/>
<path d="M398.06 288.70L399.05 288.27L422.65 307.87L421.66 308.30Z" fill="#a3694a"/>
<path d="M398.99 288.30L399.98 287.87L423.58 307.47L422.59 307.90Z" fill="#7c8088"/>
<path d="M399.92 287.90L400.91 287.47L424.51 307.07L423.52 307.50Z" fill="#a3694a"/>
<path d="M400.85 287.50L401.84 287.07L425.44 306.67L424.45 307.10Z" fill="#7c8088"/>
<path d="M401.78 287.10L402.77 286.67L426.37 306.27L425.38 306.70Z" fill="#a3694a"/>
<path d="M402.71 286.70L403.70 286.27L427.30 305.87L426.31 306.30Z" fill="#7c8088"/>
<path d="M403.64 286.30L404.63 285.87L428.23 305.47L427.24 305.90Z" fill="#a3694a"/>
<path d="M404.57 285.90L405.56 285.47L429.16 305.07L428.17 305.50Z" fill="#7c8088"/>
<path d="M405.50 285.50L406.49 285.07L430.09 304.67L429.10 305.10Z" fill="#a3694a"/>
<path d="M406.43 285.10L407.42 284.67L431.02 304.27L430.03 304.70Z" fill="#7c8088"/>
<path d="M407.36 284.70L408.35 284.27L431.95 303.87L430.96 304.30Z" fill="#a3694a"/>
<path d="M408.29 284.30L409.28 283.87L432.88 303.47L431.89 303.90Z" fill="#7c8088"/>
<path d="M409.21 283.90L410.21 283.47L433.81 303.07L432.81 303.50Z" fill="#a3694a"/>
<path d="M410.14 283.50L411.14 283.07L434.74 302.67L433.74 303.10Z" fill="#7c8088"/>
<path d="M411.07 283.10L412.07 282.67L435.67 302.27L434.67 302.70Z" fill="#a3694a"/>
<path d="M412.00 282.70L413.00 282.27L436.60 301.87L435.60 302.30Z" fill="#7c8088"/>
<path d="M412.93 282.30L413.92 281.87L437.52 301.47L436.53 301.90Z" fill="#a3694a"/>
<path d="M413.86 281.90L414.85 281.47L438.45 301.07L437.46 301.50Z" fill="#7c8088"/>
<path d="M414.79 281.50L415.78 281.07L439.38 300.67L438.39 301.10Z" fill="#a3694a"/>
<path d="M415.72 281.10L416.71 280.67L440.31 300.27L439.32 300.70Z" fill="#7c8088"/>
<path d="M385.04999999999995 253.3V294.3L408.65 313.9L439.65 298.8" fill="none" stroke="#444" stroke-width="0.4"/>
<path d="M385.04999999999995 255h-1.3" stroke="#444" stroke-width="0.4"/>
<text x="383.0" y="256.6" font-size="4.5" text-anchor="end" fill="#333">0.1</text>
<path d="M385.04999999999995 274.7h-1.3" stroke="#444" stroke-width="0.4"/>
<text x="383.0" y="276.3" font-size="4.5" text-anchor="end" fill="#333">0.05</text>
<path d="M385.04999999999995 294.2h-1.3" stroke="#444" stroke-width="0.4"/>
<text x="383.0" y="295.8" font-size="4.5" text-anchor="end" fill="#333">0</text>
<linearGradient id="gg416" gradientUnits="userSpaceOnUse" x1="0" y1="280.7" x2="0" y2="238"><stop offset="0" stop-color="#6fb43c" stop-opacity="1"/><stop offset="0.7" stop-color="#6fb43c" stop-opacity="0.9"/><stop offset="1" stop-color="#6fb43c" stop-opacity="0.5"/></linearGradient>
<path d="M416.02 281.10Q416.15 280.47 416.23 277.95L416.27 238L417.03 238L417.07 277.95Q417.15 280.47 417.27 281.10Z" fill="url(#gg416)"/>
<linearGradient id="gg439" gradientUnits="userSpaceOnUse" x1="0" y1="298.8" x2="0" y2="257.5"><stop offset="0" stop-color="#6fb43c" stop-opacity="1"/><stop offset="0.7" stop-color="#6fb43c" stop-opacity="0.9"/><stop offset="1" stop-color="#6fb43c" stop-opacity="0.5"/></linearGradient>
<path d="M439.02 299.20Q439.15 298.57 439.23 296.05L439.27 257.5L440.03 257.5L440.07 296.05Q440.15 298.57 440.27 299.20Z" fill="url(#gg439)"/>
<linearGradient id="gg385" gradientUnits="userSpaceOnUse" x1="0" y1="294.3" x2="0" y2="253.3"><stop offset="0" stop-color="#2f86d6" stop-opacity="1"/><stop offset="0.7" stop-color="#2f86d6" stop-opacity="0.9"/><stop offset="1" stop-color="#2f86d6" stop-opacity="0.5"/></linearGradient>
<path d="M384.42 294.70Q384.55 294.07 384.63 291.55L384.67 253.3L385.43 253.3L385.47 291.55Q385.55 294.07 385.67 294.70Z" fill="url(#gg385)"/>
<linearGradient id="gg408" gradientUnits="userSpaceOnUse" x1="0" y1="313.9" x2="0" y2="272"><stop offset="0" stop-color="#2f86d6" stop-opacity="1"/><stop offset="0.7" stop-color="#2f86d6" stop-opacity="0.9"/><stop offset="1" stop-color="#2f86d6" stop-opacity="0.5"/></linearGradient>
<path d="M408.02 314.30Q408.15 313.67 408.23 311.15L408.27 272L409.03 272L409.07 311.15Q409.15 313.67 409.27 314.30Z" fill="url(#gg408)"/>
<text x="377.6" y="300.8" font-size="4.5" text-anchor="middle" fill="#333">2000</text>
<text x="447.0" y="305.6" font-size="4.5" text-anchor="middle" fill="#333">2000</text>
<text x="405.3" y="320.4" font-size="4.5" text-anchor="middle" fill="#333">0</text>
<text x="411.9" y="320.4" font-size="4.5" text-anchor="middle" fill="#333">0</text>
<text x="385.2" y="314.3" font-family='"Liberation Serif", serif' font-style="italic" font-size="5.2" text-anchor="middle" fill="#444">N<tspan font-size="3.6" dy="1">y</tspan></text>
<text x="433.4" y="321.5" font-family='"Liberation Serif", serif' font-style="italic" font-size="5.2" text-anchor="middle" fill="#444">N<tspan font-size="3.6" dy="1">x</tspan></text>
<text transform="translate(372.6 271.5) rotate(0)" font-family='"Liberation Serif", serif' font-style="italic" font-size="5.6" text-anchor="middle" fill="#444">P</text>
<text x="386.65" y="261.2" font-size="10" fill="#111" stroke="#111" stroke-width="0.2">(g)</text>
</g>
<g id="ph">
<path d="M468.9 294.3L500.5 280.7L523.5 298.8L492.5 313.9Z" fill="#8f7462"/>
<path d="M468.90 294.30L469.89 293.87L493.49 313.47L492.50 313.90Z" fill="#a3694a"/>
<path d="M469.83 293.90L470.82 293.47L494.42 313.07L493.43 313.50Z" fill="#7c8088"/>
<path d="M470.76 293.50L471.75 293.07L495.35 312.67L494.36 313.10Z" fill="#a3694a"/>
<path d="M471.69 293.10L472.68 292.67L496.28 312.27L495.29 312.70Z" fill="#7c8088"/>
<path d="M472.62 292.70L473.61 292.27L497.21 311.87L496.22 312.30Z" fill="#a3694a"/>
<path d="M473.55 292.30L474.54 291.87L498.14 311.47L497.15 311.90Z" fill="#7c8088"/>
<path d="M474.48 291.90L475.47 291.47L499.07 311.07L498.08 311.50Z" fill="#a3694a"/>
<path d="M475.41 291.50L476.40 291.07L500.00 310.67L499.01 311.10Z" fill="#7c8088"/>
<path d="M476.34 291.10L477.33 290.67L500.93 310.27L499.94 310.70Z" fill="#a3694a"/>
<path d="M477.26 290.70L478.26 290.27L501.86 309.87L500.86 310.30Z" fill="#7c8088"/>
<path d="M478.19 290.30L479.19 289.87L502.79 309.47L501.79 309.90Z" fill="#a3694a"/>
<path d="M479.12 289.90L480.12 289.47L503.72 309.07L502.72 309.50Z" fill="#7c8088"/>
<path d="M480.05 289.50L481.05 289.07L504.65 308.67L503.65 309.10Z" fill="#a3694a"/>
<path d="M480.98 289.10L481.97 288.67L505.57 308.27L504.58 308.70Z" fill="#7c8088"/>
<path d="M481.91 288.70L482.90 288.27L506.50 307.87L505.51 308.30Z" fill="#a3694a"/>
<path d="M482.84 288.30L483.83 287.87L507.43 307.47L506.44 307.90Z" fill="#7c8088"/>
<path d="M483.77 287.90L484.76 287.47L508.36 307.07L507.37 307.50Z" fill="#a3694a"/>
<path d="M484.70 287.50L485.69 287.07L509.29 306.67L508.30 307.10Z" fill="#7c8088"/>
<path d="M485.63 287.10L486.62 286.67L510.22 306.27L509.23 306.70Z" fill="#a3694a"/>
<path d="M486.56 286.70L487.55 286.27L511.15 305.87L510.16 306.30Z" fill="#7c8088"/>
<path d="M487.49 286.30L488.48 285.87L512.08 305.47L511.09 305.90Z" fill="#a3694a"/>
<path d="M488.42 285.90L489.41 285.47L513.01 305.07L512.02 305.50Z" fill="#7c8088"/>
<path d="M489.35 285.50L490.34 285.07L513.94 304.67L512.95 305.10Z" fill="#a3694a"/>
<path d="M490.28 285.10L491.27 284.67L514.87 304.27L513.88 304.70Z" fill="#7c8088"/>
<path d="M491.21 284.70L492.20 284.27L515.80 303.87L514.81 304.30Z" fill="#a3694a"/>
<path d="M492.14 284.30L493.13 283.87L516.73 303.47L515.74 303.90Z" fill="#7c8088"/>
<path d="M493.06 283.90L494.06 283.47L517.66 303.07L516.66 303.50Z" fill="#a3694a"/>
<path d="M493.99 283.50L494.99 283.07L518.59 302.67L517.59 303.10Z" fill="#7c8088"/>
<path d="M494.92 283.10L495.92 282.67L519.52 302.27L518.52 302.70Z" fill="#a3694a"/>
<path d="M495.85 282.70L496.85 282.27L520.45 301.87L519.45 302.30Z" fill="#7c8088"/>
<path d="M496.78 282.30L497.77 281.87L521.37 301.47L520.38 301.90Z" fill="#a3694a"/>
<path d="M497.71 281.90L498.70 281.47L522.30 301.07L521.31 301.50Z" fill="#7c8088"/>
<path d="M498.64 281.50L499.63 281.07L523.23 300.67L522.24 301.10Z" fill="#a3694a"/>
<path d="M499.57 281.10L500.56 280.67L524.16 300.27L523.17 300.70Z" fill="#7c8088"/>
<path d="M468.9 251.2V294.3L492.5 313.9L523.5 298.8" fill="none" stroke="#444" stroke-width="0.4"/>
<path d="M468.9 251.7h-1.3" stroke="#444" stroke-width="0.4"/>
<text x="466.9" y="253.3" font-size="4.5" text-anchor="end" fill="#333">0.15</text>
<path d="M468.9 265.8h-1.3" stroke="#444" stroke-width="0.4"/>
<text x="466.9" y="267.4" font-size="4.5" text-anchor="end" fill="#333">0.1</text>
<path d="M468.9 280h-1.3" stroke="#444" stroke-width="0.4"/>
<text x="466.9" y="281.6" font-size="4.5" text-anchor="end" fill="#333">0.05</text>
<path d="M468.9 294.2h-1.3" stroke="#444" stroke-width="0.4"/>
<text x="466.9" y="295.8" font-size="4.5" text-anchor="end" fill="#333">0</text>
<linearGradient id="gh500" gradientUnits="userSpaceOnUse" x1="0" y1="280.7" x2="0" y2="238"><stop offset="0" stop-color="#6fb43c" stop-opacity="1"/><stop offset="0.7" stop-color="#6fb43c" stop-opacity="0.9"/><stop offset="1" stop-color="#6fb43c" stop-opacity="0.5"/></linearGradient>
<path d="M499.88 281.10Q500.00 280.47 500.08 277.95L500.12 238L500.88 238L500.92 277.95Q501.00 280.47 501.12 281.10Z" fill="url(#gh500)"/>
<linearGradient id="gh523" gradientUnits="userSpaceOnUse" x1="0" y1="298.8" x2="0" y2="262"><stop offset="0" stop-color="#6fb43c" stop-opacity="1"/><stop offset="0.7" stop-color="#6fb43c" stop-opacity="0.9"/><stop offset="1" stop-color="#6fb43c" stop-opacity="0.5"/></linearGradient>
<path d="M522.88 299.20Q523.00 298.57 523.08 296.05L523.12 262L523.88 262L523.92 296.05Q524.00 298.57 524.12 299.20Z" fill="url(#gh523)"/>
<linearGradient id="gh468" gradientUnits="userSpaceOnUse" x1="0" y1="294.3" x2="0" y2="251.2"><stop offset="0" stop-color="#2f86d6" stop-opacity="1"/><stop offset="0.7" stop-color="#2f86d6" stop-opacity="0.9"/><stop offset="1" stop-color="#2f86d6" stop-opacity="0.5"/></linearGradient>
<path d="M468.27 294.70Q468.40 294.07 468.48 291.55L468.52 251.2L469.28 251.2L469.32 291.55Q469.40 294.07 469.52 294.70Z" fill="url(#gh468)"/>
<linearGradient id="gh492" gradientUnits="userSpaceOnUse" x1="0" y1="313.9" x2="0" y2="277.2"><stop offset="0" stop-color="#2f86d6" stop-opacity="1"/><stop offset="0.7" stop-color="#2f86d6" stop-opacity="0.9"/><stop offset="1" stop-color="#2f86d6" stop-opacity="0.5"/></linearGradient>
<path d="M491.88 314.30Q492.00 313.67 492.08 311.15L492.12 277.2L492.88 277.2L492.92 311.15Q493.00 313.67 493.12 314.30Z" fill="url(#gh492)"/>
<text x="461.5" y="300.8" font-size="4.5" text-anchor="middle" fill="#333">2000</text>
<text x="530.9" y="305.6" font-size="4.5" text-anchor="middle" fill="#333">2000</text>
<text x="489.2" y="320.4" font-size="4.5" text-anchor="middle" fill="#333">0</text>
<text x="495.8" y="320.4" font-size="4.5" text-anchor="middle" fill="#333">0</text>
<text x="469.1" y="314.3" font-family='"Liberation Serif", serif' font-style="italic" font-size="5.2" text-anchor="middle" fill="#444">N<tspan font-size="3.6" dy="1">y</tspan></text>
<text x="517.3" y="321.5" font-family='"Liberation Serif", serif' font-style="italic" font-size="5.2" text-anchor="middle" fill="#444">N<tspan font-size="3.6" dy="1">x</tspan></text>
<text transform="translate(456.5 271.5) rotate(0)" font-family='"Liberation Serif", serif' font-style="italic" font-size="5.6" text-anchor="middle" fill="#444">P</text>
<text x="470.5" y="261.2" font-size="10" fill="#111" stroke="#111" stroke-width="0.2">(h)</text>
</g>
<g id="pi">
<path d="M301.2 399.9L358.5 385.8L401.6 404.4L344.2 418.9Z" fill="#8a7a60"/>
<path d="M301.20 399.90L302.18 399.66L345.18 418.66L344.20 418.90Z" fill="#c2504a"/>
<path d="M302.07 399.69L303.05 399.44L346.05 418.44L345.07 418.69Z" fill="#b8763a"/>
<path d="M302.94 399.47L303.92 399.23L346.92 418.23L345.94 418.47Z" fill="#7f9f44"/>
<path d="M303.80 399.26L304.79 399.02L347.79 418.02L346.80 418.26Z" fill="#4f9a8a"/>
<path d="M304.67 399.05L305.66 398.80L348.66 417.80L347.67 418.05Z" fill="#4a78c0"/>
<path d="M305.54 398.83L306.52 398.59L349.52 417.59L348.54 417.83Z" fill="#8a5aa0"/>
<path d="M306.41 398.62L307.39 398.38L350.39 417.38L349.41 417.62Z" fill="#c2504a"/>
<path d="M307.28 398.40L308.26 398.16L351.26 417.16L350.28 417.40Z" fill="#b8763a"/>
<path d="M308.15 398.19L309.13 397.95L352.13 416.95L351.15 417.19Z" fill="#7f9f44"/>
<path d="M309.01 397.98L310.00 397.74L353.00 416.74L352.01 416.98Z" fill="#4f9a8a"/>
<path d="M309.88 397.76L310.86 397.52L353.86 416.52L352.88 416.76Z" fill="#4a78c0"/>
<path d="M310.75 397.55L311.73 397.31L354.73 416.31L353.75 416.55Z" fill="#8a5aa0"/>
<path d="M311.62 397.34L312.60 397.09L355.60 416.09L354.62 416.34Z" fill="#c2504a"/>
<path d="M312.49 397.12L313.47 396.88L356.47 415.88L355.49 416.12Z" fill="#b8763a"/>
<path d="M313.35 396.91L314.34 396.67L357.34 415.67L356.35 415.91Z" fill="#7f9f44"/>
<path d="M314.22 396.70L315.21 396.45L358.21 415.45L357.22 415.70Z" fill="#4f9a8a"/>
<path d="M315.09 396.48L316.07 396.24L359.07 415.24L358.09 415.48Z" fill="#4a78c0"/>
<path d="M315.96 396.27L316.94 396.03L359.94 415.03L358.96 415.27Z" fill="#8a5aa0"/>
<path d="M316.83 396.05L317.81 395.81L360.81 414.81L359.83 415.05Z" fill="#c2504a"/>
<path d="M317.70 395.84L318.68 395.60L361.68 414.60L360.70 414.84Z" fill="#b8763a"/>
<path d="M318.56 395.63L319.55 395.39L362.55 414.39L361.56 414.63Z" fill="#7f9f44"/>
<path d="M319.43 395.41L320.41 395.17L363.41 414.17L362.43 414.41Z" fill="#4f9a8a"/>
<path d="M320.30 395.20L321.28 394.96L364.28 413.96L363.30 414.20Z" fill="#4a78c0"/>
<path d="M321.17 394.99L322.15 394.74L365.15 413.74L364.17 413.99Z" fill="#8a5aa0"/>
<path d="M322.04 394.77L323.02 394.53L366.02 413.53L365.04 413.77Z" fill="#c2504a"/>
<path d="M322.90 394.56L323.89 394.32L366.89 413.32L365.90 413.56Z" fill="#b8763a"/>
<path d="M323.77 394.35L324.76 394.10L367.76 413.10L366.77 413.35Z" fill="#7f9f44"/>
<path d="M324.64 394.13L325.62 393.89L368.62 412.89L367.64 413.13Z" fill="#4f9a8a"/>
<path d="M325.51 393.92L326.49 393.68L369.49 412.68L368.51 412.92Z" fill="#4a78c0"/>
<path d="M326.38 393.70L327.36 393.46L370.36 412.46L369.38 412.70Z" fill="#8a5aa0"/>
<path d="M327.25 393.49L328.23 393.25L371.23 412.25L370.25 412.49Z" fill="#c2504a"/>
<path d="M328.11 393.28L329.10 393.04L372.10 412.04L371.11 412.28Z" fill="#b8763a"/>
<path d="M328.98 393.06L329.96 392.82L372.96 411.82L371.98 412.06Z" fill="#7f9f44"/>
<path d="M329.85 392.85L330.83 392.61L373.83 411.61L372.85 411.85Z" fill="#4f9a8a"/>
<path d="M330.72 392.64L331.70 392.39L374.70 411.39L373.72 411.64Z" fill="#4a78c0"/>
<path d="M331.59 392.42L332.57 392.18L375.57 411.18L374.59 411.42Z" fill="#8a5aa0"/>
<path d="M332.45 392.21L333.44 391.97L376.44 410.97L375.45 411.21Z" fill="#c2504a"/>
<path d="M333.32 392.00L334.31 391.75L377.31 410.75L376.32 411.00Z" fill="#b8763a"/>
<path d="M334.19 391.78L335.17 391.54L378.17 410.54L377.19 410.78Z" fill="#7f9f44"/>
<path d="M335.06 391.57L336.04 391.33L379.04 410.33L378.06 410.57Z" fill="#4f9a8a"/>
<path d="M335.93 391.35L336.91 391.11L379.91 410.11L378.93 410.35Z" fill="#4a78c0"/>
<path d="M336.80 391.14L337.78 390.90L380.78 409.90L379.80 410.14Z" fill="#8a5aa0"/>
<path d="M337.66 390.93L338.65 390.69L381.65 409.69L380.66 409.93Z" fill="#c2504a"/>
<path d="M338.53 390.71L339.51 390.47L382.51 409.47L381.53 409.71Z" fill="#b8763a"/>
<path d="M339.40 390.50L340.38 390.26L383.38 409.26L382.40 409.50Z" fill="#7f9f44"/>
<path d="M340.27 390.29L341.25 390.04L384.25 409.04L383.27 409.29Z" fill="#4f9a8a"/>
<path d="M341.14 390.07L342.12 389.83L385.12 408.83L384.14 409.07Z" fill="#4a78c0"/>
<path d="M342.00 389.86L342.99 389.62L385.99 408.62L385.00 408.86Z" fill="#8a5aa0"/>
<path d="M342.87 389.65L343.86 389.40L386.86 408.40L385.87 408.65Z" fill="#c2504a"/>
<path d="M343.74 389.43L344.72 389.19L387.72 408.19L386.74 408.43Z" fill="#b8763a"/>
<path d="M344.61 389.22L345.59 388.98L388.59 407.98L387.61 408.22Z" fill="#7f9f44"/>
<path d="M345.48 389.00L346.46 388.76L389.46 407.76L388.48 408.00Z" fill="#4f9a8a"/>
<path d="M346.35 388.79L347.33 388.55L390.33 407.55L389.35 407.79Z" fill="#4a78c0"/>
<path d="M347.21 388.58L348.20 388.34L391.20 407.34L390.21 407.58Z" fill="#8a5aa0"/>
<path d="M348.08 388.36L349.06 388.12L392.06 407.12L391.08 407.36Z" fill="#c2504a"/>
<path d="M348.95 388.15L349.93 387.91L392.93 406.91L391.95 407.15Z" fill="#b8763a"/>
<path d="M349.82 387.94L350.80 387.69L393.80 406.69L392.82 406.94Z" fill="#7f9f44"/>
<path d="M350.69 387.72L351.67 387.48L394.67 406.48L393.69 406.72Z" fill="#4f9a8a"/>
<path d="M351.55 387.51L352.54 387.27L395.54 406.27L394.55 406.51Z" fill="#4a78c0"/>
<path d="M352.42 387.30L353.41 387.05L396.41 406.05L395.42 406.30Z" fill="#8a5aa0"/>
<path d="M353.29 387.08L354.27 386.84L397.27 405.84L396.29 406.08Z" fill="#c2504a"/>
<path d="M354.16 386.87L355.14 386.63L398.14 405.63L397.16 405.87Z" fill="#b8763a"/>
<path d="M355.03 386.65L356.01 386.41L399.01 405.41L398.03 405.65Z" fill="#7f9f44"/>
<path d="M355.90 386.44L356.88 386.20L399.88 405.20L398.90 405.44Z" fill="#4f9a8a"/>
<path d="M356.76 386.23L357.75 385.99L400.75 404.99L399.76 405.23Z" fill="#4a78c0"/>
<path d="M357.63 386.01L358.61 385.77L401.61 404.77L400.63 405.01Z" fill="#8a5aa0"/>
<path d="M301.2 357.7V399.9L344.2 418.9L401.6 404.4" fill="none" stroke="#444" stroke-width="0.4"/>
<path d="M301.2 357.7h-1.3" stroke="#444" stroke-width="0.4"/>
<text x="299.2" y="359.3" font-size="4.5" text-anchor="end" fill="#333">0.15</text>
<path d="M301.2 371.7h-1.3" stroke="#444" stroke-width="0.4"/>
<text x="299.2" y="373.3" font-size="4.5" text-anchor="end" fill="#333">0.1</text>
<path d="M301.2 385.7h-1.3" stroke="#444" stroke-width="0.4"/>
<text x="299.2" y="387.3" font-size="4.5" text-anchor="end" fill="#333">0.05</text>
<path d="M301.2 399.6h-1.3" stroke="#444" stroke-width="0.4"/>
<text x="299.2" y="401.2" font-size="4.5" text-anchor="end" fill="#333">0</text>
<linearGradient id="gi358" gradientUnits="userSpaceOnUse" x1="0" y1="385.8" x2="0" y2="351.4"><stop offset="0" stop-color="#6fb43c" stop-opacity="1"/><stop offset="0.7" stop-color="#6fb43c" stop-opacity="0.9"/><stop offset="1" stop-color="#6fb43c" stop-opacity="0.5"/></linearGradient>
<path d="M357.35 386.20Q358.00 385.05 358.08 381.30L358.12 351.4L358.88 351.4L358.92 381.30Q359.00 385.05 359.65 386.20Z" fill="url(#gi358)"/>
<linearGradient id="gi401" gradientUnits="userSpaceOnUse" x1="0" y1="404.4" x2="0" y2="370.5"><stop offset="0" stop-color="#6fb43c" stop-opacity="1"/><stop offset="0.7" stop-color="#6fb43c" stop-opacity="0.9"/><stop offset="1" stop-color="#6fb43c" stop-opacity="0.5"/></linearGradient>
<path d="M400.45 404.80Q401.10 403.65 401.18 399.90L401.22 370.5L401.98 370.5L402.02 399.90Q402.10 403.65 402.75 404.80Z" fill="url(#gi401)"/>
<linearGradient id="gi301" gradientUnits="userSpaceOnUse" x1="0" y1="399.9" x2="0" y2="357.7"><stop offset="0" stop-color="#2f86d6" stop-opacity="1"/><stop offset="0.7" stop-color="#2f86d6" stop-opacity="0.9"/><stop offset="1" stop-color="#2f86d6" stop-opacity="0.5"/></linearGradient>
<path d="M300.05 400.30Q300.70 399.15 300.78 395.40L300.82 357.7L301.58 357.7L301.62 395.40Q301.70 399.15 302.35 400.30Z" fill="url(#gi301)"/>
<linearGradient id="gi344" gradientUnits="userSpaceOnUse" x1="0" y1="418.9" x2="0" y2="384.5"><stop offset="0" stop-color="#2f86d6" stop-opacity="1"/><stop offset="0.7" stop-color="#2f86d6" stop-opacity="0.9"/><stop offset="1" stop-color="#2f86d6" stop-opacity="0.5"/></linearGradient>
<path d="M343.05 419.30Q343.70 418.15 343.78 414.40L343.82 384.5L344.58 384.5L344.62 414.40Q344.70 418.15 345.35 419.30Z" fill="url(#gi344)"/>
<text x="293.2" y="406.4" font-size="4.5" text-anchor="middle" fill="#333">2000</text>
<text x="410.2" y="410.7" font-size="4.5" text-anchor="middle" fill="#333">2000</text>
<text x="340.6" y="426.3" font-size="4.5" text-anchor="middle" fill="#333">0</text>
<text x="349.2" y="426.3" font-size="4.5" text-anchor="middle" fill="#333">0</text>
<text x="314.5" y="420.3" font-family='"Liberation Serif", serif' font-style="italic" font-size="5.2" text-anchor="middle" fill="#444">N<tspan font-size="3.6" dy="1">y</tspan></text>
<text x="376.9" y="428.6" font-family='"Liberation Serif", serif' font-style="italic" font-size="5.2" text-anchor="middle" fill="#444">N<tspan font-size="3.6" dy="1">x</tspan></text>
<text transform="translate(284.2 378.2) rotate(0)" font-family='"Liberation Serif", serif' font-style="italic" font-size="5.6" text-anchor="middle" fill="#444">P</text>
<text x="303.0" y="367.4" font-size="10" fill="#111" stroke="#111" stroke-width="0.2">(i)</text>
</g>
<g id="pj">
<path d="M433.6 399.9L490.9 385.8L534.0 404.4L476.6 418.9Z" fill="#8a7a60"/>
<path d="M433.60 399.90L434.58 399.66L477.58 418.66L476.60 418.90Z" fill="#c2504a"/>
<path d="M434.47 399.69L435.45 399.44L478.45 418.44L477.47 418.69Z" fill="#b8763a"/>
<path d="M435.34 399.47L436.32 399.23L479.32 418.23L478.34 418.47Z" fill="#7f9f44"/>
<path d="M436.20 399.26L437.19 399.02L480.19 418.02L479.20 418.26Z" fill="#4f9a8a"/>
<path d="M437.07 399.05L438.06 398.80L481.06 417.80L480.07 418.05Z" fill="#4a78c0"/>
<path d="M437.94 398.83L438.92 398.59L481.92 417.59L480.94 417.83Z" fill="#8a5aa0"/>
<path d="M438.81 398.62L439.79 398.38L482.79 417.38L481.81 417.62Z" fill="#c2504a"/>
<path d="M439.68 398.40L440.66 398.16L483.66 417.16L482.68 417.40Z" fill="#b8763a"/>
<path d="M440.55 398.19L441.53 397.95L484.53 416.95L483.55 417.19Z" fill="#7f9f44"/>
<path d="M441.41 397.98L442.40 397.74L485.40 416.74L484.41 416.98Z" fill="#4f9a8a"/>
<path d="M442.28 397.76L443.26 397.52L486.26 416.52L485.28 416.76Z" fill="#4a78c0"/>
<path d="M443.15 397.55L444.13 397.31L487.13 416.31L486.15 416.55Z" fill="#8a5aa0"/>
<path d="M444.02 397.34L445.00 397.09L488.00 416.09L487.02 416.34Z" fill="#c2504a"/>
<path d="M444.89 397.12L445.87 396.88L488.87 415.88L487.89 416.12Z" fill="#b8763a"/>
<path d="M445.75 396.91L446.74 396.67L489.74 415.67L488.75 415.91Z" fill="#7f9f44"/>
<path d="M446.62 396.70L447.61 396.45L490.61 415.45L489.62 415.70Z" fill="#4f9a8a"/>
<path d="M447.49 396.48L448.47 396.24L491.47 415.24L490.49 415.48Z" fill="#4a78c0"/>
<path d="M448.36 396.27L449.34 396.03L492.34 415.03L491.36 415.27Z" fill="#8a5aa0"/>
<path d="M449.23 396.05L450.21 395.81L493.21 414.81L492.23 415.05Z" fill="#c2504a"/>
<path d="M450.10 395.84L451.08 395.60L494.08 414.60L493.10 414.84Z" fill="#b8763a"/>
<path d="M450.96 395.63L451.95 395.39L494.95 414.39L493.96 414.63Z" fill="#7f9f44"/>
<path d="M451.83 395.41L452.81 395.17L495.81 414.17L494.83 414.41Z" fill="#4f9a8a"/>
<path d="M452.70 395.20L453.68 394.96L496.68 413.96L495.70 414.20Z" fill="#4a78c0"/>
<path d="M453.57 394.99L454.55 394.74L497.55 413.74L496.57 413.99Z" fill="#8a5aa0"/>
<path d="M454.44 394.77L455.42 394.53L498.42 413.53L497.44 413.77Z" fill="#c2504a"/>
<path d="M455.30 394.56L456.29 394.32L499.29 413.32L498.30 413.56Z" fill="#b8763a"/>
<path d="M456.17 394.35L457.16 394.10L500.16 413.10L499.17 413.35Z" fill="#7f9f44"/>
<path d="M457.04 394.13L458.02 393.89L501.02 412.89L500.04 413.13Z" fill="#4f9a8a"/>
<path d="M457.91 393.92L458.89 393.68L501.89 412.68L500.91 412.92Z" fill="#4a78c0"/>
<path d="M458.78 393.70L459.76 393.46L502.76 412.46L501.78 412.70Z" fill="#8a5aa0"/>
<path d="M459.65 393.49L460.63 393.25L503.63 412.25L502.65 412.49Z" fill="#c2504a"/>
<path d="M460.51 393.28L461.50 393.04L504.50 412.04L503.51 412.28Z" fill="#b8763a"/>
<path d="M461.38 393.06L462.36 392.82L505.36 411.82L504.38 412.06Z" fill="#7f9f44"/>
<path d="M462.25 392.85L463.23 392.61L506.23 411.61L505.25 411.85Z" fill="#4f9a8a"/>
<path d="M463.12 392.64L464.10 392.39L507.10 411.39L506.12 411.64Z" fill="#4a78c0"/>
<path d="M463.99 392.42L464.97 392.18L507.97 411.18L506.99 411.42Z" fill="#8a5aa0"/>
<path d="M464.85 392.21L465.84 391.97L508.84 410.97L507.85 411.21Z" fill="#c2504a"/>
<path d="M465.72 392.00L466.71 391.75L509.71 410.75L508.72 411.00Z" fill="#b8763a"/>
<path d="M466.59 391.78L467.57 391.54L510.57 410.54L509.59 410.78Z" fill="#7f9f44"/>
<path d="M467.46 391.57L468.44 391.33L511.44 410.33L510.46 410.57Z" fill="#4f9a8a"/>
<path d="M468.33 391.35L469.31 391.11L512.31 410.11L511.33 410.35Z" fill="#4a78c0"/>
<path d="M469.20 391.14L470.18 390.90L513.18 409.90L512.20 410.14Z" fill="#8a5aa0"/>
<path d="M470.06 390.93L471.05 390.69L514.05 409.69L513.06 409.93Z" fill="#c2504a"/>
<path d="M470.93 390.71L471.91 390.47L514.91 409.47L513.93 409.71Z" fill="#b8763a"/>
<path d="M471.80 390.50L472.78 390.26L515.78 409.26L514.80 409.50Z" fill="#7f9f44"/>
<path d="M472.67 390.29L473.65 390.04L516.65 409.04L515.67 409.29Z" fill="#4f9a8a"/>
<path d="M473.54 390.07L474.52 389.83L517.52 408.83L516.54 409.07Z" fill="#4a78c0"/>
<path d="M474.40 389.86L475.39 389.62L518.39 408.62L517.40 408.86Z" fill="#8a5aa0"/>
<path d="M475.27 389.65L476.26 389.40L519.26 408.40L518.27 408.65Z" fill="#c2504a"/>
<path d="M476.14 389.43L477.12 389.19L520.12 408.19L519.14 408.43Z" fill="#b8763a"/>
<path d="M477.01 389.22L477.99 388.98L520.99 407.98L520.01 408.22Z" fill="#7f9f44"/>
<path d="M477.88 389.00L478.86 388.76L521.86 407.76L520.88 408.00Z" fill="#4f9a8a"/>
<path d="M478.75 388.79L479.73 388.55L522.73 407.55L521.75 407.79Z" fill="#4a78c0"/>
<path d="M479.61 388.58L480.60 388.34L523.60 407.34L522.61 407.58Z" fill="#8a5aa0"/>
<path d="M480.48 388.36L481.46 388.12L524.46 407.12L523.48 407.36Z" fill="#c2504a"/>
<path d="M481.35 388.15L482.33 387.91L525.33 406.91L524.35 407.15Z" fill="#b8763a"/>
<path d="M482.22 387.94L483.20 387.69L526.20 406.69L525.22 406.94Z" fill="#7f9f44"/>
<path d="M483.09 387.72L484.07 387.48L527.07 406.48L526.09 406.72Z" fill="#4f9a8a"/>
<path d="M483.95 387.51L484.94 387.27L527.94 406.27L526.95 406.51Z" fill="#4a78c0"/>
<path d="M484.82 387.30L485.81 387.05L528.81 406.05L527.82 406.30Z" fill="#8a5aa0"/>
<path d="M485.69 387.08L486.67 386.84L529.67 405.84L528.69 406.08Z" fill="#c2504a"/>
<path d="M486.56 386.87L487.54 386.63L530.54 405.63L529.56 405.87Z" fill="#b8763a"/>
<path d="M487.43 386.65L488.41 386.41L531.41 405.41L530.43 405.65Z" fill="#7f9f44"/>
<path d="M488.30 386.44L489.28 386.20L532.28 405.20L531.30 405.44Z" fill="#4f9a8a"/>
<path d="M489.16 386.23L490.15 385.99L533.15 404.99L532.16 405.23Z" fill="#4a78c0"/>
<path d="M490.03 386.01L491.01 385.77L534.01 404.77L533.03 405.01Z" fill="#8a5aa0"/>
<path d="M433.6 357.7V399.9L476.6 418.9L534.0 404.4" fill="none" stroke="#444" stroke-width="0.4"/>
<path d="M433.6 357.7h-1.3" stroke="#444" stroke-width="0.4"/>
<text x="431.6" y="359.3" font-size="4.5" text-anchor="end" fill="#333">0.15</text>
<path d="M433.6 371.7h-1.3" stroke="#444" stroke-width="0.4"/>
<text x="431.6" y="373.3" font-size="4.5" text-anchor="end" fill="#333">0.1</text>
<path d="M433.6 385.7h-1.3" stroke="#444" stroke-width="0.4"/>
<text x="431.6" y="387.3" font-size="4.5" text-anchor="end" fill="#333">0.05</text>
<path d="M433.6 399.6h-1.3" stroke="#444" stroke-width="0.4"/>
<text x="431.6" y="401.2" font-size="4.5" text-anchor="end" fill="#333">0</text>
<linearGradient id="gj490" gradientUnits="userSpaceOnUse" x1="0" y1="385.8" x2="0" y2="351.4"><stop offset="0" stop-color="#6fb43c" stop-opacity="1"/><stop offset="0.7" stop-color="#6fb43c" stop-opacity="0.9"/><stop offset="1" stop-color="#6fb43c" stop-opacity="0.5"/></linearGradient>
<path d="M489.75 386.20Q490.40 385.05 490.48 381.30L490.52 351.4L491.28 351.4L491.32 381.30Q491.40 385.05 492.05 386.20Z" fill="url(#gj490)"/>
<linearGradient id="gj534" gradientUnits="userSpaceOnUse" x1="0" y1="404.4" x2="0" y2="370.5"><stop offset="0" stop-color="#6fb43c" stop-opacity="1"/><stop offset="0.7" stop-color="#6fb43c" stop-opacity="0.9"/><stop offset="1" stop-color="#6fb43c" stop-opacity="0.5"/></linearGradient>
<path d="M532.85 404.80Q533.50 403.65 533.58 399.90L533.62 370.5L534.38 370.5L534.42 399.90Q534.50 403.65 535.15 404.80Z" fill="url(#gj534)"/>
<linearGradient id="gj433" gradientUnits="userSpaceOnUse" x1="0" y1="399.9" x2="0" y2="357.7"><stop offset="0" stop-color="#2f86d6" stop-opacity="1"/><stop offset="0.7" stop-color="#2f86d6" stop-opacity="0.9"/><stop offset="1" stop-color="#2f86d6" stop-opacity="0.5"/></linearGradient>
<path d="M432.45 400.30Q433.10 399.15 433.18 395.40L433.22 357.7L433.98 357.7L434.02 395.40Q434.10 399.15 434.75 400.30Z" fill="url(#gj433)"/>
<linearGradient id="gj476" gradientUnits="userSpaceOnUse" x1="0" y1="418.9" x2="0" y2="384.5"><stop offset="0" stop-color="#2f86d6" stop-opacity="1"/><stop offset="0.7" stop-color="#2f86d6" stop-opacity="0.9"/><stop offset="1" stop-color="#2f86d6" stop-opacity="0.5"/></linearGradient>
<path d="M475.45 419.30Q476.10 418.15 476.18 414.40L476.22 384.5L476.98 384.5L477.02 414.40Q477.10 418.15 477.75 419.30Z" fill="url(#gj476)"/>
<text x="425.6" y="406.4" font-size="4.5" text-anchor="middle" fill="#333">2000</text>
<text x="542.6" y="410.7" font-size="4.5" text-anchor="middle" fill="#333">2000</text>
<text x="473.0" y="426.3" font-size="4.5" text-anchor="middle" fill="#333">0</text>
<text x="481.6" y="426.3" font-size="4.5" text-anchor="middle" fill="#333">0</text>
<text x="446.9" y="420.3" font-family='"Liberation Serif", serif' font-style="italic" font-size="5.2" text-anchor="middle" fill="#444">N<tspan font-size="3.6" dy="1">y</tspan></text>
<text x="509.3" y="428.6" font-family='"Liberation Serif", serif' font-style="italic" font-size="5.2" text-anchor="middle" fill="#444">N<tspan font-size="3.6" dy="1">x</tspan></text>
<text transform="translate(416.6 378.2) rotate(0)" font-family='"Liberation Serif", serif' font-style="italic" font-size="5.6" text-anchor="middle" fill="#444">P</text>
<text x="435.40000000000003" y="367.4" font-size="10" fill="#111" stroke="#111" stroke-width="0.2">(j)</text>
</g>
</svg>
</body></html>
